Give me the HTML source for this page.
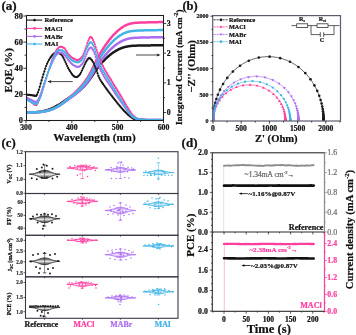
<!DOCTYPE html>
<html><head><meta charset="utf-8"><style>html,body{margin:0;padding:0;background:#fff;width:356px;height:335px;overflow:hidden}svg{display:block;filter:blur(0.3px)}text{font-family:"Liberation Serif",serif}</style></head>
<body><svg width="356" height="335" viewBox="0 0 356 335" font-family='"Liberation Serif", serif'>
<rect width="356" height="335" fill="#fff"/>
<defs><linearGradient id="g0" x1="0" y1="0" x2="0" y2="1"><stop offset="0" stop-color="#3a3a3a"/><stop offset="0.5" stop-color="#e8e8e8"/><stop offset="1" stop-color="#3a3a3a"/></linearGradient><linearGradient id="g1" x1="0" y1="0" x2="0" y2="1"><stop offset="0" stop-color="#ff5fb0"/><stop offset="0.5" stop-color="#ffe6f3"/><stop offset="1" stop-color="#ff5fb0"/></linearGradient><linearGradient id="g2" x1="0" y1="0" x2="0" y2="1"><stop offset="0" stop-color="#b98af5"/><stop offset="0.5" stop-color="#f3eafe"/><stop offset="1" stop-color="#b98af5"/></linearGradient><linearGradient id="g3" x1="0" y1="0" x2="0" y2="1"><stop offset="0" stop-color="#5fc0ec"/><stop offset="0.5" stop-color="#e8f6fd"/><stop offset="1" stop-color="#5fc0ec"/></linearGradient><clipPath id="clipA"><rect x="26" y="16" width="137.5" height="104.5"/></clipPath><clipPath id="clipB"><rect x="213" y="16" width="127.5" height="105"/></clipPath></defs>
<g clip-path="url(#clipA)">
<path d="M26.00,112.50 L26.46,112.50 L26.92,112.49 L27.38,112.49 L27.83,112.48 L28.29,112.47 L28.75,112.46 L29.21,112.45 L29.67,112.44 L30.12,112.43 L30.58,112.41 L31.04,112.40 L31.50,112.38 L31.96,112.37 L32.42,112.35 L32.88,112.32 L33.33,112.30 L33.79,112.28 L34.25,112.25 L34.71,112.22 L35.17,112.20 L35.62,112.16 L36.08,112.13 L36.54,112.10 L37.00,112.06 L37.46,112.03 L37.92,111.98 L38.38,111.94 L38.83,111.89 L39.29,111.84 L39.75,111.78 L40.21,111.72 L40.67,111.66 L41.12,111.58 L41.58,111.51 L42.04,111.43 L42.50,111.34 L42.96,111.25 L43.42,111.15 L43.88,111.04 L44.33,110.93 L44.79,110.82 L45.25,110.70 L45.71,110.57 L46.17,110.44 L46.62,110.30 L47.08,110.15 L47.54,110.01 L48.00,109.85 L48.46,109.69 L48.92,109.53 L49.38,109.36 L49.83,109.19 L50.29,109.01 L50.75,108.83 L51.21,108.64 L51.67,108.44 L52.12,108.25 L52.58,108.04 L53.04,107.83 L53.50,107.62 L53.96,107.40 L54.42,107.17 L54.88,106.94 L55.33,106.70 L55.79,106.46 L56.25,106.21 L56.71,105.95 L57.17,105.68 L57.62,105.41 L58.08,105.14 L58.54,104.85 L59.00,104.57 L59.46,104.27 L59.92,103.98 L60.38,103.68 L60.83,103.37 L61.29,103.06 L61.75,102.75 L62.21,102.44 L62.67,102.12 L63.12,101.81 L63.58,101.49 L64.04,101.17 L64.50,100.86 L64.96,100.54 L65.42,100.23 L65.88,99.91 L66.33,99.60 L66.79,99.29 L67.25,98.98 L67.71,98.67 L68.17,98.37 L68.62,98.07 L69.08,97.77 L69.54,97.48 L70.00,97.18 L70.46,96.89 L70.92,96.60 L71.38,96.31 L71.83,96.03 L72.29,95.74 L72.75,95.45 L73.21,95.16 L73.67,94.87 L74.12,94.57 L74.58,94.26 L75.04,93.94 L75.50,93.62 L75.96,93.30 L76.42,92.96 L76.88,92.63 L77.33,92.28 L77.79,91.93 L78.25,91.57 L78.71,91.21 L79.17,90.83 L79.62,90.45 L80.08,90.06 L80.54,89.66 L81.00,89.26 L81.46,88.84 L81.92,88.41 L82.38,87.97 L82.83,87.52 L83.29,87.06 L83.75,86.59 L84.21,86.11 L84.67,85.62 L85.12,85.12 L85.58,84.61 L86.04,84.09 L86.50,83.55 L86.96,83.00 L87.42,82.44 L87.88,81.86 L88.33,81.27 L88.79,80.66 L89.25,80.03 L89.71,79.39 L90.17,78.75 L90.62,78.09 L91.08,77.43 L91.54,76.76 L92.00,76.08 L92.46,75.39 L92.92,74.70 L93.38,74.00 L93.83,73.30 L94.29,72.61 L94.75,71.92 L95.21,71.24 L95.67,70.57 L96.12,69.91 L96.58,69.26 L97.04,68.63 L97.50,68.01 L97.96,67.40 L98.42,66.81 L98.88,66.23 L99.33,65.67 L99.79,65.11 L100.25,64.57 L100.71,64.03 L101.17,63.51 L101.62,62.99 L102.08,62.49 L102.54,61.99 L103.00,61.50 L103.46,61.02 L103.92,60.55 L104.38,60.08 L104.83,59.62 L105.29,59.17 L105.75,58.72 L106.21,58.28 L106.67,57.85 L107.12,57.43 L107.58,57.01 L108.04,56.59 L108.50,56.19 L108.96,55.79 L109.42,55.40 L109.88,55.02 L110.33,54.65 L110.79,54.29 L111.25,53.94 L111.71,53.60 L112.17,53.27 L112.62,52.94 L113.08,52.63 L113.54,52.32 L114.00,52.02 L114.46,51.72 L114.92,51.43 L115.38,51.16 L115.83,50.88 L116.29,50.62 L116.75,50.36 L117.21,50.11 L117.67,49.87 L118.12,49.63 L118.58,49.41 L119.04,49.19 L119.50,48.97 L119.96,48.77 L120.42,48.57 L120.87,48.38 L121.33,48.20 L121.79,48.03 L122.25,47.86 L122.71,47.71 L123.17,47.56 L123.62,47.41 L124.08,47.28 L124.54,47.15 L125.00,47.03 L125.46,46.91 L125.92,46.80 L126.38,46.70 L126.83,46.60 L127.29,46.51 L127.75,46.42 L128.21,46.34 L128.67,46.26 L129.12,46.19 L129.58,46.12 L130.04,46.06 L130.50,46.01 L130.96,45.96 L131.42,45.91 L131.88,45.87 L132.33,45.83 L132.79,45.80 L133.25,45.77 L133.71,45.75 L134.17,45.72 L134.62,45.70 L135.08,45.68 L135.54,45.67 L136.00,45.65 L136.46,45.64 L136.92,45.62 L137.38,45.61 L137.83,45.60 L138.29,45.59 L138.75,45.58 L139.21,45.58 L139.67,45.57 L140.12,45.56 L140.58,45.55 L141.04,45.54 L141.50,45.53 L141.96,45.52 L142.42,45.52 L142.88,45.51 L143.33,45.50 L143.79,45.49 L144.25,45.48 L144.71,45.48 L145.17,45.47 L145.62,45.46 L146.08,45.45 L146.54,45.45 L147.00,45.44 L147.46,45.43 L147.92,45.42 L148.38,45.41 L148.83,45.41 L149.29,45.40 L149.75,45.39 L150.21,45.38 L150.67,45.38 L151.12,45.37 L151.58,45.36 L152.04,45.35 L152.50,45.34 L152.96,45.34 L153.42,45.33 L153.88,45.32 L154.33,45.31 L154.79,45.30 L155.25,45.30 L155.71,45.29 L156.17,45.28 L156.62,45.27 L157.08,45.26 L157.54,45.26 L158.00,45.25 L158.46,45.24 L158.92,45.23 L159.38,45.22 L159.83,45.21 L160.29,45.21 L160.75,45.20 L161.21,45.19 L161.67,45.18 L162.12,45.17 L162.58,45.17 L163.04,45.16 L163.50,45.15" fill="none" stroke="#1a1a1a" stroke-width="2.5" stroke-linejoin="round" stroke-linecap="round" />
<path d="M26.00,112.50 L26.46,112.50 L26.92,112.49 L27.38,112.49 L27.83,112.48 L28.29,112.48 L28.75,112.47 L29.21,112.46 L29.67,112.45 L30.12,112.44 L30.58,112.43 L31.04,112.42 L31.50,112.41 L31.96,112.40 L32.42,112.39 L32.88,112.37 L33.33,112.36 L33.79,112.34 L34.25,112.32 L34.71,112.31 L35.17,112.29 L35.62,112.27 L36.08,112.25 L36.54,112.23 L37.00,112.21 L37.46,112.18 L37.92,112.16 L38.38,112.13 L38.83,112.10 L39.29,112.07 L39.75,112.03 L40.21,111.99 L40.67,111.95 L41.12,111.90 L41.58,111.85 L42.04,111.79 L42.50,111.73 L42.96,111.67 L43.42,111.60 L43.88,111.52 L44.33,111.44 L44.79,111.35 L45.25,111.26 L45.71,111.17 L46.17,111.07 L46.62,110.96 L47.08,110.85 L47.54,110.73 L48.00,110.61 L48.46,110.48 L48.92,110.34 L49.38,110.20 L49.83,110.06 L50.29,109.90 L50.75,109.74 L51.21,109.58 L51.67,109.40 L52.12,109.22 L52.58,109.04 L53.04,108.84 L53.50,108.64 L53.96,108.43 L54.42,108.21 L54.88,107.99 L55.33,107.75 L55.79,107.51 L56.25,107.25 L56.71,106.99 L57.17,106.72 L57.62,106.43 L58.08,106.14 L58.54,105.85 L59.00,105.54 L59.46,105.23 L59.92,104.91 L60.38,104.58 L60.83,104.25 L61.29,103.91 L61.75,103.57 L62.21,103.22 L62.67,102.86 L63.12,102.51 L63.58,102.14 L64.04,101.78 L64.50,101.41 L64.96,101.03 L65.42,100.66 L65.88,100.28 L66.33,99.90 L66.79,99.53 L67.25,99.15 L67.71,98.77 L68.17,98.39 L68.62,98.02 L69.08,97.64 L69.54,97.26 L70.00,96.89 L70.46,96.51 L70.92,96.13 L71.38,95.75 L71.83,95.37 L72.29,94.99 L72.75,94.60 L73.21,94.21 L73.67,93.80 L74.12,93.39 L74.58,92.97 L75.04,92.53 L75.50,92.09 L75.96,91.64 L76.42,91.18 L76.88,90.71 L77.33,90.24 L77.79,89.77 L78.25,89.28 L78.71,88.79 L79.17,88.30 L79.62,87.79 L80.08,87.28 L80.54,86.76 L81.00,86.23 L81.46,85.70 L81.92,85.16 L82.38,84.62 L82.83,84.06 L83.29,83.50 L83.75,82.92 L84.21,82.34 L84.67,81.74 L85.12,81.12 L85.58,80.50 L86.04,79.86 L86.50,79.20 L86.96,78.52 L87.42,77.82 L87.88,77.09 L88.33,76.33 L88.79,75.55 L89.25,74.75 L89.71,73.92 L90.17,73.07 L90.62,72.20 L91.08,71.31 L91.54,70.41 L92.00,69.49 L92.46,68.57 L92.92,67.63 L93.38,66.68 L93.83,65.73 L94.29,64.78 L94.75,63.83 L95.21,62.89 L95.67,61.97 L96.12,61.05 L96.58,60.15 L97.04,59.26 L97.50,58.39 L97.96,57.52 L98.42,56.67 L98.88,55.83 L99.33,55.01 L99.79,54.20 L100.25,53.40 L100.71,52.62 L101.17,51.86 L101.62,51.10 L102.08,50.36 L102.54,49.63 L103.00,48.92 L103.46,48.21 L103.92,47.52 L104.38,46.83 L104.83,46.16 L105.29,45.49 L105.75,44.83 L106.21,44.18 L106.67,43.54 L107.12,42.90 L107.58,42.27 L108.04,41.64 L108.50,41.03 L108.96,40.42 L109.42,39.82 L109.88,39.24 L110.33,38.66 L110.79,38.10 L111.25,37.55 L111.71,37.01 L112.17,36.48 L112.62,35.96 L113.08,35.46 L113.54,34.96 L114.00,34.48 L114.46,34.00 L114.92,33.53 L115.38,33.08 L115.83,32.63 L116.29,32.19 L116.75,31.76 L117.21,31.34 L117.67,30.92 L118.12,30.52 L118.58,30.12 L119.04,29.74 L119.50,29.36 L119.96,29.00 L120.42,28.64 L120.87,28.30 L121.33,27.97 L121.79,27.65 L122.25,27.34 L122.71,27.04 L123.17,26.75 L123.62,26.48 L124.08,26.22 L124.54,25.96 L125.00,25.72 L125.46,25.49 L125.92,25.27 L126.38,25.06 L126.83,24.87 L127.29,24.68 L127.75,24.50 L128.21,24.33 L128.67,24.18 L129.12,24.03 L129.58,23.89 L130.04,23.76 L130.50,23.64 L130.96,23.53 L131.42,23.43 L131.88,23.34 L132.33,23.25 L132.79,23.17 L133.25,23.11 L133.71,23.04 L134.17,22.98 L134.62,22.93 L135.08,22.88 L135.54,22.84 L136.00,22.80 L136.46,22.76 L136.92,22.73 L137.38,22.71 L137.83,22.68 L138.29,22.66 L138.75,22.63 L139.21,22.61 L139.67,22.59 L140.12,22.58 L140.58,22.56 L141.04,22.54 L141.50,22.53 L141.96,22.51 L142.42,22.50 L142.88,22.49 L143.33,22.47 L143.79,22.46 L144.25,22.45 L144.71,22.44 L145.17,22.43 L145.62,22.41 L146.08,22.40 L146.54,22.39 L147.00,22.38 L147.46,22.37 L147.92,22.36 L148.38,22.35 L148.83,22.34 L149.29,22.33 L149.75,22.31 L150.21,22.30 L150.67,22.29 L151.12,22.28 L151.58,22.27 L152.04,22.26 L152.50,22.25 L152.96,22.24 L153.42,22.23 L153.88,22.22 L154.33,22.21 L154.79,22.20 L155.25,22.19 L155.71,22.18 L156.17,22.17 L156.62,22.16 L157.08,22.15 L157.54,22.14 L158.00,22.13 L158.46,22.12 L158.92,22.11 L159.38,22.10 L159.83,22.09 L160.29,22.08 L160.75,22.07 L161.21,22.06 L161.67,22.05 L162.12,22.04 L162.58,22.03 L163.04,22.02 L163.50,22.01" fill="none" stroke="#ff3fa0" stroke-width="2.5" stroke-linejoin="round" stroke-linecap="round" />
<path d="M26.00,112.50 L26.46,112.50 L26.92,112.49 L27.38,112.49 L27.83,112.48 L28.29,112.48 L28.75,112.47 L29.21,112.46 L29.67,112.45 L30.12,112.44 L30.58,112.43 L31.04,112.42 L31.50,112.41 L31.96,112.39 L32.42,112.38 L32.88,112.36 L33.33,112.35 L33.79,112.33 L34.25,112.31 L34.71,112.29 L35.17,112.27 L35.62,112.25 L36.08,112.22 L36.54,112.20 L37.00,112.18 L37.46,112.15 L37.92,112.12 L38.38,112.09 L38.83,112.06 L39.29,112.02 L39.75,111.98 L40.21,111.94 L40.67,111.90 L41.12,111.85 L41.58,111.80 L42.04,111.74 L42.50,111.68 L42.96,111.61 L43.42,111.54 L43.88,111.47 L44.33,111.39 L44.79,111.31 L45.25,111.22 L45.71,111.12 L46.17,111.03 L46.62,110.92 L47.08,110.82 L47.54,110.70 L48.00,110.58 L48.46,110.46 L48.92,110.33 L49.38,110.20 L49.83,110.06 L50.29,109.92 L50.75,109.77 L51.21,109.61 L51.67,109.45 L52.12,109.28 L52.58,109.11 L53.04,108.93 L53.50,108.75 L53.96,108.56 L54.42,108.36 L54.88,108.15 L55.33,107.94 L55.79,107.72 L56.25,107.49 L56.71,107.25 L57.17,107.00 L57.62,106.75 L58.08,106.49 L58.54,106.22 L59.00,105.95 L59.46,105.67 L59.92,105.38 L60.38,105.09 L60.83,104.80 L61.29,104.50 L61.75,104.20 L62.21,103.89 L62.67,103.58 L63.12,103.26 L63.58,102.94 L64.04,102.62 L64.50,102.30 L64.96,101.97 L65.42,101.64 L65.88,101.31 L66.33,100.98 L66.79,100.65 L67.25,100.32 L67.71,99.99 L68.17,99.65 L68.62,99.32 L69.08,98.99 L69.54,98.66 L70.00,98.33 L70.46,98.00 L70.92,97.68 L71.38,97.35 L71.83,97.02 L72.29,96.69 L72.75,96.35 L73.21,96.01 L73.67,95.66 L74.12,95.31 L74.58,94.94 L75.04,94.57 L75.50,94.19 L75.96,93.80 L76.42,93.41 L76.88,93.02 L77.33,92.61 L77.79,92.21 L78.25,91.79 L78.71,91.38 L79.17,90.95 L79.62,90.52 L80.08,90.08 L80.54,89.64 L81.00,89.19 L81.46,88.74 L81.92,88.28 L82.38,87.81 L82.83,87.34 L83.29,86.85 L83.75,86.36 L84.21,85.86 L84.67,85.34 L85.12,84.82 L85.58,84.28 L86.04,83.73 L86.50,83.17 L86.96,82.58 L87.42,81.98 L87.88,81.36 L88.33,80.72 L88.79,80.06 L89.25,79.38 L89.71,78.68 L90.17,77.97 L90.62,77.23 L91.08,76.48 L91.54,75.72 L92.00,74.95 L92.46,74.17 L92.92,73.37 L93.38,72.57 L93.83,71.77 L94.29,70.97 L94.75,70.17 L95.21,69.38 L95.67,68.61 L96.12,67.85 L96.58,67.10 L97.04,66.36 L97.50,65.64 L97.96,64.93 L98.42,64.22 L98.88,63.54 L99.33,62.86 L99.79,62.20 L100.25,61.55 L100.71,60.91 L101.17,60.28 L101.62,59.67 L102.08,59.07 L102.54,58.47 L103.00,57.89 L103.46,57.32 L103.92,56.76 L104.38,56.20 L104.83,55.66 L105.29,55.12 L105.75,54.58 L106.21,54.06 L106.67,53.54 L107.12,53.02 L107.58,52.52 L108.04,52.02 L108.50,51.52 L108.96,51.03 L109.42,50.56 L109.88,50.09 L110.33,49.63 L110.79,49.18 L111.25,48.74 L111.71,48.31 L112.17,47.89 L112.62,47.49 L113.08,47.09 L113.54,46.70 L114.00,46.32 L114.46,45.95 L114.92,45.58 L115.38,45.23 L115.83,44.88 L116.29,44.54 L116.75,44.21 L117.21,43.89 L117.67,43.57 L118.12,43.27 L118.58,42.97 L119.04,42.68 L119.50,42.40 L119.96,42.12 L120.42,41.86 L120.87,41.60 L121.33,41.36 L121.79,41.12 L122.25,40.89 L122.71,40.67 L123.17,40.46 L123.62,40.26 L124.08,40.07 L124.54,39.89 L125.00,39.72 L125.46,39.55 L125.92,39.39 L126.38,39.25 L126.83,39.11 L127.29,38.98 L127.75,38.86 L128.21,38.74 L128.67,38.64 L129.12,38.54 L129.58,38.45 L130.04,38.36 L130.50,38.29 L130.96,38.21 L131.42,38.15 L131.88,38.09 L132.33,38.03 L132.79,37.99 L133.25,37.94 L133.71,37.90 L134.17,37.86 L134.62,37.83 L135.08,37.80 L135.54,37.77 L136.00,37.74 L136.46,37.72 L136.92,37.70 L137.38,37.68 L137.83,37.66 L138.29,37.64 L138.75,37.63 L139.21,37.61 L139.67,37.60 L140.12,37.58 L140.58,37.57 L141.04,37.56 L141.50,37.55 L141.96,37.54 L142.42,37.52 L142.88,37.51 L143.33,37.50 L143.79,37.49 L144.25,37.48 L144.71,37.48 L145.17,37.47 L145.62,37.46 L146.08,37.45 L146.54,37.44 L147.00,37.43 L147.46,37.42 L147.92,37.41 L148.38,37.40 L148.83,37.40 L149.29,37.39 L149.75,37.38 L150.21,37.37 L150.67,37.36 L151.12,37.35 L151.58,37.34 L152.04,37.34 L152.50,37.33 L152.96,37.32 L153.42,37.31 L153.88,37.30 L154.33,37.30 L154.79,37.29 L155.25,37.28 L155.71,37.27 L156.17,37.26 L156.62,37.26 L157.08,37.25 L157.54,37.24 L158.00,37.23 L158.46,37.22 L158.92,37.22 L159.38,37.21 L159.83,37.20 L160.29,37.19 L160.75,37.19 L161.21,37.18 L161.67,37.17 L162.12,37.16 L162.58,37.15 L163.04,37.15 L163.50,37.14" fill="none" stroke="#ab6cf0" stroke-width="2.5" stroke-linejoin="round" stroke-linecap="round" />
<path d="M26.00,112.50 L26.46,112.50 L26.92,112.49 L27.38,112.49 L27.83,112.48 L28.29,112.48 L28.75,112.47 L29.21,112.46 L29.67,112.46 L30.12,112.45 L30.58,112.44 L31.04,112.43 L31.50,112.41 L31.96,112.40 L32.42,112.39 L32.88,112.37 L33.33,112.36 L33.79,112.34 L34.25,112.32 L34.71,112.31 L35.17,112.29 L35.62,112.27 L36.08,112.25 L36.54,112.23 L37.00,112.20 L37.46,112.18 L37.92,112.15 L38.38,112.13 L38.83,112.09 L39.29,112.06 L39.75,112.03 L40.21,111.99 L40.67,111.94 L41.12,111.90 L41.58,111.85 L42.04,111.79 L42.50,111.73 L42.96,111.67 L43.42,111.60 L43.88,111.53 L44.33,111.45 L44.79,111.36 L45.25,111.27 L45.71,111.18 L46.17,111.08 L46.62,110.98 L47.08,110.87 L47.54,110.75 L48.00,110.63 L48.46,110.51 L48.92,110.38 L49.38,110.24 L49.83,110.10 L50.29,109.95 L50.75,109.80 L51.21,109.63 L51.67,109.47 L52.12,109.29 L52.58,109.11 L53.04,108.92 L53.50,108.73 L53.96,108.53 L54.42,108.32 L54.88,108.10 L55.33,107.88 L55.79,107.64 L56.25,107.40 L56.71,107.14 L57.17,106.88 L57.62,106.61 L58.08,106.34 L58.54,106.06 L59.00,105.77 L59.46,105.47 L59.92,105.17 L60.38,104.86 L60.83,104.55 L61.29,104.23 L61.75,103.91 L62.21,103.58 L62.67,103.25 L63.12,102.92 L63.58,102.58 L64.04,102.23 L64.50,101.89 L64.96,101.54 L65.42,101.19 L65.88,100.83 L66.33,100.48 L66.79,100.12 L67.25,99.77 L67.71,99.41 L68.17,99.06 L68.62,98.70 L69.08,98.35 L69.54,97.99 L70.00,97.63 L70.46,97.28 L70.92,96.92 L71.38,96.57 L71.83,96.21 L72.29,95.85 L72.75,95.48 L73.21,95.11 L73.67,94.73 L74.12,94.34 L74.58,93.94 L75.04,93.53 L75.50,93.12 L75.96,92.69 L76.42,92.26 L76.88,91.82 L77.33,91.37 L77.79,90.92 L78.25,90.46 L78.71,90.00 L79.17,89.53 L79.62,89.06 L80.08,88.57 L80.54,88.08 L81.00,87.59 L81.46,87.08 L81.92,86.58 L82.38,86.06 L82.83,85.54 L83.29,85.01 L83.75,84.46 L84.21,83.91 L84.67,83.34 L85.12,82.76 L85.58,82.16 L86.04,81.56 L86.50,80.94 L86.96,80.30 L87.42,79.64 L87.88,78.96 L88.33,78.25 L88.79,77.53 L89.25,76.79 L89.71,76.02 L90.17,75.24 L90.62,74.43 L91.08,73.61 L91.54,72.78 L92.00,71.94 L92.46,71.08 L92.92,70.21 L93.38,69.33 L93.83,68.45 L94.29,67.57 L94.75,66.70 L95.21,65.83 L95.67,64.98 L96.12,64.14 L96.58,63.32 L97.04,62.51 L97.50,61.72 L97.96,60.93 L98.42,60.16 L98.88,59.41 L99.33,58.66 L99.79,57.93 L100.25,57.22 L100.71,56.52 L101.17,55.83 L101.62,55.15 L102.08,54.48 L102.54,53.83 L103.00,53.19 L103.46,52.55 L103.92,51.93 L104.38,51.31 L104.83,50.70 L105.29,50.10 L105.75,49.50 L106.21,48.92 L106.67,48.33 L107.12,47.76 L107.58,47.19 L108.04,46.63 L108.50,46.08 L108.96,45.53 L109.42,45.00 L109.88,44.47 L110.33,43.96 L110.79,43.46 L111.25,42.97 L111.71,42.49 L112.17,42.02 L112.62,41.57 L113.08,41.12 L113.54,40.69 L114.00,40.26 L114.46,39.85 L114.92,39.44 L115.38,39.04 L115.83,38.65 L116.29,38.27 L116.75,37.90 L117.21,37.54 L117.67,37.19 L118.12,36.84 L118.58,36.51 L119.04,36.19 L119.50,35.87 L119.96,35.56 L120.42,35.27 L120.87,34.98 L121.33,34.71 L121.79,34.44 L122.25,34.19 L122.71,33.94 L123.17,33.71 L123.62,33.49 L124.08,33.27 L124.54,33.07 L125.00,32.87 L125.46,32.69 L125.92,32.51 L126.38,32.35 L126.83,32.20 L127.29,32.05 L127.75,31.92 L128.21,31.79 L128.67,31.67 L129.12,31.56 L129.58,31.46 L130.04,31.37 L130.50,31.28 L130.96,31.20 L131.42,31.12 L131.88,31.06 L132.33,30.99 L132.79,30.94 L133.25,30.89 L133.71,30.84 L134.17,30.80 L134.62,30.76 L135.08,30.72 L135.54,30.69 L136.00,30.66 L136.46,30.63 L136.92,30.60 L137.38,30.58 L137.83,30.56 L138.29,30.54 L138.75,30.52 L139.21,30.51 L139.67,30.49 L140.12,30.48 L140.58,30.46 L141.04,30.45 L141.50,30.44 L141.96,30.42 L142.42,30.41 L142.88,30.40 L143.33,30.39 L143.79,30.38 L144.25,30.37 L144.71,30.36 L145.17,30.35 L145.62,30.34 L146.08,30.33 L146.54,30.32 L147.00,30.31 L147.46,30.31 L147.92,30.30 L148.38,30.29 L148.83,30.28 L149.29,30.27 L149.75,30.26 L150.21,30.25 L150.67,30.24 L151.12,30.24 L151.58,30.23 L152.04,30.22 L152.50,30.21 L152.96,30.20 L153.42,30.19 L153.88,30.19 L154.33,30.18 L154.79,30.17 L155.25,30.16 L155.71,30.15 L156.17,30.15 L156.62,30.14 L157.08,30.13 L157.54,30.12 L158.00,30.11 L158.46,30.11 L158.92,30.10 L159.38,30.09 L159.83,30.08 L160.29,30.07 L160.75,30.07 L161.21,30.06 L161.67,30.05 L162.12,30.04 L162.58,30.03 L163.04,30.03 L163.50,30.02" fill="none" stroke="#42b4e6" stroke-width="2.5" stroke-linejoin="round" stroke-linecap="round" />
<path d="M26.00,94.64 L26.46,94.66 L26.92,94.69 L27.38,94.73 L27.83,94.77 L28.29,94.81 L28.75,94.85 L29.21,94.90 L29.67,94.94 L30.12,95.00 L30.58,95.05 L31.04,95.10 L31.50,95.16 L31.96,95.23 L32.42,95.31 L32.88,95.41 L33.33,95.52 L33.79,95.62 L34.25,95.72 L34.71,95.81 L35.17,95.88 L35.62,95.93 L36.08,95.94 L36.54,95.59 L37.00,94.72 L37.46,93.58 L37.92,92.42 L38.38,91.22 L38.83,89.85 L39.29,88.34 L39.75,86.75 L40.21,85.12 L40.67,83.51 L41.12,81.97 L41.58,80.46 L42.04,78.94 L42.50,77.41 L42.96,75.89 L43.42,74.40 L43.88,72.93 L44.33,71.52 L44.79,70.11 L45.25,68.70 L45.71,67.32 L46.17,65.99 L46.62,64.77 L47.08,63.68 L47.54,62.69 L48.00,61.75 L48.46,60.86 L48.92,60.02 L49.38,59.23 L49.83,58.48 L50.29,57.79 L50.75,57.15 L51.21,56.52 L51.67,55.91 L52.12,55.32 L52.58,54.78 L53.04,54.30 L53.50,53.91 L53.96,53.62 L54.42,53.39 L54.88,53.18 L55.33,52.98 L55.79,52.82 L56.25,52.69 L56.71,52.60 L57.17,52.58 L57.62,52.61 L58.08,52.70 L58.54,52.85 L59.00,53.04 L59.46,53.28 L59.92,53.56 L60.38,53.86 L60.83,54.19 L61.29,54.53 L61.75,55.00 L62.21,55.65 L62.67,56.44 L63.12,57.31 L63.58,58.22 L64.04,59.11 L64.50,60.02 L64.96,61.01 L65.42,62.02 L65.88,63.02 L66.33,64.03 L66.79,65.05 L67.25,66.08 L67.71,67.08 L68.17,68.03 L68.62,68.90 L69.08,69.71 L69.54,70.47 L70.00,71.20 L70.46,71.90 L70.92,72.57 L71.38,73.21 L71.83,73.88 L72.29,74.55 L72.75,75.19 L73.21,75.72 L73.67,76.09 L74.12,76.35 L74.58,76.60 L75.04,76.81 L75.50,76.98 L75.96,77.09 L76.42,77.13 L76.88,77.06 L77.33,76.86 L77.79,76.56 L78.25,76.18 L78.71,75.74 L79.17,75.27 L79.62,74.78 L80.08,74.20 L80.54,73.46 L81.00,72.58 L81.46,71.62 L81.92,70.60 L82.38,69.57 L82.83,68.55 L83.29,67.60 L83.75,66.64 L84.21,65.63 L84.67,64.60 L85.12,63.60 L85.58,62.65 L86.04,61.79 L86.50,61.07 L86.96,60.39 L87.42,59.71 L87.88,59.08 L88.33,58.55 L88.79,58.19 L89.25,58.06 L89.71,58.16 L90.17,58.43 L90.62,58.83 L91.08,59.32 L91.54,59.86 L92.00,60.41 L92.46,61.05 L92.92,61.85 L93.38,62.77 L93.83,63.79 L94.29,64.88 L94.75,66.01 L95.21,67.14 L95.67,68.25 L96.12,69.40 L96.58,70.66 L97.04,71.98 L97.50,73.32 L97.96,74.64 L98.42,75.90 L98.88,77.05 L99.33,78.05 L99.79,78.93 L100.25,79.76 L100.71,80.54 L101.17,81.28 L101.62,81.99 L102.08,82.67 L102.54,83.33 L103.00,83.97 L103.46,84.61 L103.92,85.24 L104.38,85.88 L104.83,86.54 L105.29,87.20 L105.75,87.85 L106.21,88.49 L106.67,89.13 L107.12,89.77 L107.58,90.40 L108.04,91.02 L108.50,91.64 L108.96,92.25 L109.42,92.86 L109.88,93.47 L110.33,94.07 L110.79,94.67 L111.25,95.27 L111.71,95.87 L112.17,96.46 L112.62,97.05 L113.08,97.64 L113.54,98.23 L114.00,98.81 L114.46,99.40 L114.92,99.97 L115.38,100.55 L115.83,101.12 L116.29,101.69 L116.75,102.26 L117.21,102.82 L117.67,103.38 L118.12,103.94 L118.58,104.49 L119.04,105.04 L119.50,105.59 L119.96,106.13 L120.42,106.67 L120.87,107.22 L121.33,107.76 L121.79,108.30 L122.25,108.84 L122.71,109.37 L123.17,109.89 L123.62,110.39 L124.08,110.88 L124.54,111.36 L125.00,111.82 L125.46,112.27 L125.92,112.71 L126.38,113.14 L126.83,113.57 L127.29,113.98 L127.75,114.39 L128.21,114.78 L128.67,115.16 L129.12,115.54 L129.58,115.91 L130.04,116.29 L130.50,116.68 L130.96,117.06 L131.42,117.43 L131.88,117.78 L132.33,118.09 L132.79,118.38 L133.25,118.62 L133.71,118.80 L134.17,118.96 L134.62,119.11 L135.08,119.25 L135.54,119.38 L136.00,119.50 L136.46,119.61 L136.92,119.70 L137.38,119.77 L137.83,119.82 L138.29,119.85 L138.75,119.86 L139.21,119.88 L139.67,119.89 L140.12,119.91 L140.58,119.92 L141.04,119.93 L141.50,119.94 L141.96,119.95 L142.42,119.96 L142.88,119.96 L143.33,119.97 L143.79,119.97 L144.25,119.98 L144.71,119.98 L145.17,119.98 L145.62,119.98 L146.08,119.98 L146.54,119.98 L147.00,119.98 L147.46,119.98 L147.92,119.98 L148.38,119.98 L148.83,119.98 L149.29,119.98 L149.75,119.98 L150.21,119.98 L150.67,119.98 L151.12,119.98 L151.58,119.98 L152.04,119.98 L152.50,119.98 L152.96,119.98 L153.42,119.98 L153.88,119.98 L154.33,119.98 L154.79,119.98 L155.25,119.98 L155.71,119.98 L156.17,119.98 L156.62,119.98 L157.08,119.98 L157.54,119.98 L158.00,119.98 L158.46,119.98 L158.92,119.98 L159.38,119.98 L159.83,119.98 L160.29,119.98 L160.75,119.98 L161.21,119.98 L161.67,119.98 L162.12,119.98 L162.58,119.98 L163.04,119.98 L163.50,119.98" fill="none" stroke="#1a1a1a" stroke-width="1.0" stroke-linejoin="round" stroke-linecap="round" />
<g fill="#1a1a1a"><circle cx="26.00" cy="94.64" r="1.1"/><circle cx="26.92" cy="94.69" r="1.1"/><circle cx="27.83" cy="94.77" r="1.1"/><circle cx="28.75" cy="94.85" r="1.1"/><circle cx="29.67" cy="94.94" r="1.1"/><circle cx="30.58" cy="95.05" r="1.1"/><circle cx="31.50" cy="95.16" r="1.1"/><circle cx="32.42" cy="95.31" r="1.1"/><circle cx="33.33" cy="95.52" r="1.1"/><circle cx="34.25" cy="95.72" r="1.1"/><circle cx="35.17" cy="95.88" r="1.1"/><circle cx="36.08" cy="95.94" r="1.1"/><circle cx="37.00" cy="94.72" r="1.1"/><circle cx="37.92" cy="92.42" r="1.1"/><circle cx="38.83" cy="89.85" r="1.1"/><circle cx="39.75" cy="86.75" r="1.1"/><circle cx="40.67" cy="83.51" r="1.1"/><circle cx="41.58" cy="80.46" r="1.1"/><circle cx="42.50" cy="77.41" r="1.1"/><circle cx="43.42" cy="74.40" r="1.1"/><circle cx="44.33" cy="71.52" r="1.1"/><circle cx="45.25" cy="68.70" r="1.1"/><circle cx="46.17" cy="65.99" r="1.1"/><circle cx="47.08" cy="63.68" r="1.1"/><circle cx="48.00" cy="61.75" r="1.1"/><circle cx="48.92" cy="60.02" r="1.1"/><circle cx="49.83" cy="58.48" r="1.1"/><circle cx="50.75" cy="57.15" r="1.1"/><circle cx="51.67" cy="55.91" r="1.1"/><circle cx="52.58" cy="54.78" r="1.1"/><circle cx="53.50" cy="53.91" r="1.1"/><circle cx="54.42" cy="53.39" r="1.1"/><circle cx="55.33" cy="52.98" r="1.1"/><circle cx="56.25" cy="52.69" r="1.1"/><circle cx="57.17" cy="52.58" r="1.1"/><circle cx="58.08" cy="52.70" r="1.1"/><circle cx="59.00" cy="53.04" r="1.1"/><circle cx="59.92" cy="53.56" r="1.1"/><circle cx="60.83" cy="54.19" r="1.1"/><circle cx="61.75" cy="55.00" r="1.1"/><circle cx="62.67" cy="56.44" r="1.1"/><circle cx="63.58" cy="58.22" r="1.1"/><circle cx="64.50" cy="60.02" r="1.1"/><circle cx="65.42" cy="62.02" r="1.1"/><circle cx="66.33" cy="64.03" r="1.1"/><circle cx="67.25" cy="66.08" r="1.1"/><circle cx="68.17" cy="68.03" r="1.1"/><circle cx="69.08" cy="69.71" r="1.1"/><circle cx="70.00" cy="71.20" r="1.1"/><circle cx="70.92" cy="72.57" r="1.1"/><circle cx="71.83" cy="73.88" r="1.1"/><circle cx="72.75" cy="75.19" r="1.1"/><circle cx="73.67" cy="76.09" r="1.1"/><circle cx="74.58" cy="76.60" r="1.1"/><circle cx="75.50" cy="76.98" r="1.1"/><circle cx="76.42" cy="77.13" r="1.1"/><circle cx="77.33" cy="76.86" r="1.1"/><circle cx="78.25" cy="76.18" r="1.1"/><circle cx="79.17" cy="75.27" r="1.1"/><circle cx="80.08" cy="74.20" r="1.1"/><circle cx="81.00" cy="72.58" r="1.1"/><circle cx="81.92" cy="70.60" r="1.1"/><circle cx="82.83" cy="68.55" r="1.1"/><circle cx="83.75" cy="66.64" r="1.1"/><circle cx="84.67" cy="64.60" r="1.1"/><circle cx="85.58" cy="62.65" r="1.1"/><circle cx="86.50" cy="61.07" r="1.1"/><circle cx="87.42" cy="59.71" r="1.1"/><circle cx="88.33" cy="58.55" r="1.1"/><circle cx="89.25" cy="58.06" r="1.1"/><circle cx="90.17" cy="58.43" r="1.1"/><circle cx="91.08" cy="59.32" r="1.1"/><circle cx="92.00" cy="60.41" r="1.1"/><circle cx="92.92" cy="61.85" r="1.1"/><circle cx="93.83" cy="63.79" r="1.1"/><circle cx="94.75" cy="66.01" r="1.1"/><circle cx="95.67" cy="68.25" r="1.1"/><circle cx="96.58" cy="70.66" r="1.1"/><circle cx="97.50" cy="73.32" r="1.1"/><circle cx="98.42" cy="75.90" r="1.1"/><circle cx="99.33" cy="78.05" r="1.1"/><circle cx="100.25" cy="79.76" r="1.1"/><circle cx="101.17" cy="81.28" r="1.1"/><circle cx="102.08" cy="82.67" r="1.1"/><circle cx="103.00" cy="83.97" r="1.1"/><circle cx="103.92" cy="85.24" r="1.1"/><circle cx="104.83" cy="86.54" r="1.1"/><circle cx="105.75" cy="87.85" r="1.1"/><circle cx="106.67" cy="89.13" r="1.1"/><circle cx="107.58" cy="90.40" r="1.1"/><circle cx="108.50" cy="91.64" r="1.1"/><circle cx="109.42" cy="92.86" r="1.1"/><circle cx="110.33" cy="94.07" r="1.1"/><circle cx="111.25" cy="95.27" r="1.1"/><circle cx="112.17" cy="96.46" r="1.1"/><circle cx="113.08" cy="97.64" r="1.1"/><circle cx="114.00" cy="98.81" r="1.1"/><circle cx="114.92" cy="99.97" r="1.1"/><circle cx="115.83" cy="101.12" r="1.1"/><circle cx="116.75" cy="102.26" r="1.1"/><circle cx="117.67" cy="103.38" r="1.1"/><circle cx="118.58" cy="104.49" r="1.1"/><circle cx="119.50" cy="105.59" r="1.1"/><circle cx="120.42" cy="106.67" r="1.1"/><circle cx="121.33" cy="107.76" r="1.1"/><circle cx="122.25" cy="108.84" r="1.1"/><circle cx="123.17" cy="109.89" r="1.1"/><circle cx="124.08" cy="110.88" r="1.1"/><circle cx="125.00" cy="111.82" r="1.1"/><circle cx="125.92" cy="112.71" r="1.1"/><circle cx="126.83" cy="113.57" r="1.1"/><circle cx="127.75" cy="114.39" r="1.1"/><circle cx="128.67" cy="115.16" r="1.1"/><circle cx="129.58" cy="115.91" r="1.1"/><circle cx="130.50" cy="116.68" r="1.1"/><circle cx="131.42" cy="117.43" r="1.1"/><circle cx="132.33" cy="118.09" r="1.1"/><circle cx="133.25" cy="118.62" r="1.1"/><circle cx="134.17" cy="118.96" r="1.1"/><circle cx="135.08" cy="119.25" r="1.1"/><circle cx="136.00" cy="119.50" r="1.1"/><circle cx="136.92" cy="119.70" r="1.1"/><circle cx="137.83" cy="119.82" r="1.1"/><circle cx="138.75" cy="119.86" r="1.1"/><circle cx="139.67" cy="119.89" r="1.1"/><circle cx="140.58" cy="119.92" r="1.1"/><circle cx="141.50" cy="119.94" r="1.1"/><circle cx="142.42" cy="119.96" r="1.1"/><circle cx="143.33" cy="119.97" r="1.1"/><circle cx="144.25" cy="119.98" r="1.1"/><circle cx="145.17" cy="119.98" r="1.1"/><circle cx="146.08" cy="119.98" r="1.1"/><circle cx="147.00" cy="119.98" r="1.1"/><circle cx="147.92" cy="119.98" r="1.1"/><circle cx="148.83" cy="119.98" r="1.1"/><circle cx="149.75" cy="119.98" r="1.1"/><circle cx="150.67" cy="119.98" r="1.1"/><circle cx="151.58" cy="119.98" r="1.1"/><circle cx="152.50" cy="119.98" r="1.1"/><circle cx="153.42" cy="119.98" r="1.1"/><circle cx="154.33" cy="119.98" r="1.1"/><circle cx="155.25" cy="119.98" r="1.1"/><circle cx="156.17" cy="119.98" r="1.1"/><circle cx="157.08" cy="119.98" r="1.1"/><circle cx="158.00" cy="119.98" r="1.1"/><circle cx="158.92" cy="119.98" r="1.1"/><circle cx="159.83" cy="119.98" r="1.1"/><circle cx="160.75" cy="119.98" r="1.1"/><circle cx="161.67" cy="119.98" r="1.1"/><circle cx="162.58" cy="119.98" r="1.1"/><circle cx="163.50" cy="119.98" r="1.1"/></g>
<path d="M26.00,98.29 L26.46,98.63 L26.92,98.97 L27.38,99.31 L27.83,99.64 L28.29,99.97 L28.75,100.29 L29.21,100.61 L29.67,100.93 L30.12,101.25 L30.58,101.56 L31.04,101.89 L31.50,102.25 L31.96,102.63 L32.42,103.02 L32.88,103.41 L33.33,103.79 L33.79,104.14 L34.25,104.45 L34.71,104.71 L35.17,104.91 L35.62,105.04 L36.08,105.09 L36.54,104.91 L37.00,104.42 L37.46,103.68 L37.92,102.75 L38.38,101.68 L38.83,100.54 L39.29,99.40 L39.75,98.29 L40.21,97.16 L40.67,95.91 L41.12,94.54 L41.58,93.09 L42.04,91.58 L42.50,90.04 L42.96,88.47 L43.42,86.92 L43.88,85.40 L44.33,83.93 L44.79,82.48 L45.25,81.03 L45.71,79.57 L46.17,78.11 L46.62,76.66 L47.08,75.21 L47.54,73.77 L48.00,72.34 L48.46,70.94 L48.92,69.56 L49.38,68.18 L49.83,66.78 L50.29,65.39 L50.75,64.00 L51.21,62.64 L51.67,61.30 L52.12,60.01 L52.58,58.77 L53.04,57.59 L53.50,56.49 L53.96,55.43 L54.42,54.38 L54.88,53.35 L55.33,52.37 L55.79,51.45 L56.25,50.62 L56.71,49.90 L57.17,49.31 L57.62,48.78 L58.08,48.26 L58.54,47.77 L59.00,47.34 L59.46,47.00 L59.92,46.78 L60.38,46.70 L60.83,46.73 L61.29,46.81 L61.75,46.93 L62.21,47.09 L62.67,47.29 L63.12,47.51 L63.58,47.75 L64.04,48.00 L64.50,48.35 L64.96,48.85 L65.42,49.48 L65.88,50.20 L66.33,50.98 L66.79,51.78 L67.25,52.56 L67.71,53.31 L68.17,53.98 L68.62,54.53 L69.08,55.02 L69.54,55.50 L70.00,55.96 L70.46,56.40 L70.92,56.83 L71.38,57.22 L71.83,57.59 L72.29,57.92 L72.75,58.21 L73.21,58.45 L73.67,58.68 L74.12,58.90 L74.58,59.12 L75.04,59.33 L75.50,59.52 L75.96,59.68 L76.42,59.82 L76.88,59.93 L77.33,60.00 L77.79,60.02 L78.25,59.97 L78.71,59.83 L79.17,59.61 L79.62,59.31 L80.08,58.96 L80.54,58.55 L81.00,58.11 L81.46,57.64 L81.92,57.15 L82.38,56.53 L82.83,55.70 L83.29,54.70 L83.75,53.58 L84.21,52.37 L84.67,51.12 L85.12,49.87 L85.58,48.66 L86.04,47.39 L86.50,45.99 L86.96,44.53 L87.42,43.08 L87.88,41.71 L88.33,40.50 L88.79,39.51 L89.25,38.63 L89.71,37.78 L90.17,37.15 L90.62,36.90 L91.08,37.07 L91.54,37.53 L92.00,38.22 L92.46,39.04 L92.92,39.93 L93.38,40.82 L93.83,41.79 L94.29,42.95 L94.75,44.25 L95.21,45.65 L95.67,47.10 L96.12,48.55 L96.58,49.95 L97.04,51.27 L97.50,52.53 L97.96,53.80 L98.42,55.06 L98.88,56.32 L99.33,57.57 L99.79,58.79 L100.25,59.98 L100.71,61.13 L101.17,62.24 L101.62,63.29 L102.08,64.29 L102.54,65.26 L103.00,66.20 L103.46,67.12 L103.92,68.01 L104.38,68.87 L104.83,69.72 L105.29,70.55 L105.75,71.37 L106.21,72.17 L106.67,72.95 L107.12,73.70 L107.58,74.43 L108.04,75.14 L108.50,75.84 L108.96,76.54 L109.42,77.25 L109.88,77.96 L110.33,78.70 L110.79,79.45 L111.25,80.22 L111.71,80.99 L112.17,81.77 L112.62,82.56 L113.08,83.34 L113.54,84.13 L114.00,84.90 L114.46,85.68 L114.92,86.44 L115.38,87.19 L115.83,87.93 L116.29,88.65 L116.75,89.36 L117.21,90.07 L117.67,90.78 L118.12,91.48 L118.58,92.19 L119.04,92.91 L119.50,93.63 L119.96,94.38 L120.42,95.13 L120.87,95.90 L121.33,96.68 L121.79,97.46 L122.25,98.25 L122.71,99.04 L123.17,99.84 L123.62,100.63 L124.08,101.43 L124.54,102.21 L125.00,103.00 L125.46,103.81 L125.92,104.62 L126.38,105.44 L126.83,106.25 L127.29,107.05 L127.75,107.84 L128.21,108.60 L128.67,109.34 L129.12,110.05 L129.58,110.75 L130.04,111.45 L130.50,112.15 L130.96,112.84 L131.42,113.51 L131.88,114.14 L132.33,114.74 L132.79,115.29 L133.25,115.77 L133.71,116.19 L134.17,116.57 L134.62,116.93 L135.08,117.28 L135.54,117.61 L136.00,117.92 L136.46,118.20 L136.92,118.44 L137.38,118.65 L137.83,118.82 L138.29,118.93 L138.75,119.02 L139.21,119.11 L139.67,119.19 L140.12,119.26 L140.58,119.33 L141.04,119.40 L141.50,119.46 L141.96,119.51 L142.42,119.56 L142.88,119.60 L143.33,119.64 L143.79,119.67 L144.25,119.69 L144.71,119.71 L145.17,119.72 L145.62,119.72 L146.08,119.73 L146.54,119.74 L147.00,119.74 L147.46,119.75 L147.92,119.75 L148.38,119.76 L148.83,119.77 L149.29,119.77 L149.75,119.78 L150.21,119.78 L150.67,119.79 L151.12,119.79 L151.58,119.80 L152.04,119.80 L152.50,119.80 L152.96,119.81 L153.42,119.81 L153.88,119.81 L154.33,119.82 L154.79,119.82 L155.25,119.82 L155.71,119.83 L156.17,119.83 L156.62,119.83 L157.08,119.83 L157.54,119.83 L158.00,119.84 L158.46,119.84 L158.92,119.84 L159.38,119.84 L159.83,119.84 L160.29,119.84 L160.75,119.84 L161.21,119.85 L161.67,119.85 L162.12,119.85 L162.58,119.85 L163.04,119.85 L163.50,119.85" fill="none" stroke="#ff3fa0" stroke-width="1.0" stroke-linejoin="round" stroke-linecap="round" />
<g fill="#ff3fa0"><circle cx="26.00" cy="98.29" r="1.1"/><circle cx="26.92" cy="98.97" r="1.1"/><circle cx="27.83" cy="99.64" r="1.1"/><circle cx="28.75" cy="100.29" r="1.1"/><circle cx="29.67" cy="100.93" r="1.1"/><circle cx="30.58" cy="101.56" r="1.1"/><circle cx="31.50" cy="102.25" r="1.1"/><circle cx="32.42" cy="103.02" r="1.1"/><circle cx="33.33" cy="103.79" r="1.1"/><circle cx="34.25" cy="104.45" r="1.1"/><circle cx="35.17" cy="104.91" r="1.1"/><circle cx="36.08" cy="105.09" r="1.1"/><circle cx="37.00" cy="104.42" r="1.1"/><circle cx="37.92" cy="102.75" r="1.1"/><circle cx="38.83" cy="100.54" r="1.1"/><circle cx="39.75" cy="98.29" r="1.1"/><circle cx="40.67" cy="95.91" r="1.1"/><circle cx="41.58" cy="93.09" r="1.1"/><circle cx="42.50" cy="90.04" r="1.1"/><circle cx="43.42" cy="86.92" r="1.1"/><circle cx="44.33" cy="83.93" r="1.1"/><circle cx="45.25" cy="81.03" r="1.1"/><circle cx="46.17" cy="78.11" r="1.1"/><circle cx="47.08" cy="75.21" r="1.1"/><circle cx="48.00" cy="72.34" r="1.1"/><circle cx="48.92" cy="69.56" r="1.1"/><circle cx="49.83" cy="66.78" r="1.1"/><circle cx="50.75" cy="64.00" r="1.1"/><circle cx="51.67" cy="61.30" r="1.1"/><circle cx="52.58" cy="58.77" r="1.1"/><circle cx="53.50" cy="56.49" r="1.1"/><circle cx="54.42" cy="54.38" r="1.1"/><circle cx="55.33" cy="52.37" r="1.1"/><circle cx="56.25" cy="50.62" r="1.1"/><circle cx="57.17" cy="49.31" r="1.1"/><circle cx="58.08" cy="48.26" r="1.1"/><circle cx="59.00" cy="47.34" r="1.1"/><circle cx="59.92" cy="46.78" r="1.1"/><circle cx="60.83" cy="46.73" r="1.1"/><circle cx="61.75" cy="46.93" r="1.1"/><circle cx="62.67" cy="47.29" r="1.1"/><circle cx="63.58" cy="47.75" r="1.1"/><circle cx="64.50" cy="48.35" r="1.1"/><circle cx="65.42" cy="49.48" r="1.1"/><circle cx="66.33" cy="50.98" r="1.1"/><circle cx="67.25" cy="52.56" r="1.1"/><circle cx="68.17" cy="53.98" r="1.1"/><circle cx="69.08" cy="55.02" r="1.1"/><circle cx="70.00" cy="55.96" r="1.1"/><circle cx="70.92" cy="56.83" r="1.1"/><circle cx="71.83" cy="57.59" r="1.1"/><circle cx="72.75" cy="58.21" r="1.1"/><circle cx="73.67" cy="58.68" r="1.1"/><circle cx="74.58" cy="59.12" r="1.1"/><circle cx="75.50" cy="59.52" r="1.1"/><circle cx="76.42" cy="59.82" r="1.1"/><circle cx="77.33" cy="60.00" r="1.1"/><circle cx="78.25" cy="59.97" r="1.1"/><circle cx="79.17" cy="59.61" r="1.1"/><circle cx="80.08" cy="58.96" r="1.1"/><circle cx="81.00" cy="58.11" r="1.1"/><circle cx="81.92" cy="57.15" r="1.1"/><circle cx="82.83" cy="55.70" r="1.1"/><circle cx="83.75" cy="53.58" r="1.1"/><circle cx="84.67" cy="51.12" r="1.1"/><circle cx="85.58" cy="48.66" r="1.1"/><circle cx="86.50" cy="45.99" r="1.1"/><circle cx="87.42" cy="43.08" r="1.1"/><circle cx="88.33" cy="40.50" r="1.1"/><circle cx="89.25" cy="38.63" r="1.1"/><circle cx="90.17" cy="37.15" r="1.1"/><circle cx="91.08" cy="37.07" r="1.1"/><circle cx="92.00" cy="38.22" r="1.1"/><circle cx="92.92" cy="39.93" r="1.1"/><circle cx="93.83" cy="41.79" r="1.1"/><circle cx="94.75" cy="44.25" r="1.1"/><circle cx="95.67" cy="47.10" r="1.1"/><circle cx="96.58" cy="49.95" r="1.1"/><circle cx="97.50" cy="52.53" r="1.1"/><circle cx="98.42" cy="55.06" r="1.1"/><circle cx="99.33" cy="57.57" r="1.1"/><circle cx="100.25" cy="59.98" r="1.1"/><circle cx="101.17" cy="62.24" r="1.1"/><circle cx="102.08" cy="64.29" r="1.1"/><circle cx="103.00" cy="66.20" r="1.1"/><circle cx="103.92" cy="68.01" r="1.1"/><circle cx="104.83" cy="69.72" r="1.1"/><circle cx="105.75" cy="71.37" r="1.1"/><circle cx="106.67" cy="72.95" r="1.1"/><circle cx="107.58" cy="74.43" r="1.1"/><circle cx="108.50" cy="75.84" r="1.1"/><circle cx="109.42" cy="77.25" r="1.1"/><circle cx="110.33" cy="78.70" r="1.1"/><circle cx="111.25" cy="80.22" r="1.1"/><circle cx="112.17" cy="81.77" r="1.1"/><circle cx="113.08" cy="83.34" r="1.1"/><circle cx="114.00" cy="84.90" r="1.1"/><circle cx="114.92" cy="86.44" r="1.1"/><circle cx="115.83" cy="87.93" r="1.1"/><circle cx="116.75" cy="89.36" r="1.1"/><circle cx="117.67" cy="90.78" r="1.1"/><circle cx="118.58" cy="92.19" r="1.1"/><circle cx="119.50" cy="93.63" r="1.1"/><circle cx="120.42" cy="95.13" r="1.1"/><circle cx="121.33" cy="96.68" r="1.1"/><circle cx="122.25" cy="98.25" r="1.1"/><circle cx="123.17" cy="99.84" r="1.1"/><circle cx="124.08" cy="101.43" r="1.1"/><circle cx="125.00" cy="103.00" r="1.1"/><circle cx="125.92" cy="104.62" r="1.1"/><circle cx="126.83" cy="106.25" r="1.1"/><circle cx="127.75" cy="107.84" r="1.1"/><circle cx="128.67" cy="109.34" r="1.1"/><circle cx="129.58" cy="110.75" r="1.1"/><circle cx="130.50" cy="112.15" r="1.1"/><circle cx="131.42" cy="113.51" r="1.1"/><circle cx="132.33" cy="114.74" r="1.1"/><circle cx="133.25" cy="115.77" r="1.1"/><circle cx="134.17" cy="116.57" r="1.1"/><circle cx="135.08" cy="117.28" r="1.1"/><circle cx="136.00" cy="117.92" r="1.1"/><circle cx="136.92" cy="118.44" r="1.1"/><circle cx="137.83" cy="118.82" r="1.1"/><circle cx="138.75" cy="119.02" r="1.1"/><circle cx="139.67" cy="119.19" r="1.1"/><circle cx="140.58" cy="119.33" r="1.1"/><circle cx="141.50" cy="119.46" r="1.1"/><circle cx="142.42" cy="119.56" r="1.1"/><circle cx="143.33" cy="119.64" r="1.1"/><circle cx="144.25" cy="119.69" r="1.1"/><circle cx="145.17" cy="119.72" r="1.1"/><circle cx="146.08" cy="119.73" r="1.1"/><circle cx="147.00" cy="119.74" r="1.1"/><circle cx="147.92" cy="119.75" r="1.1"/><circle cx="148.83" cy="119.77" r="1.1"/><circle cx="149.75" cy="119.78" r="1.1"/><circle cx="150.67" cy="119.79" r="1.1"/><circle cx="151.58" cy="119.80" r="1.1"/><circle cx="152.50" cy="119.80" r="1.1"/><circle cx="153.42" cy="119.81" r="1.1"/><circle cx="154.33" cy="119.82" r="1.1"/><circle cx="155.25" cy="119.82" r="1.1"/><circle cx="156.17" cy="119.83" r="1.1"/><circle cx="157.08" cy="119.83" r="1.1"/><circle cx="158.00" cy="119.84" r="1.1"/><circle cx="158.92" cy="119.84" r="1.1"/><circle cx="159.83" cy="119.84" r="1.1"/><circle cx="160.75" cy="119.84" r="1.1"/><circle cx="161.67" cy="119.85" r="1.1"/><circle cx="162.58" cy="119.85" r="1.1"/><circle cx="163.50" cy="119.85" r="1.1"/></g>
<path d="M26.00,97.51 L26.46,97.72 L26.92,97.94 L27.38,98.15 L27.83,98.36 L28.29,98.57 L28.75,98.78 L29.21,98.99 L29.67,99.19 L30.12,99.40 L30.58,99.60 L31.04,99.82 L31.50,100.06 L31.96,100.31 L32.42,100.57 L32.88,100.83 L33.33,101.08 L33.79,101.31 L34.25,101.52 L34.71,101.70 L35.17,101.83 L35.62,101.92 L36.08,101.95 L36.54,101.81 L37.00,101.41 L37.46,100.81 L37.92,100.05 L38.38,99.17 L38.83,98.23 L39.29,97.27 L39.75,96.33 L40.21,95.35 L40.67,94.24 L41.12,93.01 L41.58,91.69 L42.04,90.31 L42.50,88.88 L42.96,87.44 L43.42,86.01 L43.88,84.61 L44.33,83.27 L44.79,81.95 L45.25,80.61 L45.71,79.26 L46.17,77.91 L46.62,76.56 L47.08,75.23 L47.54,73.91 L48.00,72.64 L48.46,71.40 L48.92,70.21 L49.38,69.05 L49.83,67.91 L50.29,66.79 L50.75,65.68 L51.21,64.60 L51.67,63.56 L52.12,62.55 L52.58,61.57 L53.04,60.64 L53.50,59.76 L53.96,58.88 L54.42,57.99 L54.88,57.10 L55.33,56.26 L55.79,55.48 L56.25,54.81 L56.71,54.26 L57.17,53.88 L57.62,53.59 L58.08,53.32 L58.54,53.08 L59.00,52.87 L59.46,52.71 L59.92,52.61 L60.38,52.58 L60.83,52.62 L61.29,52.75 L61.75,52.96 L62.21,53.21 L62.67,53.52 L63.12,53.85 L63.58,54.19 L64.04,54.53 L64.50,54.93 L64.96,55.42 L65.42,55.98 L65.88,56.60 L66.33,57.26 L66.79,57.93 L67.25,58.60 L67.71,59.25 L68.17,59.86 L68.62,60.41 L69.08,60.93 L69.54,61.46 L70.00,61.98 L70.46,62.50 L70.92,63.00 L71.38,63.47 L71.83,63.92 L72.29,64.32 L72.75,64.68 L73.21,64.98 L73.67,65.26 L74.12,65.54 L74.58,65.81 L75.04,66.07 L75.50,66.31 L75.96,66.52 L76.42,66.69 L76.88,66.83 L77.33,66.91 L77.79,66.94 L78.25,66.90 L78.71,66.77 L79.17,66.57 L79.62,66.30 L80.08,65.98 L80.54,65.61 L81.00,65.21 L81.46,64.78 L81.92,64.33 L82.38,63.76 L82.83,62.97 L83.29,62.03 L83.75,60.96 L84.21,59.83 L84.67,58.68 L85.12,57.55 L85.58,56.49 L86.04,55.44 L86.50,54.31 L86.96,53.16 L87.42,52.03 L87.88,50.98 L88.33,50.06 L88.79,49.31 L89.25,48.64 L89.71,48.01 L90.17,47.54 L90.62,47.35 L91.08,47.49 L91.54,47.86 L92.00,48.42 L92.46,49.10 L92.92,49.85 L93.38,50.62 L93.83,51.51 L94.29,52.64 L94.75,53.96 L95.21,55.39 L95.67,56.88 L96.12,58.36 L96.58,59.78 L97.04,61.07 L97.50,62.27 L97.96,63.47 L98.42,64.65 L98.88,65.83 L99.33,66.97 L99.79,68.09 L100.25,69.18 L100.71,70.22 L101.17,71.22 L101.62,72.17 L102.08,73.07 L102.54,73.93 L103.00,74.76 L103.46,75.57 L103.92,76.35 L104.38,77.11 L104.83,77.85 L105.29,78.57 L105.75,79.29 L106.21,80.01 L106.67,80.70 L107.12,81.37 L107.58,82.03 L108.04,82.66 L108.50,83.30 L108.96,83.93 L109.42,84.57 L109.88,85.22 L110.33,85.88 L110.79,86.57 L111.25,87.28 L111.71,87.99 L112.17,88.71 L112.62,89.44 L113.08,90.17 L113.54,90.89 L114.00,91.62 L114.46,92.33 L114.92,93.03 L115.38,93.72 L115.83,94.40 L116.29,95.06 L116.75,95.72 L117.21,96.37 L117.67,97.02 L118.12,97.67 L118.58,98.31 L119.04,98.96 L119.50,99.60 L119.96,100.25 L120.42,100.91 L120.87,101.56 L121.33,102.21 L121.79,102.87 L122.25,103.52 L122.71,104.17 L123.17,104.83 L123.62,105.48 L124.08,106.13 L124.54,106.78 L125.00,107.45 L125.46,108.13 L125.92,108.83 L126.38,109.53 L126.83,110.22 L127.29,110.90 L127.75,111.55 L128.21,112.18 L128.67,112.77 L129.12,113.32 L129.58,113.84 L130.04,114.35 L130.50,114.86 L130.96,115.35 L131.42,115.82 L131.88,116.26 L132.33,116.66 L132.79,117.03 L133.25,117.35 L133.71,117.63 L134.17,117.87 L134.62,118.10 L135.08,118.31 L135.54,118.52 L136.00,118.70 L136.46,118.87 L136.92,119.02 L137.38,119.15 L137.83,119.25 L138.29,119.32 L138.75,119.38 L139.21,119.44 L139.67,119.49 L140.12,119.54 L140.58,119.59 L141.04,119.63 L141.50,119.67 L141.96,119.70 L142.42,119.74 L142.88,119.76 L143.33,119.79 L143.79,119.81 L144.25,119.83 L144.71,119.84 L145.17,119.85 L145.62,119.85 L146.08,119.86 L146.54,119.87 L147.00,119.87 L147.46,119.88 L147.92,119.88 L148.38,119.89 L148.83,119.90 L149.29,119.90 L149.75,119.91 L150.21,119.91 L150.67,119.92 L151.12,119.92 L151.58,119.92 L152.04,119.93 L152.50,119.93 L152.96,119.94 L153.42,119.94 L153.88,119.94 L154.33,119.95 L154.79,119.95 L155.25,119.95 L155.71,119.96 L156.17,119.96 L156.62,119.96 L157.08,119.96 L157.54,119.96 L158.00,119.97 L158.46,119.97 L158.92,119.97 L159.38,119.97 L159.83,119.97 L160.29,119.97 L160.75,119.97 L161.21,119.98 L161.67,119.98 L162.12,119.98 L162.58,119.98 L163.04,119.98 L163.50,119.98" fill="none" stroke="#ab6cf0" stroke-width="1.0" stroke-linejoin="round" stroke-linecap="round" />
<g fill="#ab6cf0"><circle cx="26.00" cy="97.51" r="1.1"/><circle cx="26.92" cy="97.94" r="1.1"/><circle cx="27.83" cy="98.36" r="1.1"/><circle cx="28.75" cy="98.78" r="1.1"/><circle cx="29.67" cy="99.19" r="1.1"/><circle cx="30.58" cy="99.60" r="1.1"/><circle cx="31.50" cy="100.06" r="1.1"/><circle cx="32.42" cy="100.57" r="1.1"/><circle cx="33.33" cy="101.08" r="1.1"/><circle cx="34.25" cy="101.52" r="1.1"/><circle cx="35.17" cy="101.83" r="1.1"/><circle cx="36.08" cy="101.95" r="1.1"/><circle cx="37.00" cy="101.41" r="1.1"/><circle cx="37.92" cy="100.05" r="1.1"/><circle cx="38.83" cy="98.23" r="1.1"/><circle cx="39.75" cy="96.33" r="1.1"/><circle cx="40.67" cy="94.24" r="1.1"/><circle cx="41.58" cy="91.69" r="1.1"/><circle cx="42.50" cy="88.88" r="1.1"/><circle cx="43.42" cy="86.01" r="1.1"/><circle cx="44.33" cy="83.27" r="1.1"/><circle cx="45.25" cy="80.61" r="1.1"/><circle cx="46.17" cy="77.91" r="1.1"/><circle cx="47.08" cy="75.23" r="1.1"/><circle cx="48.00" cy="72.64" r="1.1"/><circle cx="48.92" cy="70.21" r="1.1"/><circle cx="49.83" cy="67.91" r="1.1"/><circle cx="50.75" cy="65.68" r="1.1"/><circle cx="51.67" cy="63.56" r="1.1"/><circle cx="52.58" cy="61.57" r="1.1"/><circle cx="53.50" cy="59.76" r="1.1"/><circle cx="54.42" cy="57.99" r="1.1"/><circle cx="55.33" cy="56.26" r="1.1"/><circle cx="56.25" cy="54.81" r="1.1"/><circle cx="57.17" cy="53.88" r="1.1"/><circle cx="58.08" cy="53.32" r="1.1"/><circle cx="59.00" cy="52.87" r="1.1"/><circle cx="59.92" cy="52.61" r="1.1"/><circle cx="60.83" cy="52.62" r="1.1"/><circle cx="61.75" cy="52.96" r="1.1"/><circle cx="62.67" cy="53.52" r="1.1"/><circle cx="63.58" cy="54.19" r="1.1"/><circle cx="64.50" cy="54.93" r="1.1"/><circle cx="65.42" cy="55.98" r="1.1"/><circle cx="66.33" cy="57.26" r="1.1"/><circle cx="67.25" cy="58.60" r="1.1"/><circle cx="68.17" cy="59.86" r="1.1"/><circle cx="69.08" cy="60.93" r="1.1"/><circle cx="70.00" cy="61.98" r="1.1"/><circle cx="70.92" cy="63.00" r="1.1"/><circle cx="71.83" cy="63.92" r="1.1"/><circle cx="72.75" cy="64.68" r="1.1"/><circle cx="73.67" cy="65.26" r="1.1"/><circle cx="74.58" cy="65.81" r="1.1"/><circle cx="75.50" cy="66.31" r="1.1"/><circle cx="76.42" cy="66.69" r="1.1"/><circle cx="77.33" cy="66.91" r="1.1"/><circle cx="78.25" cy="66.90" r="1.1"/><circle cx="79.17" cy="66.57" r="1.1"/><circle cx="80.08" cy="65.98" r="1.1"/><circle cx="81.00" cy="65.21" r="1.1"/><circle cx="81.92" cy="64.33" r="1.1"/><circle cx="82.83" cy="62.97" r="1.1"/><circle cx="83.75" cy="60.96" r="1.1"/><circle cx="84.67" cy="58.68" r="1.1"/><circle cx="85.58" cy="56.49" r="1.1"/><circle cx="86.50" cy="54.31" r="1.1"/><circle cx="87.42" cy="52.03" r="1.1"/><circle cx="88.33" cy="50.06" r="1.1"/><circle cx="89.25" cy="48.64" r="1.1"/><circle cx="90.17" cy="47.54" r="1.1"/><circle cx="91.08" cy="47.49" r="1.1"/><circle cx="92.00" cy="48.42" r="1.1"/><circle cx="92.92" cy="49.85" r="1.1"/><circle cx="93.83" cy="51.51" r="1.1"/><circle cx="94.75" cy="53.96" r="1.1"/><circle cx="95.67" cy="56.88" r="1.1"/><circle cx="96.58" cy="59.78" r="1.1"/><circle cx="97.50" cy="62.27" r="1.1"/><circle cx="98.42" cy="64.65" r="1.1"/><circle cx="99.33" cy="66.97" r="1.1"/><circle cx="100.25" cy="69.18" r="1.1"/><circle cx="101.17" cy="71.22" r="1.1"/><circle cx="102.08" cy="73.07" r="1.1"/><circle cx="103.00" cy="74.76" r="1.1"/><circle cx="103.92" cy="76.35" r="1.1"/><circle cx="104.83" cy="77.85" r="1.1"/><circle cx="105.75" cy="79.29" r="1.1"/><circle cx="106.67" cy="80.70" r="1.1"/><circle cx="107.58" cy="82.03" r="1.1"/><circle cx="108.50" cy="83.30" r="1.1"/><circle cx="109.42" cy="84.57" r="1.1"/><circle cx="110.33" cy="85.88" r="1.1"/><circle cx="111.25" cy="87.28" r="1.1"/><circle cx="112.17" cy="88.71" r="1.1"/><circle cx="113.08" cy="90.17" r="1.1"/><circle cx="114.00" cy="91.62" r="1.1"/><circle cx="114.92" cy="93.03" r="1.1"/><circle cx="115.83" cy="94.40" r="1.1"/><circle cx="116.75" cy="95.72" r="1.1"/><circle cx="117.67" cy="97.02" r="1.1"/><circle cx="118.58" cy="98.31" r="1.1"/><circle cx="119.50" cy="99.60" r="1.1"/><circle cx="120.42" cy="100.91" r="1.1"/><circle cx="121.33" cy="102.21" r="1.1"/><circle cx="122.25" cy="103.52" r="1.1"/><circle cx="123.17" cy="104.83" r="1.1"/><circle cx="124.08" cy="106.13" r="1.1"/><circle cx="125.00" cy="107.45" r="1.1"/><circle cx="125.92" cy="108.83" r="1.1"/><circle cx="126.83" cy="110.22" r="1.1"/><circle cx="127.75" cy="111.55" r="1.1"/><circle cx="128.67" cy="112.77" r="1.1"/><circle cx="129.58" cy="113.84" r="1.1"/><circle cx="130.50" cy="114.86" r="1.1"/><circle cx="131.42" cy="115.82" r="1.1"/><circle cx="132.33" cy="116.66" r="1.1"/><circle cx="133.25" cy="117.35" r="1.1"/><circle cx="134.17" cy="117.87" r="1.1"/><circle cx="135.08" cy="118.31" r="1.1"/><circle cx="136.00" cy="118.70" r="1.1"/><circle cx="136.92" cy="119.02" r="1.1"/><circle cx="137.83" cy="119.25" r="1.1"/><circle cx="138.75" cy="119.38" r="1.1"/><circle cx="139.67" cy="119.49" r="1.1"/><circle cx="140.58" cy="119.59" r="1.1"/><circle cx="141.50" cy="119.67" r="1.1"/><circle cx="142.42" cy="119.74" r="1.1"/><circle cx="143.33" cy="119.79" r="1.1"/><circle cx="144.25" cy="119.83" r="1.1"/><circle cx="145.17" cy="119.85" r="1.1"/><circle cx="146.08" cy="119.86" r="1.1"/><circle cx="147.00" cy="119.87" r="1.1"/><circle cx="147.92" cy="119.88" r="1.1"/><circle cx="148.83" cy="119.90" r="1.1"/><circle cx="149.75" cy="119.91" r="1.1"/><circle cx="150.67" cy="119.92" r="1.1"/><circle cx="151.58" cy="119.92" r="1.1"/><circle cx="152.50" cy="119.93" r="1.1"/><circle cx="153.42" cy="119.94" r="1.1"/><circle cx="154.33" cy="119.95" r="1.1"/><circle cx="155.25" cy="119.95" r="1.1"/><circle cx="156.17" cy="119.96" r="1.1"/><circle cx="157.08" cy="119.96" r="1.1"/><circle cx="158.00" cy="119.97" r="1.1"/><circle cx="158.92" cy="119.97" r="1.1"/><circle cx="159.83" cy="119.97" r="1.1"/><circle cx="160.75" cy="119.97" r="1.1"/><circle cx="161.67" cy="119.98" r="1.1"/><circle cx="162.58" cy="119.98" r="1.1"/><circle cx="163.50" cy="119.98" r="1.1"/></g>
<path d="M26.00,99.21 L26.46,99.45 L26.92,99.69 L27.38,99.93 L27.83,100.17 L28.29,100.40 L28.75,100.64 L29.21,100.87 L29.67,101.10 L30.12,101.33 L30.58,101.56 L31.04,101.80 L31.50,102.07 L31.96,102.35 L32.42,102.64 L32.88,102.93 L33.33,103.21 L33.79,103.46 L34.25,103.70 L34.71,103.89 L35.17,104.04 L35.62,104.14 L36.08,104.17 L36.54,104.02 L37.00,103.61 L37.46,102.99 L37.92,102.19 L38.38,101.28 L38.83,100.29 L39.29,99.28 L39.75,98.29 L40.21,97.24 L40.67,96.02 L41.12,94.66 L41.58,93.20 L42.04,91.66 L42.50,90.08 L42.96,88.49 L43.42,86.91 L43.88,85.38 L44.33,83.93 L44.79,82.52 L45.25,81.12 L45.71,79.72 L46.17,78.33 L46.62,76.94 L47.08,75.57 L47.54,74.20 L48.00,72.85 L48.46,71.52 L48.92,70.21 L49.38,68.89 L49.83,67.56 L50.29,66.23 L50.75,64.90 L51.21,63.60 L51.67,62.32 L52.12,61.10 L52.58,59.92 L53.04,58.82 L53.50,57.80 L53.96,56.80 L54.42,55.79 L54.88,54.80 L55.33,53.86 L55.79,53.00 L56.25,52.26 L56.71,51.67 L57.17,51.27 L57.62,50.98 L58.08,50.70 L58.54,50.46 L59.00,50.26 L59.46,50.10 L59.92,50.00 L60.38,49.96 L60.83,50.00 L61.29,50.10 L61.75,50.26 L62.21,50.46 L62.67,50.70 L63.12,50.96 L63.58,51.24 L64.04,51.53 L64.50,51.88 L64.96,52.33 L65.42,52.87 L65.88,53.47 L66.33,54.12 L66.79,54.78 L67.25,55.43 L67.71,56.06 L68.17,56.64 L68.62,57.15 L69.08,57.61 L69.54,58.08 L70.00,58.55 L70.46,59.00 L70.92,59.44 L71.38,59.85 L71.83,60.22 L72.29,60.56 L72.75,60.84 L73.21,61.07 L73.67,61.26 L74.12,61.45 L74.58,61.64 L75.04,61.81 L75.50,61.96 L75.96,62.10 L76.42,62.21 L76.88,62.30 L77.33,62.35 L77.79,62.37 L78.25,62.33 L78.71,62.20 L79.17,62.00 L79.62,61.74 L80.08,61.42 L80.54,61.05 L81.00,60.65 L81.46,60.21 L81.92,59.76 L82.38,59.16 L82.83,58.31 L83.29,57.27 L83.75,56.10 L84.21,54.85 L84.67,53.60 L85.12,52.38 L85.58,51.27 L86.04,50.18 L86.50,49.04 L86.96,47.89 L87.42,46.78 L87.88,45.74 L88.33,44.83 L88.79,44.08 L89.25,43.42 L89.71,42.78 L90.17,42.31 L90.62,42.12 L91.08,42.26 L91.54,42.63 L92.00,43.18 L92.46,43.86 L92.92,44.62 L93.38,45.39 L93.83,46.31 L94.29,47.51 L94.75,48.90 L95.21,50.43 L95.67,52.02 L96.12,53.61 L96.58,55.12 L97.04,56.49 L97.50,57.77 L97.96,59.05 L98.42,60.32 L98.88,61.57 L99.33,62.79 L99.79,63.98 L100.25,65.13 L100.71,66.23 L101.17,67.27 L101.62,68.25 L102.08,69.16 L102.54,70.03 L103.00,70.85 L103.46,71.64 L103.92,72.40 L104.38,73.15 L104.83,73.88 L105.29,74.61 L105.75,75.34 L106.21,76.09 L106.67,76.83 L107.12,77.56 L107.58,78.29 L108.04,79.00 L108.50,79.72 L108.96,80.43 L109.42,81.15 L109.88,81.88 L110.33,82.62 L110.79,83.37 L111.25,84.14 L111.71,84.91 L112.17,85.69 L112.62,86.48 L113.08,87.26 L113.54,88.04 L114.00,88.82 L114.46,89.60 L114.92,90.36 L115.38,91.11 L115.83,91.85 L116.29,92.58 L116.75,93.30 L117.21,94.02 L117.67,94.73 L118.12,95.44 L118.58,96.15 L119.04,96.86 L119.50,97.58 L119.96,98.29 L120.42,99.01 L120.87,99.73 L121.33,100.45 L121.79,101.17 L122.25,101.89 L122.71,102.60 L123.17,103.32 L123.62,104.04 L124.08,104.76 L124.54,105.48 L125.00,106.21 L125.46,106.97 L125.92,107.73 L126.38,108.51 L126.83,109.27 L127.29,110.02 L127.75,110.74 L128.21,111.43 L128.67,112.07 L129.12,112.66 L129.58,113.22 L130.04,113.77 L130.50,114.30 L130.96,114.81 L131.42,115.30 L131.88,115.77 L132.33,116.20 L132.79,116.59 L133.25,116.93 L133.71,117.23 L134.17,117.50 L134.62,117.77 L135.08,118.01 L135.54,118.25 L136.00,118.46 L136.46,118.66 L136.92,118.83 L137.38,118.98 L137.83,119.10 L138.29,119.19 L138.75,119.27 L139.21,119.34 L139.67,119.40 L140.12,119.46 L140.58,119.52 L141.04,119.57 L141.50,119.62 L141.96,119.67 L142.42,119.71 L142.88,119.74 L143.33,119.78 L143.79,119.80 L144.25,119.82 L144.71,119.84 L145.17,119.85 L145.62,119.85 L146.08,119.86 L146.54,119.87 L147.00,119.87 L147.46,119.88 L147.92,119.89 L148.38,119.89 L148.83,119.90 L149.29,119.90 L149.75,119.91 L150.21,119.91 L150.67,119.92 L151.12,119.92 L151.58,119.93 L152.04,119.93 L152.50,119.93 L152.96,119.94 L153.42,119.94 L153.88,119.94 L154.33,119.95 L154.79,119.95 L155.25,119.95 L155.71,119.96 L156.17,119.96 L156.62,119.96 L157.08,119.96 L157.54,119.97 L158.00,119.97 L158.46,119.97 L158.92,119.97 L159.38,119.97 L159.83,119.97 L160.29,119.97 L160.75,119.97 L161.21,119.98 L161.67,119.98 L162.12,119.98 L162.58,119.98 L163.04,119.98 L163.50,119.98" fill="none" stroke="#42b4e6" stroke-width="1.0" stroke-linejoin="round" stroke-linecap="round" />
<g fill="#42b4e6"><circle cx="26.00" cy="99.21" r="1.1"/><circle cx="26.92" cy="99.69" r="1.1"/><circle cx="27.83" cy="100.17" r="1.1"/><circle cx="28.75" cy="100.64" r="1.1"/><circle cx="29.67" cy="101.10" r="1.1"/><circle cx="30.58" cy="101.56" r="1.1"/><circle cx="31.50" cy="102.07" r="1.1"/><circle cx="32.42" cy="102.64" r="1.1"/><circle cx="33.33" cy="103.21" r="1.1"/><circle cx="34.25" cy="103.70" r="1.1"/><circle cx="35.17" cy="104.04" r="1.1"/><circle cx="36.08" cy="104.17" r="1.1"/><circle cx="37.00" cy="103.61" r="1.1"/><circle cx="37.92" cy="102.19" r="1.1"/><circle cx="38.83" cy="100.29" r="1.1"/><circle cx="39.75" cy="98.29" r="1.1"/><circle cx="40.67" cy="96.02" r="1.1"/><circle cx="41.58" cy="93.20" r="1.1"/><circle cx="42.50" cy="90.08" r="1.1"/><circle cx="43.42" cy="86.91" r="1.1"/><circle cx="44.33" cy="83.93" r="1.1"/><circle cx="45.25" cy="81.12" r="1.1"/><circle cx="46.17" cy="78.33" r="1.1"/><circle cx="47.08" cy="75.57" r="1.1"/><circle cx="48.00" cy="72.85" r="1.1"/><circle cx="48.92" cy="70.21" r="1.1"/><circle cx="49.83" cy="67.56" r="1.1"/><circle cx="50.75" cy="64.90" r="1.1"/><circle cx="51.67" cy="62.32" r="1.1"/><circle cx="52.58" cy="59.92" r="1.1"/><circle cx="53.50" cy="57.80" r="1.1"/><circle cx="54.42" cy="55.79" r="1.1"/><circle cx="55.33" cy="53.86" r="1.1"/><circle cx="56.25" cy="52.26" r="1.1"/><circle cx="57.17" cy="51.27" r="1.1"/><circle cx="58.08" cy="50.70" r="1.1"/><circle cx="59.00" cy="50.26" r="1.1"/><circle cx="59.92" cy="50.00" r="1.1"/><circle cx="60.83" cy="50.00" r="1.1"/><circle cx="61.75" cy="50.26" r="1.1"/><circle cx="62.67" cy="50.70" r="1.1"/><circle cx="63.58" cy="51.24" r="1.1"/><circle cx="64.50" cy="51.88" r="1.1"/><circle cx="65.42" cy="52.87" r="1.1"/><circle cx="66.33" cy="54.12" r="1.1"/><circle cx="67.25" cy="55.43" r="1.1"/><circle cx="68.17" cy="56.64" r="1.1"/><circle cx="69.08" cy="57.61" r="1.1"/><circle cx="70.00" cy="58.55" r="1.1"/><circle cx="70.92" cy="59.44" r="1.1"/><circle cx="71.83" cy="60.22" r="1.1"/><circle cx="72.75" cy="60.84" r="1.1"/><circle cx="73.67" cy="61.26" r="1.1"/><circle cx="74.58" cy="61.64" r="1.1"/><circle cx="75.50" cy="61.96" r="1.1"/><circle cx="76.42" cy="62.21" r="1.1"/><circle cx="77.33" cy="62.35" r="1.1"/><circle cx="78.25" cy="62.33" r="1.1"/><circle cx="79.17" cy="62.00" r="1.1"/><circle cx="80.08" cy="61.42" r="1.1"/><circle cx="81.00" cy="60.65" r="1.1"/><circle cx="81.92" cy="59.76" r="1.1"/><circle cx="82.83" cy="58.31" r="1.1"/><circle cx="83.75" cy="56.10" r="1.1"/><circle cx="84.67" cy="53.60" r="1.1"/><circle cx="85.58" cy="51.27" r="1.1"/><circle cx="86.50" cy="49.04" r="1.1"/><circle cx="87.42" cy="46.78" r="1.1"/><circle cx="88.33" cy="44.83" r="1.1"/><circle cx="89.25" cy="43.42" r="1.1"/><circle cx="90.17" cy="42.31" r="1.1"/><circle cx="91.08" cy="42.26" r="1.1"/><circle cx="92.00" cy="43.18" r="1.1"/><circle cx="92.92" cy="44.62" r="1.1"/><circle cx="93.83" cy="46.31" r="1.1"/><circle cx="94.75" cy="48.90" r="1.1"/><circle cx="95.67" cy="52.02" r="1.1"/><circle cx="96.58" cy="55.12" r="1.1"/><circle cx="97.50" cy="57.77" r="1.1"/><circle cx="98.42" cy="60.32" r="1.1"/><circle cx="99.33" cy="62.79" r="1.1"/><circle cx="100.25" cy="65.13" r="1.1"/><circle cx="101.17" cy="67.27" r="1.1"/><circle cx="102.08" cy="69.16" r="1.1"/><circle cx="103.00" cy="70.85" r="1.1"/><circle cx="103.92" cy="72.40" r="1.1"/><circle cx="104.83" cy="73.88" r="1.1"/><circle cx="105.75" cy="75.34" r="1.1"/><circle cx="106.67" cy="76.83" r="1.1"/><circle cx="107.58" cy="78.29" r="1.1"/><circle cx="108.50" cy="79.72" r="1.1"/><circle cx="109.42" cy="81.15" r="1.1"/><circle cx="110.33" cy="82.62" r="1.1"/><circle cx="111.25" cy="84.14" r="1.1"/><circle cx="112.17" cy="85.69" r="1.1"/><circle cx="113.08" cy="87.26" r="1.1"/><circle cx="114.00" cy="88.82" r="1.1"/><circle cx="114.92" cy="90.36" r="1.1"/><circle cx="115.83" cy="91.85" r="1.1"/><circle cx="116.75" cy="93.30" r="1.1"/><circle cx="117.67" cy="94.73" r="1.1"/><circle cx="118.58" cy="96.15" r="1.1"/><circle cx="119.50" cy="97.58" r="1.1"/><circle cx="120.42" cy="99.01" r="1.1"/><circle cx="121.33" cy="100.45" r="1.1"/><circle cx="122.25" cy="101.89" r="1.1"/><circle cx="123.17" cy="103.32" r="1.1"/><circle cx="124.08" cy="104.76" r="1.1"/><circle cx="125.00" cy="106.21" r="1.1"/><circle cx="125.92" cy="107.73" r="1.1"/><circle cx="126.83" cy="109.27" r="1.1"/><circle cx="127.75" cy="110.74" r="1.1"/><circle cx="128.67" cy="112.07" r="1.1"/><circle cx="129.58" cy="113.22" r="1.1"/><circle cx="130.50" cy="114.30" r="1.1"/><circle cx="131.42" cy="115.30" r="1.1"/><circle cx="132.33" cy="116.20" r="1.1"/><circle cx="133.25" cy="116.93" r="1.1"/><circle cx="134.17" cy="117.50" r="1.1"/><circle cx="135.08" cy="118.01" r="1.1"/><circle cx="136.00" cy="118.46" r="1.1"/><circle cx="136.92" cy="118.83" r="1.1"/><circle cx="137.83" cy="119.10" r="1.1"/><circle cx="138.75" cy="119.27" r="1.1"/><circle cx="139.67" cy="119.40" r="1.1"/><circle cx="140.58" cy="119.52" r="1.1"/><circle cx="141.50" cy="119.62" r="1.1"/><circle cx="142.42" cy="119.71" r="1.1"/><circle cx="143.33" cy="119.78" r="1.1"/><circle cx="144.25" cy="119.82" r="1.1"/><circle cx="145.17" cy="119.85" r="1.1"/><circle cx="146.08" cy="119.86" r="1.1"/><circle cx="147.00" cy="119.87" r="1.1"/><circle cx="147.92" cy="119.89" r="1.1"/><circle cx="148.83" cy="119.90" r="1.1"/><circle cx="149.75" cy="119.91" r="1.1"/><circle cx="150.67" cy="119.92" r="1.1"/><circle cx="151.58" cy="119.93" r="1.1"/><circle cx="152.50" cy="119.93" r="1.1"/><circle cx="153.42" cy="119.94" r="1.1"/><circle cx="154.33" cy="119.95" r="1.1"/><circle cx="155.25" cy="119.95" r="1.1"/><circle cx="156.17" cy="119.96" r="1.1"/><circle cx="157.08" cy="119.96" r="1.1"/><circle cx="158.00" cy="119.97" r="1.1"/><circle cx="158.92" cy="119.97" r="1.1"/><circle cx="159.83" cy="119.97" r="1.1"/><circle cx="160.75" cy="119.97" r="1.1"/><circle cx="161.67" cy="119.98" r="1.1"/><circle cx="162.58" cy="119.98" r="1.1"/><circle cx="163.50" cy="119.98" r="1.1"/></g>
</g>
<rect x="26.5" y="15.5" width="137" height="105" fill="none" stroke="#1e1e1e" stroke-width="1.05"/>
<line x1="23.40" y1="120.50" x2="26.00" y2="120.50" stroke="#2a2a2a" stroke-width="0.9" />
<line x1="24.50" y1="107.44" x2="26.00" y2="107.44" stroke="#2a2a2a" stroke-width="0.9" />
<line x1="23.40" y1="94.38" x2="26.00" y2="94.38" stroke="#2a2a2a" stroke-width="0.9" />
<line x1="24.50" y1="81.31" x2="26.00" y2="81.31" stroke="#2a2a2a" stroke-width="0.9" />
<line x1="23.40" y1="68.25" x2="26.00" y2="68.25" stroke="#2a2a2a" stroke-width="0.9" />
<line x1="24.50" y1="55.19" x2="26.00" y2="55.19" stroke="#2a2a2a" stroke-width="0.9" />
<line x1="23.40" y1="42.12" x2="26.00" y2="42.12" stroke="#2a2a2a" stroke-width="0.9" />
<line x1="24.50" y1="29.06" x2="26.00" y2="29.06" stroke="#2a2a2a" stroke-width="0.9" />
<line x1="23.40" y1="16.00" x2="26.00" y2="16.00" stroke="#2a2a2a" stroke-width="0.9" />
<text x="0" y="0" font-size="8.0" text-anchor="end" font-weight="bold" fill="#111" stroke="#111" stroke-width="0.22" transform="translate(22.90 123.30) scale(1.04 1)" >0</text>
<text x="0" y="0" font-size="8.0" text-anchor="end" font-weight="bold" fill="#111" stroke="#111" stroke-width="0.22" transform="translate(22.90 97.17) scale(1.04 1)" >20</text>
<text x="0" y="0" font-size="8.0" text-anchor="end" font-weight="bold" fill="#111" stroke="#111" stroke-width="0.22" transform="translate(22.90 71.05) scale(1.04 1)" >40</text>
<text x="0" y="0" font-size="8.0" text-anchor="end" font-weight="bold" fill="#111" stroke="#111" stroke-width="0.22" transform="translate(22.90 44.92) scale(1.04 1)" >60</text>
<text x="0" y="0" font-size="8.0" text-anchor="end" font-weight="bold" fill="#111" stroke="#111" stroke-width="0.22" transform="translate(22.90 18.80) scale(1.04 1)" >80</text>
<line x1="26.00" y1="120.50" x2="26.00" y2="123.10" stroke="#2a2a2a" stroke-width="0.9" />
<line x1="48.92" y1="120.50" x2="48.92" y2="122.00" stroke="#2a2a2a" stroke-width="0.9" />
<line x1="71.83" y1="120.50" x2="71.83" y2="123.10" stroke="#2a2a2a" stroke-width="0.9" />
<line x1="94.75" y1="120.50" x2="94.75" y2="122.00" stroke="#2a2a2a" stroke-width="0.9" />
<line x1="117.67" y1="120.50" x2="117.67" y2="123.10" stroke="#2a2a2a" stroke-width="0.9" />
<line x1="140.58" y1="120.50" x2="140.58" y2="122.00" stroke="#2a2a2a" stroke-width="0.9" />
<line x1="163.50" y1="120.50" x2="163.50" y2="123.10" stroke="#2a2a2a" stroke-width="0.9" />
<text x="26.00" y="130.40" font-size="7.8" text-anchor="middle" font-weight="bold" fill="#111" stroke="#111" stroke-width="0.22" >300</text>
<text x="71.83" y="130.40" font-size="7.8" text-anchor="middle" font-weight="bold" fill="#111" stroke="#111" stroke-width="0.22" >400</text>
<text x="117.67" y="130.40" font-size="7.8" text-anchor="middle" font-weight="bold" fill="#111" stroke="#111" stroke-width="0.22" >500</text>
<text x="163.50" y="130.40" font-size="7.8" text-anchor="middle" font-weight="bold" fill="#111" stroke="#111" stroke-width="0.22" >600</text>
<line x1="163.50" y1="112.50" x2="166.10" y2="112.50" stroke="#2a2a2a" stroke-width="0.9" />
<line x1="163.50" y1="97.66" x2="165.00" y2="97.66" stroke="#2a2a2a" stroke-width="0.9" />
<line x1="163.50" y1="82.83" x2="166.10" y2="82.83" stroke="#2a2a2a" stroke-width="0.9" />
<line x1="163.50" y1="68.00" x2="165.00" y2="68.00" stroke="#2a2a2a" stroke-width="0.9" />
<line x1="163.50" y1="53.16" x2="166.10" y2="53.16" stroke="#2a2a2a" stroke-width="0.9" />
<line x1="163.50" y1="38.32" x2="165.00" y2="38.32" stroke="#2a2a2a" stroke-width="0.9" />
<line x1="163.50" y1="23.49" x2="166.10" y2="23.49" stroke="#2a2a2a" stroke-width="0.9" />
<text x="166.80" y="115.10" font-size="7.8" text-anchor="start" font-weight="bold" fill="#111" stroke="#111" stroke-width="0.22" >0</text>
<text x="166.80" y="85.43" font-size="7.8" text-anchor="start" font-weight="bold" fill="#111" stroke="#111" stroke-width="0.22" >1</text>
<text x="166.80" y="55.76" font-size="7.8" text-anchor="start" font-weight="bold" fill="#111" stroke="#111" stroke-width="0.22" >2</text>
<text x="166.80" y="26.09" font-size="7.8" text-anchor="start" font-weight="bold" fill="#111" stroke="#111" stroke-width="0.22" >3</text>
<text x="94.50" y="140.80" font-size="11.2" text-anchor="middle" font-weight="bold" fill="#111" stroke="#111" stroke-width="0.22" >Wavelength (nm)</text>
<text x="11.60" y="70.30" font-size="11" text-anchor="middle" font-weight="bold" fill="#111" stroke="#111" stroke-width="0.22" transform="rotate(-90 11.60 70.30)" >EQE (%)</text>
<text x="181.60" y="67.20" font-size="9.1" text-anchor="middle" font-weight="bold" fill="#111" stroke="#111" stroke-width="0.22" transform="rotate(-90 181.60 67.20)" >Integrated Current (mA cm<tspan dy="-3.2" font-size="5.8">-2</tspan><tspan dy="3.2">)</tspan></text>
<text x="0" y="0" font-size="11.6" text-anchor="start" font-weight="bold" fill="#111" stroke="#111" stroke-width="0.22" transform="translate(1.40 10.40) scale(1.13 1)" >(a)</text>
<line x1="26.50" y1="20.10" x2="42.30" y2="20.10" stroke="#1a1a1a" stroke-width="1.1" />
<circle cx="34.6" cy="20.1" r="1.3" fill="#1a1a1a"/>
<text x="44.50" y="22.40" font-size="6.7" text-anchor="start" font-weight="bold" fill="#111" stroke="#111" stroke-width="0.22" >Reference</text>
<line x1="26.50" y1="28.40" x2="42.30" y2="28.40" stroke="#ff3fa0" stroke-width="1.1" />
<circle cx="34.6" cy="28.4" r="1.3" fill="#ff3fa0"/>
<text x="44.50" y="30.70" font-size="6.7" text-anchor="start" font-weight="bold" fill="#111" stroke="#111" stroke-width="0.22" >MACl</text>
<line x1="26.50" y1="36.40" x2="42.30" y2="36.40" stroke="#ab6cf0" stroke-width="1.1" />
<circle cx="34.6" cy="36.4" r="1.3" fill="#ab6cf0"/>
<text x="44.50" y="38.70" font-size="6.7" text-anchor="start" font-weight="bold" fill="#111" stroke="#111" stroke-width="0.22" >MABr</text>
<line x1="26.50" y1="44.00" x2="42.30" y2="44.00" stroke="#42b4e6" stroke-width="1.1" />
<circle cx="34.6" cy="44.0" r="1.3" fill="#42b4e6"/>
<text x="44.50" y="46.30" font-size="6.7" text-anchor="start" font-weight="bold" fill="#111" stroke="#111" stroke-width="0.22" >MAI</text>
<line x1="48.50" y1="81.60" x2="72.70" y2="81.60" stroke="#1a1a1a" stroke-width="0.8" />
<path d="M47.5,81.6 L51.5,80 L50.5,81.6 L51.5,83.2 Z" fill="#1a1a1a"/>
<line x1="136.00" y1="55.00" x2="159.00" y2="55.00" stroke="#1a1a1a" stroke-width="0.8" />
<path d="M160.5,55 L156.5,53.4 L157.5,55 L156.5,56.6 Z" fill="#1a1a1a"/>
<g clip-path="url(#clipB)">
<path d="M213.00,121.00 L213.01,119.98 L213.03,118.97 L213.06,117.95 L213.11,116.94 L213.17,115.93 L213.25,114.91 L213.34,113.90 L213.44,112.89 L213.56,111.89 L213.69,110.88 L213.83,109.88 L213.99,108.88 L214.16,107.89 L214.35,106.89 L214.54,105.90 L214.76,104.92 L214.98,103.94 L215.22,102.96 L215.47,101.99 L215.74,101.02 L216.01,100.06 L216.30,99.10 L216.61,98.15 L216.92,97.20 L217.25,96.26 L217.60,95.32 L217.95,94.40 L218.32,93.47 L218.70,92.56 L219.09,91.65 L219.49,90.75 L219.91,89.86 L220.34,88.97 L220.78,88.10 L221.23,87.23 L221.70,86.37 L222.17,85.51 L222.66,84.67 L223.16,83.84 L223.67,83.01 L224.19,82.20 L224.72,81.39 L225.27,80.60 L225.82,79.81 L226.38,79.04 L226.96,78.27 L227.54,77.52 L228.14,76.77 L228.74,76.04 L229.36,75.32 L229.98,74.61 L230.62,73.91 L231.26,73.23 L231.92,72.55 L232.58,71.89 L233.25,71.24 L233.93,70.60 L234.62,69.98 L235.31,69.36 L236.02,68.76 L236.73,68.18 L237.45,67.60 L238.18,67.04 L238.92,66.50 L239.66,65.96 L240.41,65.44 L241.17,64.94 L241.93,64.45 L242.71,63.97 L243.48,63.51 L244.27,63.06 L245.06,62.62 L245.85,62.20 L246.65,61.80 L247.46,61.41 L248.27,61.03 L249.09,60.67 L249.91,60.32 L250.73,59.99 L251.56,59.68 L252.40,59.38 L253.24,59.09 L254.08,58.82 L254.92,58.57 L255.77,58.33 L256.63,58.11 L257.48,57.90 L258.34,57.71 L259.20,57.53 L260.06,57.38 L260.93,57.23 L261.79,57.10 L262.66,56.99 L263.53,56.90 L264.40,56.82 L265.27,56.75 L266.15,56.70 L267.02,56.67 L267.89,56.65 L268.77,56.65 L269.64,56.67 L270.51,56.70 L271.38,56.75 L272.26,56.82 L273.13,56.90 L274.00,56.99 L274.86,57.10 L275.73,57.23 L276.60,57.38 L277.46,57.53 L278.32,57.71 L279.18,57.90 L280.03,58.11 L280.88,58.33 L281.73,58.57 L282.58,58.82 L283.42,59.09 L284.26,59.38 L285.09,59.68 L285.92,59.99 L286.75,60.32 L287.57,60.67 L288.39,61.03 L289.20,61.41 L290.00,61.80 L290.81,62.20 L291.60,62.62 L292.39,63.06 L293.17,63.51 L293.95,63.97 L294.72,64.45 L295.49,64.94 L296.24,65.44 L296.99,65.96 L297.74,66.50 L298.47,67.04 L299.20,67.60 L299.92,68.18 L300.64,68.76 L301.34,69.36 L302.04,69.98 L302.73,70.60 L303.41,71.24 L304.08,71.89 L304.74,72.55 L305.39,73.23 L306.04,73.91 L306.67,74.61 L307.30,75.32 L307.91,76.04 L308.52,76.77 L309.11,77.52 L309.70,78.27 L310.27,79.04 L310.84,79.81 L311.39,80.60 L311.93,81.39 L312.47,82.20 L312.99,83.01 L313.50,83.84 L314.00,84.67 L314.48,85.51 L314.96,86.37 L315.42,87.23 L315.88,88.10 L316.32,88.97 L316.75,89.86 L317.16,90.75 L317.57,91.65 L317.96,92.56 L318.34,93.47 L318.71,94.40 L319.06,95.32 L319.40,96.26 L319.73,97.20 L320.05,98.15 L320.35,99.10 L320.64,100.06 L320.92,101.02 L321.19,101.99 L321.44,102.96 L321.68,103.94 L321.90,104.92 L322.11,105.90 L322.31,106.89 L322.50,107.89 L322.67,108.88 L322.82,109.88 L322.97,110.88 L323.10,111.89 L323.22,112.89 L323.32,113.90 L323.41,114.91 L323.48,115.93 L323.55,116.94 L323.59,117.95 L323.63,118.97 L323.65,119.98 L323.66,121.00" fill="none" stroke="#1a1a1a" stroke-width="0.7" stroke-linejoin="round" stroke-linecap="round" />
<circle cx="213.00" cy="120.19" r="1.3" fill="#1a1a1a"/><circle cx="213.01" cy="120.01" r="1.3" fill="#1a1a1a"/><circle cx="213.01" cy="119.80" r="1.3" fill="#1a1a1a"/><circle cx="213.01" cy="119.54" r="1.3" fill="#1a1a1a"/><circle cx="213.02" cy="119.22" r="1.3" fill="#1a1a1a"/><circle cx="213.03" cy="118.84" r="1.3" fill="#1a1a1a"/><circle cx="213.05" cy="118.37" r="1.3" fill="#1a1a1a"/><circle cx="213.07" cy="117.81" r="1.3" fill="#1a1a1a"/><circle cx="213.10" cy="117.12" r="1.3" fill="#1a1a1a"/><circle cx="213.15" cy="116.28" r="1.3" fill="#1a1a1a"/><circle cx="213.22" cy="115.26" r="1.3" fill="#1a1a1a"/><circle cx="213.33" cy="114.03" r="1.3" fill="#1a1a1a"/><circle cx="213.48" cy="112.53" r="1.3" fill="#1a1a1a"/><circle cx="213.71" cy="110.73" r="1.3" fill="#1a1a1a"/><circle cx="214.05" cy="108.54" r="1.3" fill="#1a1a1a"/><circle cx="214.54" cy="105.92" r="1.3" fill="#1a1a1a"/><circle cx="215.26" cy="102.78" r="1.3" fill="#1a1a1a"/><circle cx="216.32" cy="99.05" r="1.3" fill="#1a1a1a"/><circle cx="217.84" cy="94.69" r="1.3" fill="#1a1a1a"/><circle cx="220.01" cy="89.66" r="1.3" fill="#1a1a1a"/><circle cx="223.06" cy="84.00" r="1.3" fill="#1a1a1a"/><circle cx="227.26" cy="77.88" r="1.3" fill="#1a1a1a"/><circle cx="232.86" cy="71.61" r="1.3" fill="#1a1a1a"/><circle cx="240.05" cy="65.69" r="1.3" fill="#1a1a1a"/><circle cx="248.82" cy="60.79" r="1.3" fill="#1a1a1a"/><circle cx="258.87" cy="57.60" r="1.3" fill="#1a1a1a"/><circle cx="269.60" cy="56.67" r="1.3" fill="#1a1a1a"/><circle cx="280.24" cy="58.16" r="1.3" fill="#1a1a1a"/><circle cx="290.03" cy="61.81" r="1.3" fill="#1a1a1a"/><circle cx="298.44" cy="67.02" r="1.3" fill="#1a1a1a"/><circle cx="305.25" cy="73.08" r="1.3" fill="#1a1a1a"/><circle cx="310.50" cy="79.35" r="1.3" fill="#1a1a1a"/><circle cx="314.41" cy="85.38" r="1.3" fill="#1a1a1a"/><circle cx="317.23" cy="90.90" r="1.3" fill="#1a1a1a"/><circle cx="319.23" cy="95.78" r="1.3" fill="#1a1a1a"/><circle cx="320.62" cy="99.99" r="1.3" fill="#1a1a1a"/><circle cx="321.59" cy="103.57" r="1.3" fill="#1a1a1a"/><circle cx="322.25" cy="106.58" r="1.3" fill="#1a1a1a"/><circle cx="322.70" cy="109.09" r="1.3" fill="#1a1a1a"/><circle cx="323.01" cy="111.18" r="1.3" fill="#1a1a1a"/><circle cx="323.22" cy="112.91" r="1.3" fill="#1a1a1a"/><circle cx="323.36" cy="114.34" r="1.3" fill="#1a1a1a"/><circle cx="323.46" cy="115.52" r="1.3" fill="#1a1a1a"/><circle cx="323.52" cy="116.49" r="1.3" fill="#1a1a1a"/><circle cx="323.56" cy="117.29" r="1.3" fill="#1a1a1a"/><circle cx="323.59" cy="117.95" r="1.3" fill="#1a1a1a"/><circle cx="323.61" cy="118.49" r="1.3" fill="#1a1a1a"/><circle cx="323.63" cy="118.94" r="1.3" fill="#1a1a1a"/><circle cx="323.64" cy="119.30" r="1.3" fill="#1a1a1a"/><circle cx="323.64" cy="119.61" r="1.3" fill="#1a1a1a"/><circle cx="323.65" cy="119.85" r="1.3" fill="#1a1a1a"/><circle cx="323.65" cy="120.06" r="1.3" fill="#1a1a1a"/>
<path d="M213.00,121.00 L213.00,120.43 L213.02,119.86 L213.04,119.29 L213.07,118.72 L213.11,118.15 L213.16,117.58 L213.22,117.01 L213.29,116.45 L213.37,115.88 L213.45,115.32 L213.55,114.75 L213.65,114.19 L213.76,113.63 L213.88,113.07 L214.01,112.52 L214.15,111.96 L214.30,111.41 L214.45,110.86 L214.62,110.32 L214.79,109.77 L214.97,109.23 L215.16,108.69 L215.36,108.16 L215.57,107.63 L215.79,107.10 L216.01,106.57 L216.24,106.05 L216.48,105.53 L216.73,105.02 L216.99,104.51 L217.25,104.00 L217.53,103.50 L217.81,103.00 L218.10,102.51 L218.39,102.02 L218.70,101.54 L219.01,101.06 L219.33,100.59 L219.65,100.12 L219.99,99.66 L220.33,99.20 L220.68,98.75 L221.03,98.30 L221.40,97.86 L221.77,97.42 L222.14,96.99 L222.53,96.57 L222.92,96.15 L223.31,95.74 L223.71,95.33 L224.12,94.93 L224.54,94.54 L224.96,94.16 L225.39,93.78 L225.82,93.41 L226.26,93.04 L226.71,92.68 L227.16,92.33 L227.61,91.99 L228.08,91.65 L228.54,91.32 L229.02,91.00 L229.49,90.68 L229.98,90.37 L230.46,90.08 L230.95,89.78 L231.45,89.50 L231.95,89.22 L232.46,88.95 L232.96,88.69 L233.48,88.44 L233.99,88.20 L234.52,87.96 L235.04,87.73 L235.57,87.51 L236.10,87.30 L236.63,87.10 L237.17,86.91 L237.71,86.72 L238.26,86.54 L238.80,86.38 L239.35,86.22 L239.90,86.06 L240.46,85.92 L241.01,85.79 L241.57,85.66 L242.13,85.55 L242.69,85.44 L243.26,85.34 L243.82,85.25 L244.39,85.17 L244.96,85.10 L245.53,85.03 L246.09,84.98 L246.66,84.94 L247.24,84.90 L247.81,84.87 L248.38,84.85 L248.95,84.85 L249.52,84.85 L250.10,84.85 L250.67,84.87 L251.24,84.90 L251.81,84.94 L252.38,84.98 L252.95,85.03 L253.52,85.10 L254.09,85.17 L254.65,85.25 L255.22,85.34 L255.78,85.44 L256.34,85.55 L256.90,85.66 L257.46,85.79 L258.02,85.92 L258.57,86.06 L259.12,86.22 L259.67,86.38 L260.22,86.54 L260.76,86.72 L261.30,86.91 L261.84,87.10 L262.37,87.30 L262.91,87.51 L263.43,87.73 L263.96,87.96 L264.48,88.20 L265.00,88.44 L265.51,88.69 L266.02,88.95 L266.52,89.22 L267.02,89.50 L267.52,89.78 L268.01,90.08 L268.50,90.37 L268.98,90.68 L269.46,91.00 L269.93,91.32 L270.40,91.65 L270.86,91.99 L271.32,92.33 L271.77,92.68 L272.21,93.04 L272.65,93.41 L273.08,93.78 L273.51,94.16 L273.93,94.54 L274.35,94.93 L274.76,95.33 L275.16,95.74 L275.56,96.15 L275.95,96.57 L276.33,96.99 L276.71,97.42 L277.08,97.86 L277.44,98.30 L277.80,98.75 L278.14,99.20 L278.49,99.66 L278.82,100.12 L279.15,100.59 L279.47,101.06 L279.78,101.54 L280.08,102.02 L280.38,102.51 L280.67,103.00 L280.95,103.50 L281.22,104.00 L281.49,104.51 L281.74,105.02 L281.99,105.53 L282.23,106.05 L282.46,106.57 L282.69,107.10 L282.90,107.63 L283.11,108.16 L283.31,108.69 L283.50,109.23 L283.68,109.77 L283.86,110.32 L284.02,110.86 L284.18,111.41 L284.32,111.96 L284.46,112.52 L284.59,113.07 L284.71,113.63 L284.83,114.19 L284.93,114.75 L285.02,115.32 L285.11,115.88 L285.19,116.45 L285.25,117.01 L285.31,117.58 L285.36,118.15 L285.40,118.72 L285.43,119.29 L285.46,119.86 L285.47,120.43 L285.47,121.00" fill="none" stroke="#ff3fa0" stroke-width="0.7" stroke-linejoin="round" stroke-linecap="round" />
<path d="M213.00,118.99 L214.48,121.47 L211.53,121.47 Z" fill="#ff3fa0"/><path d="M213.00,118.90 L214.48,121.38 L211.53,121.38 Z" fill="#ff3fa0"/><path d="M213.01,118.78 L214.48,121.26 L211.53,121.26 Z" fill="#ff3fa0"/><path d="M213.01,118.63 L214.48,121.11 L211.54,121.11 Z" fill="#ff3fa0"/><path d="M213.01,118.45 L214.49,120.93 L211.54,120.93 Z" fill="#ff3fa0"/><path d="M213.02,118.24 L214.49,120.72 L211.55,120.72 Z" fill="#ff3fa0"/><path d="M213.03,117.97 L214.50,120.45 L211.56,120.45 Z" fill="#ff3fa0"/><path d="M213.04,117.66 L214.52,120.14 L211.57,120.14 Z" fill="#ff3fa0"/><path d="M213.07,117.27 L214.54,119.75 L211.59,119.75 Z" fill="#ff3fa0"/><path d="M213.10,116.80 L214.57,119.28 L211.63,119.28 Z" fill="#ff3fa0"/><path d="M213.14,116.23 L214.62,118.71 L211.67,118.71 Z" fill="#ff3fa0"/><path d="M213.21,115.53 L214.69,118.01 L211.74,118.01 Z" fill="#ff3fa0"/><path d="M213.31,114.69 L214.79,117.17 L211.84,117.17 Z" fill="#ff3fa0"/><path d="M213.46,113.68 L214.94,116.16 L211.99,116.16 Z" fill="#ff3fa0"/><path d="M213.69,112.45 L215.16,114.93 L212.21,114.93 Z" fill="#ff3fa0"/><path d="M214.01,110.98 L215.48,113.46 L212.54,113.46 Z" fill="#ff3fa0"/><path d="M214.48,109.21 L215.96,111.69 L213.01,111.69 Z" fill="#ff3fa0"/><path d="M215.17,107.12 L216.65,109.60 L213.70,109.60 Z" fill="#ff3fa0"/><path d="M216.17,104.67 L217.64,107.15 L214.70,107.15 Z" fill="#ff3fa0"/><path d="M217.59,101.84 L219.06,104.32 L216.12,104.32 Z" fill="#ff3fa0"/><path d="M219.59,98.66 L221.06,101.14 L218.12,101.14 Z" fill="#ff3fa0"/><path d="M222.34,95.22 L223.81,97.70 L220.87,97.70 Z" fill="#ff3fa0"/><path d="M226.01,91.70 L227.48,94.18 L224.54,94.18 Z" fill="#ff3fa0"/><path d="M230.72,88.37 L232.19,90.85 L229.25,90.85 Z" fill="#ff3fa0"/><path d="M236.46,85.62 L237.93,88.10 L234.99,88.10 Z" fill="#ff3fa0"/><path d="M243.04,83.83 L244.51,86.31 L241.57,86.31 Z" fill="#ff3fa0"/><path d="M250.07,83.30 L251.54,85.78 L248.60,85.78 Z" fill="#ff3fa0"/><path d="M257.04,84.14 L258.51,86.62 L255.57,86.62 Z" fill="#ff3fa0"/><path d="M263.45,86.19 L264.92,88.67 L261.98,88.67 Z" fill="#ff3fa0"/><path d="M268.96,89.12 L270.43,91.60 L267.49,91.60 Z" fill="#ff3fa0"/><path d="M273.42,92.52 L274.89,95.00 L271.95,95.00 Z" fill="#ff3fa0"/><path d="M276.86,96.05 L278.33,98.53 L275.39,98.53 Z" fill="#ff3fa0"/><path d="M279.42,99.44 L280.89,101.92 L277.94,101.92 Z" fill="#ff3fa0"/><path d="M281.26,102.54 L282.74,105.02 L279.79,105.02 Z" fill="#ff3fa0"/><path d="M282.57,105.28 L284.05,107.76 L281.10,107.76 Z" fill="#ff3fa0"/><path d="M283.49,107.64 L284.96,110.12 L282.01,110.12 Z" fill="#ff3fa0"/><path d="M284.12,109.65 L285.59,112.13 L282.65,112.13 Z" fill="#ff3fa0"/><path d="M284.55,111.35 L286.02,113.83 L283.08,113.83 Z" fill="#ff3fa0"/><path d="M284.85,112.76 L286.32,115.24 L283.38,115.24 Z" fill="#ff3fa0"/><path d="M285.05,113.93 L286.52,116.41 L283.58,116.41 Z" fill="#ff3fa0"/><path d="M285.19,114.91 L286.66,117.39 L283.71,117.39 Z" fill="#ff3fa0"/><path d="M285.28,115.71 L286.75,118.19 L283.81,118.19 Z" fill="#ff3fa0"/><path d="M285.34,116.37 L286.81,118.85 L283.87,118.85 Z" fill="#ff3fa0"/><path d="M285.38,116.92 L286.86,119.40 L283.91,119.40 Z" fill="#ff3fa0"/><path d="M285.41,117.37 L286.89,119.85 L283.94,119.85 Z" fill="#ff3fa0"/><path d="M285.43,117.74 L286.91,120.22 L283.96,120.22 Z" fill="#ff3fa0"/><path d="M285.45,118.04 L286.92,120.52 L283.97,120.52 Z" fill="#ff3fa0"/><path d="M285.46,118.29 L286.93,120.77 L283.98,120.77 Z" fill="#ff3fa0"/><path d="M285.46,118.50 L286.93,120.98 L283.99,120.98 Z" fill="#ff3fa0"/><path d="M285.47,118.67 L286.94,121.15 L283.99,121.15 Z" fill="#ff3fa0"/><path d="M285.47,118.81 L286.94,121.29 L284.00,121.29 Z" fill="#ff3fa0"/><path d="M285.47,118.92 L286.94,121.40 L284.00,121.40 Z" fill="#ff3fa0"/>
<path d="M213.00,121.00 L213.01,120.30 L213.02,119.59 L213.05,118.89 L213.09,118.19 L213.13,117.49 L213.19,116.79 L213.26,116.09 L213.34,115.39 L213.43,114.69 L213.53,114.00 L213.64,113.30 L213.77,112.61 L213.90,111.92 L214.04,111.24 L214.19,110.55 L214.36,109.87 L214.53,109.19 L214.72,108.51 L214.91,107.84 L215.11,107.17 L215.33,106.50 L215.55,105.84 L215.79,105.18 L216.03,104.53 L216.29,103.87 L216.55,103.23 L216.83,102.58 L217.11,101.95 L217.41,101.31 L217.71,100.69 L218.02,100.06 L218.34,99.44 L218.68,98.83 L219.02,98.22 L219.37,97.62 L219.72,97.03 L220.09,96.44 L220.47,95.85 L220.86,95.28 L221.25,94.71 L221.65,94.14 L222.06,93.58 L222.48,93.03 L222.91,92.49 L223.35,91.95 L223.79,91.42 L224.25,90.90 L224.71,90.39 L225.17,89.88 L225.65,89.38 L226.13,88.89 L226.62,88.41 L227.12,87.93 L227.63,87.46 L228.14,87.01 L228.66,86.56 L229.18,86.11 L229.71,85.68 L230.25,85.26 L230.80,84.84 L231.35,84.44 L231.91,84.04 L232.47,83.65 L233.04,83.27 L233.61,82.90 L234.20,82.54 L234.78,82.19 L235.37,81.85 L235.97,81.52 L236.57,81.20 L237.17,80.89 L237.79,80.59 L238.40,80.30 L239.02,80.02 L239.64,79.75 L240.27,79.49 L240.90,79.24 L241.54,79.00 L242.18,78.77 L242.82,78.55 L243.46,78.35 L244.11,78.15 L244.76,77.96 L245.42,77.79 L246.07,77.62 L246.73,77.47 L247.39,77.32 L248.06,77.19 L248.72,77.07 L249.39,76.96 L250.06,76.86 L250.73,76.77 L251.40,76.69 L252.07,76.63 L252.74,76.57 L253.42,76.53 L254.09,76.49 L254.77,76.47 L255.44,76.46 L256.12,76.46 L256.79,76.47 L257.47,76.49 L258.14,76.53 L258.82,76.57 L259.49,76.63 L260.16,76.69 L260.83,76.77 L261.50,76.86 L262.17,76.96 L262.84,77.07 L263.50,77.19 L264.17,77.32 L264.83,77.47 L265.49,77.62 L266.14,77.79 L266.80,77.96 L267.45,78.15 L268.10,78.35 L268.74,78.55 L269.38,78.77 L270.02,79.00 L270.66,79.24 L271.29,79.49 L271.92,79.75 L272.54,80.02 L273.16,80.30 L273.77,80.59 L274.38,80.89 L274.99,81.20 L275.59,81.52 L276.19,81.85 L276.78,82.19 L277.36,82.54 L277.94,82.90 L278.52,83.27 L279.09,83.65 L279.65,84.04 L280.21,84.44 L280.76,84.84 L281.31,85.26 L281.84,85.68 L282.38,86.11 L282.90,86.56 L283.42,87.01 L283.93,87.46 L284.44,87.93 L284.94,88.41 L285.43,88.89 L285.91,89.38 L286.39,89.88 L286.85,90.39 L287.31,90.90 L287.77,91.42 L288.21,91.95 L288.65,92.49 L289.07,93.03 L289.49,93.58 L289.91,94.14 L290.31,94.71 L290.70,95.28 L291.09,95.85 L291.47,96.44 L291.83,97.03 L292.19,97.62 L292.54,98.22 L292.88,98.83 L293.22,99.44 L293.54,100.06 L293.85,100.69 L294.15,101.31 L294.45,101.95 L294.73,102.58 L295.01,103.23 L295.27,103.87 L295.52,104.53 L295.77,105.18 L296.00,105.84 L296.23,106.50 L296.44,107.17 L296.65,107.84 L296.84,108.51 L297.03,109.19 L297.20,109.87 L297.36,110.55 L297.52,111.24 L297.66,111.92 L297.79,112.61 L297.92,113.30 L298.03,114.00 L298.13,114.69 L298.22,115.39 L298.30,116.09 L298.37,116.79 L298.43,117.49 L298.47,118.19 L298.51,118.89 L298.54,119.59 L298.55,120.30 L298.56,121.00" fill="none" stroke="#ab6cf0" stroke-width="0.7" stroke-linejoin="round" stroke-linecap="round" />
<path d="M213.00,121.99 L214.48,119.51 L211.53,119.51 Z" fill="#ab6cf0"/><path d="M213.01,121.87 L214.48,119.39 L211.53,119.39 Z" fill="#ab6cf0"/><path d="M213.01,121.72 L214.48,119.24 L211.53,119.24 Z" fill="#ab6cf0"/><path d="M213.01,121.54 L214.48,119.06 L211.54,119.06 Z" fill="#ab6cf0"/><path d="M213.02,121.32 L214.49,118.84 L211.54,118.84 Z" fill="#ab6cf0"/><path d="M213.02,121.05 L214.50,118.57 L211.55,118.57 Z" fill="#ab6cf0"/><path d="M213.04,120.73 L214.51,118.25 L211.56,118.25 Z" fill="#ab6cf0"/><path d="M213.05,120.34 L214.53,117.86 L211.58,117.86 Z" fill="#ab6cf0"/><path d="M213.08,119.86 L214.55,117.38 L211.61,117.38 Z" fill="#ab6cf0"/><path d="M213.12,119.28 L214.59,116.80 L211.64,116.80 Z" fill="#ab6cf0"/><path d="M213.17,118.58 L214.64,116.10 L211.70,116.10 Z" fill="#ab6cf0"/><path d="M213.25,117.72 L214.72,115.24 L211.78,115.24 Z" fill="#ab6cf0"/><path d="M213.37,116.69 L214.84,114.21 L211.90,114.21 Z" fill="#ab6cf0"/><path d="M213.55,115.44 L215.02,112.96 L212.08,112.96 Z" fill="#ab6cf0"/><path d="M213.81,113.93 L215.28,111.45 L212.34,111.45 Z" fill="#ab6cf0"/><path d="M214.19,112.11 L215.66,109.63 L212.72,109.63 Z" fill="#ab6cf0"/><path d="M214.75,109.94 L216.22,107.46 L213.28,107.46 Z" fill="#ab6cf0"/><path d="M215.56,107.36 L217.04,104.88 L214.09,104.88 Z" fill="#ab6cf0"/><path d="M216.74,104.34 L218.21,101.86 L215.27,101.86 Z" fill="#ab6cf0"/><path d="M218.42,100.85 L219.89,98.37 L216.95,98.37 Z" fill="#ab6cf0"/><path d="M220.78,96.94 L222.25,94.46 L219.31,94.46 Z" fill="#ab6cf0"/><path d="M224.02,92.70 L225.50,90.22 L222.55,90.22 Z" fill="#ab6cf0"/><path d="M228.36,88.36 L229.83,85.88 L226.89,85.88 Z" fill="#ab6cf0"/><path d="M233.92,84.27 L235.39,81.79 L232.45,81.79 Z" fill="#ab6cf0"/><path d="M240.70,80.87 L242.17,78.39 L239.22,78.39 Z" fill="#ab6cf0"/><path d="M248.46,78.67 L249.94,76.19 L246.99,76.19 Z" fill="#ab6cf0"/><path d="M256.76,78.02 L258.24,75.54 L255.29,75.54 Z" fill="#ab6cf0"/><path d="M264.99,79.05 L266.46,76.57 L263.52,76.57 Z" fill="#ab6cf0"/><path d="M272.56,81.58 L274.03,79.10 L271.09,79.10 Z" fill="#ab6cf0"/><path d="M279.06,85.18 L280.53,82.70 L277.59,82.70 Z" fill="#ab6cf0"/><path d="M284.33,89.38 L285.80,86.90 L282.85,86.90 Z" fill="#ab6cf0"/><path d="M288.39,93.72 L289.86,91.24 L286.92,91.24 Z" fill="#ab6cf0"/><path d="M291.41,97.90 L292.88,95.42 L289.94,95.42 Z" fill="#ab6cf0"/><path d="M293.59,101.71 L295.06,99.23 L292.12,99.23 Z" fill="#ab6cf0"/><path d="M295.13,105.09 L296.61,102.61 L293.66,102.61 Z" fill="#ab6cf0"/><path d="M296.21,108.01 L297.69,105.53 L294.74,105.53 Z" fill="#ab6cf0"/><path d="M296.96,110.48 L298.43,108.00 L295.49,108.00 Z" fill="#ab6cf0"/><path d="M297.47,112.57 L298.94,110.09 L296.00,110.09 Z" fill="#ab6cf0"/><path d="M297.82,114.31 L299.29,111.83 L296.35,111.83 Z" fill="#ab6cf0"/><path d="M298.06,115.75 L299.53,113.27 L296.59,113.27 Z" fill="#ab6cf0"/><path d="M298.22,116.95 L299.69,114.47 L296.75,114.47 Z" fill="#ab6cf0"/><path d="M298.33,117.94 L299.80,115.46 L296.86,115.46 Z" fill="#ab6cf0"/><path d="M298.40,118.76 L299.88,116.28 L296.93,116.28 Z" fill="#ab6cf0"/><path d="M298.45,119.43 L299.93,116.95 L296.98,116.95 Z" fill="#ab6cf0"/><path d="M298.49,119.98 L299.96,117.50 L297.02,117.50 Z" fill="#ab6cf0"/><path d="M298.51,120.44 L299.98,117.96 L297.04,117.96 Z" fill="#ab6cf0"/><path d="M298.53,120.81 L300.00,118.33 L297.05,118.33 Z" fill="#ab6cf0"/><path d="M298.54,121.12 L300.01,118.64 L297.06,118.64 Z" fill="#ab6cf0"/><path d="M298.54,121.38 L300.02,118.90 L297.07,118.90 Z" fill="#ab6cf0"/><path d="M298.55,121.58 L300.02,119.10 L297.08,119.10 Z" fill="#ab6cf0"/><path d="M298.55,121.76 L300.02,119.28 L297.08,119.28 Z" fill="#ab6cf0"/><path d="M298.55,121.90 L300.03,119.42 L297.08,119.42 Z" fill="#ab6cf0"/>
<path d="M213.00,121.00 L213.00,120.37 L213.02,119.74 L213.04,119.11 L213.08,118.49 L213.12,117.86 L213.17,117.23 L213.24,116.61 L213.31,115.98 L213.39,115.36 L213.48,114.74 L213.58,114.12 L213.69,113.50 L213.81,112.88 L213.94,112.27 L214.08,111.66 L214.23,111.05 L214.38,110.44 L214.55,109.84 L214.72,109.23 L214.91,108.63 L215.10,108.04 L215.31,107.45 L215.52,106.86 L215.74,106.27 L215.97,105.69 L216.21,105.11 L216.46,104.53 L216.71,103.96 L216.98,103.40 L217.25,102.84 L217.53,102.28 L217.83,101.73 L218.13,101.18 L218.43,100.64 L218.75,100.10 L219.07,99.57 L219.41,99.04 L219.75,98.52 L220.09,98.00 L220.45,97.49 L220.81,96.99 L221.19,96.49 L221.57,95.99 L221.95,95.51 L222.35,95.03 L222.75,94.56 L223.16,94.09 L223.57,93.63 L223.99,93.18 L224.42,92.73 L224.86,92.29 L225.30,91.86 L225.75,91.43 L226.21,91.02 L226.67,90.61 L227.14,90.20 L227.61,89.81 L228.09,89.42 L228.58,89.04 L229.07,88.67 L229.57,88.31 L230.08,87.95 L230.58,87.61 L231.10,87.27 L231.62,86.94 L232.14,86.62 L232.67,86.30 L233.20,86.00 L233.74,85.70 L234.28,85.42 L234.83,85.14 L235.38,84.87 L235.94,84.61 L236.50,84.36 L237.06,84.12 L237.63,83.89 L238.20,83.66 L238.77,83.45 L239.35,83.24 L239.93,83.05 L240.51,82.86 L241.10,82.69 L241.68,82.52 L242.27,82.36 L242.87,82.21 L243.46,82.08 L244.06,81.95 L244.66,81.83 L245.26,81.72 L245.86,81.62 L246.47,81.53 L247.07,81.45 L247.68,81.39 L248.28,81.33 L248.89,81.28 L249.50,81.24 L250.11,81.21 L250.72,81.19 L251.33,81.18 L251.94,81.18 L252.55,81.19 L253.16,81.21 L253.77,81.24 L254.38,81.28 L254.98,81.33 L255.59,81.39 L256.20,81.45 L256.80,81.53 L257.41,81.62 L258.01,81.72 L258.61,81.83 L259.21,81.95 L259.81,82.08 L260.40,82.21 L260.99,82.36 L261.58,82.52 L262.17,82.69 L262.76,82.86 L263.34,83.05 L263.92,83.24 L264.50,83.45 L265.07,83.66 L265.64,83.89 L266.21,84.12 L266.77,84.36 L267.33,84.61 L267.88,84.87 L268.44,85.14 L268.98,85.42 L269.53,85.70 L270.06,86.00 L270.60,86.30 L271.13,86.62 L271.65,86.94 L272.17,87.27 L272.68,87.61 L273.19,87.95 L273.70,88.31 L274.19,88.67 L274.69,89.04 L275.17,89.42 L275.65,89.81 L276.13,90.20 L276.60,90.61 L277.06,91.02 L277.52,91.43 L277.96,91.86 L278.41,92.29 L278.84,92.73 L279.27,93.18 L279.70,93.63 L280.11,94.09 L280.52,94.56 L280.92,95.03 L281.32,95.51 L281.70,95.99 L282.08,96.49 L282.45,96.99 L282.82,97.49 L283.17,98.00 L283.52,98.52 L283.86,99.04 L284.19,99.57 L284.52,100.10 L284.84,100.64 L285.14,101.18 L285.44,101.73 L285.73,102.28 L286.02,102.84 L286.29,103.40 L286.55,103.96 L286.81,104.53 L287.06,105.11 L287.30,105.69 L287.53,106.27 L287.75,106.86 L287.96,107.45 L288.16,108.04 L288.36,108.63 L288.54,109.23 L288.72,109.84 L288.88,110.44 L289.04,111.05 L289.19,111.66 L289.33,112.27 L289.46,112.88 L289.58,113.50 L289.69,114.12 L289.79,114.74 L289.88,115.36 L289.96,115.98 L290.03,116.61 L290.09,117.23 L290.15,117.86 L290.19,118.49 L290.22,119.11 L290.25,119.74 L290.26,120.37 L290.27,121.00" fill="none" stroke="#42b4e6" stroke-width="0.7" stroke-linejoin="round" stroke-linecap="round" />
<circle cx="213.00" cy="120.50" r="1.15" fill="#42b4e6"/><circle cx="213.00" cy="120.39" r="1.15" fill="#42b4e6"/><circle cx="213.01" cy="120.26" r="1.15" fill="#42b4e6"/><circle cx="213.01" cy="120.10" r="1.15" fill="#42b4e6"/><circle cx="213.01" cy="119.90" r="1.15" fill="#42b4e6"/><circle cx="213.02" cy="119.66" r="1.15" fill="#42b4e6"/><circle cx="213.03" cy="119.37" r="1.15" fill="#42b4e6"/><circle cx="213.05" cy="119.02" r="1.15" fill="#42b4e6"/><circle cx="213.07" cy="118.60" r="1.15" fill="#42b4e6"/><circle cx="213.10" cy="118.08" r="1.15" fill="#42b4e6"/><circle cx="213.15" cy="117.45" r="1.15" fill="#42b4e6"/><circle cx="213.23" cy="116.69" r="1.15" fill="#42b4e6"/><circle cx="213.34" cy="115.76" r="1.15" fill="#42b4e6"/><circle cx="213.50" cy="114.64" r="1.15" fill="#42b4e6"/><circle cx="213.73" cy="113.29" r="1.15" fill="#42b4e6"/><circle cx="214.08" cy="111.67" r="1.15" fill="#42b4e6"/><circle cx="214.58" cy="109.72" r="1.15" fill="#42b4e6"/><circle cx="215.32" cy="107.42" r="1.15" fill="#42b4e6"/><circle cx="216.38" cy="104.72" r="1.15" fill="#42b4e6"/><circle cx="217.89" cy="101.60" r="1.15" fill="#42b4e6"/><circle cx="220.02" cy="98.10" r="1.15" fill="#42b4e6"/><circle cx="222.96" cy="94.32" r="1.15" fill="#42b4e6"/><circle cx="226.87" cy="90.43" r="1.15" fill="#42b4e6"/><circle cx="231.89" cy="86.77" r="1.15" fill="#42b4e6"/><circle cx="238.01" cy="83.73" r="1.15" fill="#42b4e6"/><circle cx="245.03" cy="81.76" r="1.15" fill="#42b4e6"/><circle cx="252.52" cy="81.19" r="1.15" fill="#42b4e6"/><circle cx="259.95" cy="82.11" r="1.15" fill="#42b4e6"/><circle cx="266.79" cy="84.37" r="1.15" fill="#42b4e6"/><circle cx="272.66" cy="87.59" r="1.15" fill="#42b4e6"/><circle cx="277.42" cy="91.34" r="1.15" fill="#42b4e6"/><circle cx="281.08" cy="95.22" r="1.15" fill="#42b4e6"/><circle cx="283.81" cy="98.96" r="1.15" fill="#42b4e6"/><circle cx="285.78" cy="102.37" r="1.15" fill="#42b4e6"/><circle cx="287.18" cy="105.39" r="1.15" fill="#42b4e6"/><circle cx="288.15" cy="108.00" r="1.15" fill="#42b4e6"/><circle cx="288.82" cy="110.21" r="1.15" fill="#42b4e6"/><circle cx="289.29" cy="112.07" r="1.15" fill="#42b4e6"/><circle cx="289.60" cy="113.63" r="1.15" fill="#42b4e6"/><circle cx="289.82" cy="114.92" r="1.15" fill="#42b4e6"/><circle cx="289.96" cy="115.99" r="1.15" fill="#42b4e6"/><circle cx="290.06" cy="116.88" r="1.15" fill="#42b4e6"/><circle cx="290.13" cy="117.61" r="1.15" fill="#42b4e6"/><circle cx="290.17" cy="118.21" r="1.15" fill="#42b4e6"/><circle cx="290.20" cy="118.70" r="1.15" fill="#42b4e6"/><circle cx="290.22" cy="119.11" r="1.15" fill="#42b4e6"/><circle cx="290.24" cy="119.45" r="1.15" fill="#42b4e6"/><circle cx="290.25" cy="119.72" r="1.15" fill="#42b4e6"/><circle cx="290.25" cy="119.95" r="1.15" fill="#42b4e6"/><circle cx="290.26" cy="120.14" r="1.15" fill="#42b4e6"/><circle cx="290.26" cy="120.29" r="1.15" fill="#42b4e6"/><circle cx="290.26" cy="120.42" r="1.15" fill="#42b4e6"/>
</g>
<rect x="212.7" y="15.6" width="127.8" height="105.4" fill="none" stroke="#5a5c70" stroke-width="1.2"/>
<line x1="210.40" y1="121.00" x2="213.00" y2="121.00" stroke="#2a2a2a" stroke-width="0.9" />
<line x1="211.50" y1="107.90" x2="213.00" y2="107.90" stroke="#2a2a2a" stroke-width="0.9" />
<line x1="210.40" y1="94.80" x2="213.00" y2="94.80" stroke="#2a2a2a" stroke-width="0.9" />
<line x1="211.50" y1="81.70" x2="213.00" y2="81.70" stroke="#2a2a2a" stroke-width="0.9" />
<line x1="210.40" y1="68.60" x2="213.00" y2="68.60" stroke="#2a2a2a" stroke-width="0.9" />
<line x1="211.50" y1="55.50" x2="213.00" y2="55.50" stroke="#2a2a2a" stroke-width="0.9" />
<line x1="210.40" y1="42.40" x2="213.00" y2="42.40" stroke="#2a2a2a" stroke-width="0.9" />
<line x1="211.50" y1="29.30" x2="213.00" y2="29.30" stroke="#2a2a2a" stroke-width="0.9" />
<line x1="210.40" y1="16.20" x2="213.00" y2="16.20" stroke="#2a2a2a" stroke-width="0.9" />
<text x="208.60" y="123.00" font-size="6.0" text-anchor="end" font-weight="bold" fill="#111" stroke="#111" stroke-width="0.22" >0</text>
<text x="208.60" y="96.80" font-size="6.0" text-anchor="end" font-weight="bold" fill="#111" stroke="#111" stroke-width="0.22" >500</text>
<text x="208.60" y="70.60" font-size="6.0" text-anchor="end" font-weight="bold" fill="#111" stroke="#111" stroke-width="0.22" >1000</text>
<text x="208.60" y="44.40" font-size="6.0" text-anchor="end" font-weight="bold" fill="#111" stroke="#111" stroke-width="0.22" >1500</text>
<text x="208.60" y="18.20" font-size="6.0" text-anchor="end" font-weight="bold" fill="#111" stroke="#111" stroke-width="0.22" >2000</text>
<line x1="213.00" y1="121.00" x2="213.00" y2="123.60" stroke="#2a2a2a" stroke-width="0.9" />
<line x1="227.10" y1="121.00" x2="227.10" y2="122.50" stroke="#2a2a2a" stroke-width="0.9" />
<line x1="241.20" y1="121.00" x2="241.20" y2="123.60" stroke="#2a2a2a" stroke-width="0.9" />
<line x1="255.30" y1="121.00" x2="255.30" y2="122.50" stroke="#2a2a2a" stroke-width="0.9" />
<line x1="269.40" y1="121.00" x2="269.40" y2="123.60" stroke="#2a2a2a" stroke-width="0.9" />
<line x1="283.50" y1="121.00" x2="283.50" y2="122.50" stroke="#2a2a2a" stroke-width="0.9" />
<line x1="297.60" y1="121.00" x2="297.60" y2="123.60" stroke="#2a2a2a" stroke-width="0.9" />
<line x1="311.70" y1="121.00" x2="311.70" y2="122.50" stroke="#2a2a2a" stroke-width="0.9" />
<line x1="325.80" y1="121.00" x2="325.80" y2="123.60" stroke="#2a2a2a" stroke-width="0.9" />
<line x1="339.90" y1="121.00" x2="339.90" y2="122.50" stroke="#2a2a2a" stroke-width="0.9" />
<text x="213.00" y="130.80" font-size="7.6" text-anchor="middle" font-weight="bold" fill="#111" stroke="#111" stroke-width="0.22" >0</text>
<text x="241.20" y="130.80" font-size="7.6" text-anchor="middle" font-weight="bold" fill="#111" stroke="#111" stroke-width="0.22" >500</text>
<text x="269.40" y="130.80" font-size="7.6" text-anchor="middle" font-weight="bold" fill="#111" stroke="#111" stroke-width="0.22" >1000</text>
<text x="297.60" y="130.80" font-size="7.6" text-anchor="middle" font-weight="bold" fill="#111" stroke="#111" stroke-width="0.22" >1500</text>
<text x="325.80" y="130.80" font-size="7.6" text-anchor="middle" font-weight="bold" fill="#111" stroke="#111" stroke-width="0.22" >2000</text>
<text x="276.30" y="141.60" font-size="10.6" text-anchor="middle" font-weight="bold" fill="#111" stroke="#111" stroke-width="0.22" >Z' (Ohm)</text>
<text x="194.60" y="66.40" font-size="10.8" text-anchor="middle" font-weight="bold" fill="#111" stroke="#111" stroke-width="0.22" transform="rotate(-90 194.60 66.40)" >&#8722;Z'' (Ohm)</text>
<text x="0" y="0" font-size="11.6" text-anchor="start" font-weight="bold" fill="#111" stroke="#111" stroke-width="0.22" transform="translate(182.40 10.20) scale(1.08 1)" >(b)</text>
<line x1="213.50" y1="19.80" x2="227.70" y2="19.80" stroke="#1a1a1a" stroke-width="0.8" stroke-dasharray="2.2,0.8"/>
<circle cx="221" cy="19.8" r="1.35" fill="#1a1a1a"/>
<text x="229.00" y="21.90" font-size="6.2" text-anchor="start" font-weight="bold" fill="#111" stroke="#111" stroke-width="0.22" >Reference</text>
<line x1="213.50" y1="26.90" x2="227.70" y2="26.90" stroke="#ff3fa0" stroke-width="0.8" stroke-dasharray="2.2,0.8"/>
<path d="M221.00,25.35 L222.47,27.83 L219.53,27.83 Z" fill="#ff3fa0"/>
<text x="229.00" y="29.00" font-size="6.2" text-anchor="start" font-weight="bold" fill="#111" stroke="#111" stroke-width="0.22" >MACl</text>
<line x1="213.50" y1="34.50" x2="227.70" y2="34.50" stroke="#ab6cf0" stroke-width="0.8" stroke-dasharray="2.2,0.8"/>
<path d="M221.00,36.05 L222.47,33.57 L219.53,33.57 Z" fill="#ab6cf0"/>
<text x="229.00" y="36.60" font-size="6.2" text-anchor="start" font-weight="bold" fill="#111" stroke="#111" stroke-width="0.22" >MABr</text>
<line x1="213.50" y1="41.70" x2="227.70" y2="41.70" stroke="#42b4e6" stroke-width="0.8" stroke-dasharray="2.2,0.8"/>
<circle cx="221" cy="41.7" r="1.35" fill="#42b4e6"/>
<text x="229.00" y="43.80" font-size="6.2" text-anchor="start" font-weight="bold" fill="#111" stroke="#111" stroke-width="0.22" >MAI</text>
<line x1="291.50" y1="25.60" x2="296.70" y2="25.60" stroke="#333" stroke-width="0.8" />
<rect x="296.7" y="23.8" width="11" height="3.6" fill="#fff" stroke="#333" stroke-width="0.8"/>
<line x1="307.70" y1="25.60" x2="317.00" y2="25.60" stroke="#333" stroke-width="0.8" />
<rect x="317" y="23.8" width="11" height="3.6" fill="#fff" stroke="#333" stroke-width="0.8"/>
<line x1="328.00" y1="25.60" x2="339.50" y2="25.60" stroke="#333" stroke-width="0.8" />
<line x1="311.00" y1="25.60" x2="311.00" y2="34.60" stroke="#333" stroke-width="0.8" />
<line x1="334.00" y1="25.60" x2="334.00" y2="34.60" stroke="#333" stroke-width="0.8" />
<line x1="311.00" y1="34.60" x2="320.30" y2="34.60" stroke="#333" stroke-width="0.8" />
<line x1="323.70" y1="34.60" x2="334.00" y2="34.60" stroke="#333" stroke-width="0.8" />
<line x1="320.30" y1="32.20" x2="320.30" y2="37.00" stroke="#333" stroke-width="0.8" />
<line x1="323.70" y1="32.20" x2="323.70" y2="37.00" stroke="#333" stroke-width="0.8" />
<text x="302.00" y="21.40" font-size="6.2" text-anchor="middle" font-weight="bold" fill="#111" stroke="#111" stroke-width="0.22" >R<tspan font-size="3.6" dy="0.8">s</tspan></text>
<text x="322.40" y="21.40" font-size="6.2" text-anchor="middle" font-weight="bold" fill="#111" stroke="#111" stroke-width="0.22" >R<tspan font-size="3.6" dy="0.8">ct</tspan></text>
<text x="322.00" y="42.40" font-size="6.2" text-anchor="middle" font-weight="bold" fill="#111" stroke="#111" stroke-width="0.22" >C</text>
<path d="M29.10,174.20 C38.40,173.80 39.18,170.20 44.60,170.20 C50.02,170.20 50.80,173.80 60.10,174.20 C50.80,174.63 50.02,178.50 44.60,178.50 C39.18,178.50 38.40,174.63 29.10,174.20 Z" fill="url(#g0)" stroke="#222" stroke-width="0.75"/>
<path d="M30.34,174.20 C38.18,173.87 38.18,172.00 44.60,172.00 C51.02,172.00 51.02,173.87 58.86,174.20" fill="none" stroke="#222" stroke-width="0.4" opacity="0.6"/>
<line x1="44.60" y1="165.00" x2="44.60" y2="178.20" stroke="#222" stroke-width="0.5" />
<line x1="42.80" y1="165.00" x2="46.40" y2="165.00" stroke="#222" stroke-width="0.7" />
<line x1="42.80" y1="178.20" x2="46.40" y2="178.20" stroke="#222" stroke-width="0.7" />
<g fill="#222"><circle cx="36.80" cy="169.10" r="1.0"/><circle cx="41.80" cy="167.40" r="1.0"/><circle cx="46.90" cy="165.80" r="1.0"/><circle cx="52.50" cy="168.80" r="1.0"/><circle cx="31.70" cy="178.20" r="1.0"/><circle cx="36.80" cy="179.30" r="1.0"/><circle cx="41.80" cy="177.80" r="1.0"/><circle cx="46.90" cy="177.50" r="1.0"/><circle cx="52.50" cy="178.50" r="1.0"/><circle cx="57.20" cy="176.80" r="1.0"/><circle cx="43.50" cy="164.50" r="1.0"/><circle cx="44.60" cy="171.00" r="1.0"/><circle cx="40.00" cy="172.00" r="1.0"/></g>
<g fill="#222"></g>
<path d="M66.90,168.10 C76.20,167.90 76.98,166.10 82.40,166.10 C87.83,166.10 88.60,167.90 97.90,168.10 C88.60,168.32 87.83,170.30 82.40,170.30 C76.98,170.30 76.20,168.32 66.90,168.10 Z" fill="url(#g1)" stroke="#ff3fa0" stroke-width="0.75"/>
<path d="M68.14,168.10 C75.98,167.94 75.98,167.00 82.40,167.00 C88.82,167.00 88.82,167.94 96.66,168.10" fill="none" stroke="#ff3fa0" stroke-width="0.4" opacity="0.6"/>
<line x1="82.40" y1="165.40" x2="82.40" y2="178.50" stroke="#ff3fa0" stroke-width="0.5" />
<line x1="80.60" y1="165.40" x2="84.20" y2="165.40" stroke="#ff3fa0" stroke-width="0.7" />
<line x1="80.60" y1="178.50" x2="84.20" y2="178.50" stroke="#ff3fa0" stroke-width="0.7" />
<g fill="#ff3fa0"><circle cx="70.00" cy="166.40" r="0.75"/><circle cx="74.80" cy="165.40" r="0.75"/><circle cx="79.00" cy="166.00" r="0.75"/><circle cx="81.00" cy="165.20" r="0.75"/><circle cx="84.00" cy="165.60" r="0.75"/><circle cx="86.00" cy="165.00" r="0.75"/><circle cx="89.90" cy="165.40" r="0.75"/><circle cx="94.00" cy="166.80" r="0.75"/><circle cx="77.40" cy="175.20" r="0.75"/><circle cx="80.10" cy="173.90" r="0.75"/><circle cx="87.50" cy="176.60" r="0.75"/><circle cx="95.30" cy="170.40" r="0.75"/><circle cx="73.00" cy="168.50" r="0.75"/><circle cx="91.00" cy="169.50" r="0.75"/><circle cx="84.50" cy="170.50" r="0.75"/></g>
<g fill="#ff3fa0"><circle cx="77.66" cy="165.92" r="0.7"/><circle cx="70.19" cy="167.66" r="0.7"/><circle cx="86.02" cy="167.52" r="0.7"/><circle cx="86.87" cy="165.82" r="0.7"/><circle cx="80.54" cy="167.95" r="0.7"/><circle cx="84.60" cy="170.27" r="0.7"/><circle cx="92.66" cy="167.65" r="0.7"/><circle cx="88.76" cy="166.51" r="0.7"/><circle cx="86.65" cy="167.98" r="0.7"/><circle cx="86.53" cy="169.23" r="0.7"/><circle cx="77.22" cy="168.36" r="0.7"/><circle cx="88.18" cy="168.10" r="0.7"/></g>
<path d="M104.90,169.90 C114.20,169.66 114.98,167.50 120.40,167.50 C125.83,167.50 126.60,169.66 135.90,169.90 C126.60,170.14 125.83,172.30 120.40,172.30 C114.98,172.30 114.20,170.14 104.90,169.90 Z" fill="url(#g2)" stroke="#ab6cf0" stroke-width="0.75"/>
<path d="M106.14,169.90 C113.98,169.70 113.98,168.58 120.40,168.58 C126.82,168.58 126.82,169.70 134.66,169.90" fill="none" stroke="#ab6cf0" stroke-width="0.4" opacity="0.6"/>
<line x1="120.40" y1="162.00" x2="120.40" y2="178.50" stroke="#ab6cf0" stroke-width="0.5" />
<line x1="118.60" y1="162.00" x2="122.20" y2="162.00" stroke="#ab6cf0" stroke-width="0.7" />
<line x1="118.60" y1="178.50" x2="122.20" y2="178.50" stroke="#ab6cf0" stroke-width="0.7" />
<g fill="#ab6cf0"><circle cx="111.40" cy="178.50" r="0.75"/><circle cx="116.10" cy="178.50" r="0.75"/><circle cx="124.80" cy="177.60" r="0.75"/><circle cx="128.90" cy="178.00" r="0.75"/><circle cx="118.00" cy="163.00" r="0.75"/><circle cx="121.50" cy="162.50" r="0.75"/><circle cx="123.00" cy="165.00" r="0.75"/><circle cx="117.00" cy="166.50" r="0.75"/><circle cx="111.00" cy="167.50" r="0.75"/><circle cx="128.00" cy="167.20" r="0.75"/><circle cx="133.00" cy="170.00" r="0.75"/><circle cx="108.00" cy="169.50" r="0.75"/></g>
<g fill="#ab6cf0"><circle cx="124.15" cy="169.47" r="0.7"/><circle cx="133.39" cy="169.03" r="0.7"/><circle cx="126.13" cy="169.37" r="0.7"/><circle cx="113.92" cy="171.33" r="0.7"/><circle cx="116.84" cy="169.20" r="0.7"/><circle cx="125.57" cy="168.62" r="0.7"/><circle cx="120.14" cy="170.99" r="0.7"/><circle cx="127.55" cy="171.92" r="0.7"/><circle cx="108.75" cy="169.34" r="0.7"/><circle cx="133.08" cy="170.42" r="0.7"/><circle cx="131.71" cy="167.90" r="0.7"/><circle cx="111.71" cy="171.45" r="0.7"/></g>
<path d="M142.90,172.60 C152.20,172.35 152.97,170.10 158.40,170.10 C163.83,170.10 164.60,172.35 173.90,172.60 C164.60,172.80 163.83,174.60 158.40,174.60 C152.97,174.60 152.20,172.80 142.90,172.60 Z" fill="url(#g3)" stroke="#42b4e6" stroke-width="0.75"/>
<path d="M144.14,172.60 C151.98,172.39 151.98,171.22 158.40,171.22 C164.82,171.22 164.82,172.39 172.66,172.60" fill="none" stroke="#42b4e6" stroke-width="0.4" opacity="0.6"/>
<line x1="158.40" y1="162.80" x2="158.40" y2="178.20" stroke="#42b4e6" stroke-width="0.5" />
<line x1="156.60" y1="162.80" x2="160.20" y2="162.80" stroke="#42b4e6" stroke-width="0.7" />
<line x1="156.60" y1="178.20" x2="160.20" y2="178.20" stroke="#42b4e6" stroke-width="0.7" />
<g fill="#42b4e6"><circle cx="158.30" cy="158.30" r="0.75"/><circle cx="144.00" cy="175.20" r="0.75"/><circle cx="147.50" cy="175.20" r="0.75"/><circle cx="151.00" cy="175.20" r="0.75"/><circle cx="154.50" cy="175.20" r="0.75"/><circle cx="161.50" cy="175.20" r="0.75"/><circle cx="165.00" cy="175.20" r="0.75"/><circle cx="168.50" cy="175.20" r="0.75"/><circle cx="172.00" cy="175.20" r="0.75"/><circle cx="158.40" cy="179.50" r="0.75"/><circle cx="162.00" cy="171.00" r="0.75"/><circle cx="150.00" cy="171.50" r="0.75"/></g>
<g fill="#42b4e6"><circle cx="165.02" cy="171.75" r="0.7"/><circle cx="150.72" cy="173.72" r="0.7"/><circle cx="162.29" cy="171.38" r="0.7"/><circle cx="151.20" cy="175.58" r="0.7"/><circle cx="164.83" cy="172.56" r="0.7"/><circle cx="149.06" cy="172.17" r="0.7"/><circle cx="154.14" cy="173.27" r="0.7"/><circle cx="154.76" cy="172.40" r="0.7"/><circle cx="145.77" cy="171.01" r="0.7"/><circle cx="163.52" cy="171.78" r="0.7"/><circle cx="149.09" cy="172.85" r="0.7"/><circle cx="150.56" cy="174.97" r="0.7"/></g>
<path d="M29.10,218.70 C38.40,218.42 39.18,215.90 44.60,215.90 C50.02,215.90 50.80,218.42 60.10,218.70 C50.80,219.10 50.02,222.70 44.60,222.70 C39.18,222.70 38.40,219.10 29.10,218.70 Z" fill="url(#g0)" stroke="#222" stroke-width="0.75"/>
<path d="M30.34,218.70 C38.18,218.47 38.18,217.16 44.60,217.16 C51.02,217.16 51.02,218.47 58.86,218.70" fill="none" stroke="#222" stroke-width="0.4" opacity="0.6"/>
<line x1="44.60" y1="214.00" x2="44.60" y2="226.00" stroke="#222" stroke-width="0.5" />
<line x1="42.80" y1="214.00" x2="46.40" y2="214.00" stroke="#222" stroke-width="0.7" />
<line x1="42.80" y1="226.00" x2="46.40" y2="226.00" stroke="#222" stroke-width="0.7" />
<g fill="#222"><circle cx="33.00" cy="216.50" r="1.0"/><circle cx="37.00" cy="214.50" r="1.0"/><circle cx="41.00" cy="214.80" r="1.0"/><circle cx="44.50" cy="213.80" r="1.0"/><circle cx="48.00" cy="214.70" r="1.0"/><circle cx="52.00" cy="214.20" r="1.0"/><circle cx="56.00" cy="216.00" r="1.0"/><circle cx="37.60" cy="222.50" r="1.0"/><circle cx="43.50" cy="225.70" r="1.0"/><circle cx="42.90" cy="228.80" r="1.0"/><circle cx="52.00" cy="222.50" r="1.0"/><circle cx="31.00" cy="219.00" r="1.0"/></g>
<g fill="#222"></g>
<path d="M66.90,201.40 C76.20,201.15 76.98,198.90 82.40,198.90 C87.83,198.90 88.60,201.15 97.90,201.40 C88.60,201.65 87.83,203.90 82.40,203.90 C76.98,203.90 76.20,201.65 66.90,201.40 Z" fill="url(#g1)" stroke="#ff3fa0" stroke-width="0.75"/>
<path d="M68.14,201.40 C75.98,201.19 75.98,200.03 82.40,200.03 C88.82,200.03 88.82,201.19 96.66,201.40" fill="none" stroke="#ff3fa0" stroke-width="0.4" opacity="0.6"/>
<line x1="82.40" y1="197.00" x2="82.40" y2="206.00" stroke="#ff3fa0" stroke-width="0.5" />
<line x1="80.60" y1="197.00" x2="84.20" y2="197.00" stroke="#ff3fa0" stroke-width="0.7" />
<line x1="80.60" y1="206.00" x2="84.20" y2="206.00" stroke="#ff3fa0" stroke-width="0.7" />
<g fill="#ff3fa0"><circle cx="69.00" cy="201.60" r="0.75"/><circle cx="72.00" cy="199.50" r="0.75"/><circle cx="75.00" cy="200.50" r="0.75"/><circle cx="78.00" cy="198.00" r="0.75"/><circle cx="81.00" cy="196.80" r="0.75"/><circle cx="84.00" cy="197.50" r="0.75"/><circle cx="87.00" cy="198.00" r="0.75"/><circle cx="90.00" cy="199.00" r="0.75"/><circle cx="93.00" cy="200.50" r="0.75"/><circle cx="96.00" cy="201.50" r="0.75"/><circle cx="77.00" cy="204.00" r="0.75"/><circle cx="82.00" cy="206.50" r="0.75"/><circle cx="86.00" cy="205.00" r="0.75"/><circle cx="89.00" cy="203.50" r="0.75"/><circle cx="74.00" cy="203.00" r="0.75"/></g>
<g fill="#ff3fa0"><circle cx="82.02" cy="202.97" r="0.7"/><circle cx="89.90" cy="201.16" r="0.7"/><circle cx="94.33" cy="200.00" r="0.7"/><circle cx="82.08" cy="201.18" r="0.7"/><circle cx="80.97" cy="199.62" r="0.7"/><circle cx="88.77" cy="199.64" r="0.7"/><circle cx="82.75" cy="198.34" r="0.7"/><circle cx="87.28" cy="200.44" r="0.7"/><circle cx="92.01" cy="199.35" r="0.7"/><circle cx="85.76" cy="200.20" r="0.7"/><circle cx="88.93" cy="202.61" r="0.7"/><circle cx="69.40" cy="201.49" r="0.7"/></g>
<path d="M104.90,210.50 C114.20,210.17 114.98,207.20 120.40,207.20 C125.83,207.20 126.60,210.17 135.90,210.50 C126.60,210.83 125.83,213.80 120.40,213.80 C114.98,213.80 114.20,210.83 104.90,210.50 Z" fill="url(#g2)" stroke="#ab6cf0" stroke-width="0.75"/>
<path d="M106.14,210.50 C113.98,210.23 113.98,208.69 120.40,208.69 C126.82,208.69 126.82,210.23 134.66,210.50" fill="none" stroke="#ab6cf0" stroke-width="0.4" opacity="0.6"/>
<line x1="120.40" y1="202.90" x2="120.40" y2="220.40" stroke="#ab6cf0" stroke-width="0.5" />
<line x1="118.60" y1="202.90" x2="122.20" y2="202.90" stroke="#ab6cf0" stroke-width="0.7" />
<line x1="118.60" y1="220.40" x2="122.20" y2="220.40" stroke="#ab6cf0" stroke-width="0.7" />
<g fill="#ab6cf0"><circle cx="110.00" cy="207.00" r="0.75"/><circle cx="114.00" cy="205.50" r="0.75"/><circle cx="120.40" cy="203.00" r="0.75"/><circle cx="126.00" cy="205.00" r="0.75"/><circle cx="130.00" cy="207.00" r="0.75"/><circle cx="108.00" cy="214.50" r="0.75"/><circle cx="113.00" cy="214.00" r="0.75"/><circle cx="118.00" cy="215.00" r="0.75"/><circle cx="124.00" cy="215.50" r="0.75"/><circle cx="129.00" cy="214.50" r="0.75"/><circle cx="133.00" cy="213.50" r="0.75"/><circle cx="120.40" cy="219.50" r="0.75"/></g>
<g fill="#ab6cf0"><circle cx="125.70" cy="211.90" r="0.7"/><circle cx="122.35" cy="211.07" r="0.7"/><circle cx="123.35" cy="212.19" r="0.7"/><circle cx="119.39" cy="210.04" r="0.7"/><circle cx="126.15" cy="210.90" r="0.7"/><circle cx="111.25" cy="210.20" r="0.7"/><circle cx="127.18" cy="208.36" r="0.7"/><circle cx="118.69" cy="210.29" r="0.7"/><circle cx="119.30" cy="209.59" r="0.7"/><circle cx="114.03" cy="212.04" r="0.7"/><circle cx="110.62" cy="210.06" r="0.7"/><circle cx="117.61" cy="210.39" r="0.7"/></g>
<path d="M142.90,204.40 C152.20,204.15 152.97,201.90 158.40,201.90 C163.83,201.90 164.60,204.15 173.90,204.40 C164.60,204.62 163.83,206.60 158.40,206.60 C152.97,206.60 152.20,204.62 142.90,204.40 Z" fill="url(#g3)" stroke="#42b4e6" stroke-width="0.75"/>
<path d="M144.14,204.40 C151.98,204.19 151.98,203.03 158.40,203.03 C164.82,203.03 164.82,204.19 172.66,204.40" fill="none" stroke="#42b4e6" stroke-width="0.4" opacity="0.6"/>
<line x1="158.40" y1="198.50" x2="158.40" y2="208.50" stroke="#42b4e6" stroke-width="0.5" />
<line x1="156.60" y1="198.50" x2="160.20" y2="198.50" stroke="#42b4e6" stroke-width="0.7" />
<line x1="156.60" y1="208.50" x2="160.20" y2="208.50" stroke="#42b4e6" stroke-width="0.7" />
<g fill="#42b4e6"><circle cx="145.00" cy="203.00" r="0.75"/><circle cx="148.00" cy="201.00" r="0.75"/><circle cx="152.00" cy="198.00" r="0.75"/><circle cx="156.00" cy="199.00" r="0.75"/><circle cx="160.00" cy="197.50" r="0.75"/><circle cx="164.00" cy="200.00" r="0.75"/><circle cx="168.00" cy="201.00" r="0.75"/><circle cx="172.00" cy="204.00" r="0.75"/><circle cx="150.00" cy="207.80" r="0.75"/><circle cx="155.00" cy="208.50" r="0.75"/><circle cx="159.00" cy="208.00" r="0.75"/><circle cx="163.00" cy="207.50" r="0.75"/></g>
<g fill="#42b4e6"><circle cx="160.68" cy="203.90" r="0.7"/><circle cx="147.07" cy="201.41" r="0.7"/><circle cx="158.14" cy="201.91" r="0.7"/><circle cx="169.07" cy="205.12" r="0.7"/><circle cx="149.38" cy="205.15" r="0.7"/><circle cx="162.00" cy="202.25" r="0.7"/><circle cx="154.85" cy="206.34" r="0.7"/><circle cx="167.92" cy="205.25" r="0.7"/><circle cx="155.74" cy="203.63" r="0.7"/><circle cx="154.76" cy="204.22" r="0.7"/><circle cx="168.64" cy="204.72" r="0.7"/><circle cx="166.31" cy="203.54" r="0.7"/></g>
<path d="M29.10,261.30 C38.40,260.96 39.18,257.90 44.60,257.90 C50.02,257.90 50.80,260.96 60.10,261.30 C50.80,261.64 50.02,264.70 44.60,264.70 C39.18,264.70 38.40,261.64 29.10,261.30 Z" fill="url(#g0)" stroke="#222" stroke-width="0.75"/>
<path d="M30.34,261.30 C38.18,261.02 38.18,259.43 44.60,259.43 C51.02,259.43 51.02,261.02 58.86,261.30" fill="none" stroke="#222" stroke-width="0.4" opacity="0.6"/>
<line x1="44.60" y1="253.50" x2="44.60" y2="272.90" stroke="#222" stroke-width="0.5" />
<line x1="42.80" y1="253.50" x2="46.40" y2="253.50" stroke="#222" stroke-width="0.7" />
<line x1="42.80" y1="272.90" x2="46.40" y2="272.90" stroke="#222" stroke-width="0.7" />
<g fill="#222"><circle cx="33.00" cy="255.00" r="1.0"/><circle cx="38.00" cy="254.00" r="1.0"/><circle cx="44.50" cy="253.00" r="1.0"/><circle cx="50.00" cy="255.00" r="1.0"/><circle cx="55.00" cy="254.00" r="1.0"/><circle cx="31.00" cy="261.50" r="1.0"/><circle cx="58.00" cy="261.00" r="1.0"/><circle cx="36.00" cy="267.00" r="1.0"/><circle cx="40.00" cy="268.50" r="1.0"/><circle cx="48.00" cy="269.00" r="1.0"/><circle cx="53.00" cy="268.00" r="1.0"/><circle cx="39.00" cy="273.00" r="1.0"/><circle cx="50.00" cy="273.50" r="1.0"/></g>
<g fill="#222"></g>
<path d="M66.90,240.30 C76.20,240.15 76.98,238.80 82.40,238.80 C87.83,238.80 88.60,240.15 97.90,240.30 C88.60,240.45 87.83,241.80 82.40,241.80 C76.98,241.80 76.20,240.45 66.90,240.30 Z" fill="url(#g1)" stroke="#ff3fa0" stroke-width="0.75"/>
<path d="M68.14,240.30 C75.98,240.18 75.98,239.48 82.40,239.48 C88.82,239.48 88.82,240.18 96.66,240.30" fill="none" stroke="#ff3fa0" stroke-width="0.4" opacity="0.6"/>
<line x1="82.40" y1="238.00" x2="82.40" y2="243.00" stroke="#ff3fa0" stroke-width="0.5" />
<line x1="80.60" y1="238.00" x2="84.20" y2="238.00" stroke="#ff3fa0" stroke-width="0.7" />
<line x1="80.60" y1="243.00" x2="84.20" y2="243.00" stroke="#ff3fa0" stroke-width="0.7" />
<g fill="#ff3fa0"><circle cx="68.00" cy="240.00" r="0.75"/><circle cx="72.00" cy="238.50" r="0.75"/><circle cx="76.00" cy="239.50" r="0.75"/><circle cx="80.00" cy="238.00" r="0.75"/><circle cx="84.00" cy="238.50" r="0.75"/><circle cx="88.00" cy="239.00" r="0.75"/><circle cx="92.00" cy="240.50" r="0.75"/><circle cx="96.00" cy="240.00" r="0.75"/><circle cx="83.00" cy="242.50" r="0.75"/><circle cx="86.00" cy="243.00" r="0.75"/></g>
<g fill="#ff3fa0"><circle cx="87.40" cy="240.36" r="0.7"/><circle cx="89.11" cy="239.71" r="0.7"/><circle cx="82.40" cy="239.18" r="0.7"/><circle cx="74.81" cy="240.23" r="0.7"/><circle cx="86.90" cy="241.12" r="0.7"/><circle cx="84.74" cy="240.63" r="0.7"/><circle cx="80.99" cy="240.66" r="0.7"/><circle cx="82.09" cy="241.57" r="0.7"/><circle cx="81.05" cy="240.85" r="0.7"/><circle cx="84.22" cy="240.42" r="0.7"/><circle cx="83.82" cy="240.20" r="0.7"/><circle cx="77.12" cy="241.62" r="0.7"/></g>
<path d="M104.90,254.70 C114.20,254.44 114.98,252.10 120.40,252.10 C125.83,252.10 126.60,254.44 135.90,254.70 C126.60,254.96 125.83,257.30 120.40,257.30 C114.98,257.30 114.20,254.96 104.90,254.70 Z" fill="url(#g2)" stroke="#ab6cf0" stroke-width="0.75"/>
<path d="M106.14,254.70 C113.98,254.49 113.98,253.27 120.40,253.27 C126.82,253.27 126.82,254.49 134.66,254.70" fill="none" stroke="#ab6cf0" stroke-width="0.4" opacity="0.6"/>
<line x1="120.40" y1="249.00" x2="120.40" y2="260.00" stroke="#ab6cf0" stroke-width="0.5" />
<line x1="118.60" y1="249.00" x2="122.20" y2="249.00" stroke="#ab6cf0" stroke-width="0.7" />
<line x1="118.60" y1="260.00" x2="122.20" y2="260.00" stroke="#ab6cf0" stroke-width="0.7" />
<g fill="#ab6cf0"><circle cx="108.00" cy="251.00" r="0.75"/><circle cx="112.00" cy="250.00" r="0.75"/><circle cx="116.00" cy="249.50" r="0.75"/><circle cx="120.40" cy="249.00" r="0.75"/><circle cx="125.00" cy="249.50" r="0.75"/><circle cx="129.00" cy="250.50" r="0.75"/><circle cx="133.00" cy="252.00" r="0.75"/><circle cx="110.00" cy="258.50" r="0.75"/><circle cx="115.00" cy="259.50" r="0.75"/><circle cx="121.00" cy="260.00" r="0.75"/><circle cx="126.00" cy="259.50" r="0.75"/><circle cx="131.00" cy="258.00" r="0.75"/></g>
<g fill="#ab6cf0"><circle cx="121.91" cy="256.10" r="0.7"/><circle cx="121.22" cy="254.42" r="0.7"/><circle cx="127.83" cy="253.75" r="0.7"/><circle cx="120.21" cy="254.35" r="0.7"/><circle cx="112.49" cy="252.82" r="0.7"/><circle cx="120.34" cy="253.72" r="0.7"/><circle cx="123.52" cy="255.31" r="0.7"/><circle cx="127.65" cy="254.57" r="0.7"/><circle cx="131.66" cy="252.58" r="0.7"/><circle cx="112.27" cy="251.93" r="0.7"/><circle cx="116.97" cy="256.69" r="0.7"/><circle cx="119.45" cy="256.79" r="0.7"/></g>
<path d="M142.90,246.00 C152.20,245.85 152.97,244.50 158.40,244.50 C163.83,244.50 164.60,245.85 173.90,246.00 C164.60,246.15 163.83,247.50 158.40,247.50 C152.97,247.50 152.20,246.15 142.90,246.00 Z" fill="url(#g3)" stroke="#42b4e6" stroke-width="0.75"/>
<path d="M144.14,246.00 C151.98,245.88 151.98,245.18 158.40,245.18 C164.82,245.18 164.82,245.88 172.66,246.00" fill="none" stroke="#42b4e6" stroke-width="0.4" opacity="0.6"/>
<line x1="158.40" y1="243.50" x2="158.40" y2="248.50" stroke="#42b4e6" stroke-width="0.5" />
<line x1="156.60" y1="243.50" x2="160.20" y2="243.50" stroke="#42b4e6" stroke-width="0.7" />
<line x1="156.60" y1="248.50" x2="160.20" y2="248.50" stroke="#42b4e6" stroke-width="0.7" />
<g fill="#42b4e6"><circle cx="145.00" cy="245.00" r="0.75"/><circle cx="149.00" cy="244.50" r="0.75"/><circle cx="153.00" cy="243.50" r="0.75"/><circle cx="157.00" cy="243.00" r="0.75"/><circle cx="161.00" cy="243.50" r="0.75"/><circle cx="165.00" cy="244.50" r="0.75"/><circle cx="169.00" cy="245.00" r="0.75"/><circle cx="173.00" cy="245.50" r="0.75"/><circle cx="157.00" cy="248.50" r="0.75"/><circle cx="160.00" cy="249.00" r="0.75"/></g>
<g fill="#42b4e6"><circle cx="156.56" cy="245.16" r="0.7"/><circle cx="153.37" cy="246.37" r="0.7"/><circle cx="159.15" cy="245.58" r="0.7"/><circle cx="154.44" cy="246.56" r="0.7"/><circle cx="159.35" cy="245.19" r="0.7"/><circle cx="171.40" cy="246.80" r="0.7"/><circle cx="161.04" cy="243.97" r="0.7"/><circle cx="163.02" cy="245.20" r="0.7"/><circle cx="153.63" cy="244.79" r="0.7"/><circle cx="152.96" cy="246.16" r="0.7"/><circle cx="163.14" cy="244.65" r="0.7"/><circle cx="152.64" cy="246.90" r="0.7"/></g>
<path d="M29.10,307.40 C38.40,307.28 39.18,306.20 44.60,306.20 C50.02,306.20 50.80,307.28 60.10,307.40 C50.80,307.72 50.02,310.60 44.60,310.60 C39.18,310.60 38.40,307.72 29.10,307.40 Z" fill="url(#g0)" stroke="#222" stroke-width="0.75"/>
<path d="M30.34,307.40 C38.18,307.30 38.18,306.74 44.60,306.74 C51.02,306.74 51.02,307.30 58.86,307.40" fill="none" stroke="#222" stroke-width="0.4" opacity="0.6"/>
<line x1="44.60" y1="306.00" x2="44.60" y2="316.80" stroke="#222" stroke-width="0.5" />
<line x1="42.80" y1="306.00" x2="46.40" y2="306.00" stroke="#222" stroke-width="0.7" />
<line x1="42.80" y1="316.80" x2="46.40" y2="316.80" stroke="#222" stroke-width="0.7" />
<g fill="#222"><circle cx="30.00" cy="306.20" r="1.0"/><circle cx="32.00" cy="306.20" r="1.0"/><circle cx="34.00" cy="306.20" r="1.0"/><circle cx="36.00" cy="306.00" r="1.0"/><circle cx="38.00" cy="306.20" r="1.0"/><circle cx="40.50" cy="306.20" r="1.0"/><circle cx="43.00" cy="306.00" r="1.0"/><circle cx="45.50" cy="306.30" r="1.0"/><circle cx="48.00" cy="306.20" r="1.0"/><circle cx="50.50" cy="306.00" r="1.0"/><circle cx="53.00" cy="306.20" r="1.0"/><circle cx="55.50" cy="306.30" r="1.0"/><circle cx="58.00" cy="306.00" r="1.0"/><circle cx="37.40" cy="310.70" r="1.0"/><circle cx="41.90" cy="311.90" r="1.0"/><circle cx="48.00" cy="313.00" r="1.0"/><circle cx="40.70" cy="315.80" r="1.0"/><circle cx="43.50" cy="316.20" r="1.0"/></g>
<g fill="#222"></g>
<path d="M66.90,284.40 C76.20,284.20 76.98,282.40 82.40,282.40 C87.83,282.40 88.60,284.20 97.90,284.40 C88.60,284.60 87.83,286.40 82.40,286.40 C76.98,286.40 76.20,284.60 66.90,284.40 Z" fill="url(#g1)" stroke="#ff3fa0" stroke-width="0.75"/>
<path d="M68.14,284.40 C75.98,284.23 75.98,283.30 82.40,283.30 C88.82,283.30 88.82,284.23 96.66,284.40" fill="none" stroke="#ff3fa0" stroke-width="0.4" opacity="0.6"/>
<line x1="82.40" y1="282.00" x2="82.40" y2="288.00" stroke="#ff3fa0" stroke-width="0.5" />
<line x1="80.60" y1="282.00" x2="84.20" y2="282.00" stroke="#ff3fa0" stroke-width="0.7" />
<line x1="80.60" y1="288.00" x2="84.20" y2="288.00" stroke="#ff3fa0" stroke-width="0.7" />
<g fill="#ff3fa0"><circle cx="68.00" cy="284.00" r="0.75"/><circle cx="72.00" cy="283.00" r="0.75"/><circle cx="76.00" cy="282.00" r="0.75"/><circle cx="81.00" cy="281.80" r="0.75"/><circle cx="86.00" cy="282.20" r="0.75"/><circle cx="91.00" cy="283.00" r="0.75"/><circle cx="96.00" cy="284.50" r="0.75"/><circle cx="69.00" cy="288.00" r="0.75"/><circle cx="82.00" cy="288.50" r="0.75"/><circle cx="96.00" cy="288.00" r="0.75"/></g>
<g fill="#ff3fa0"><circle cx="91.96" cy="285.17" r="0.7"/><circle cx="85.57" cy="284.96" r="0.7"/><circle cx="82.04" cy="284.87" r="0.7"/><circle cx="69.40" cy="282.61" r="0.7"/><circle cx="88.33" cy="282.10" r="0.7"/><circle cx="95.40" cy="284.75" r="0.7"/><circle cx="95.40" cy="285.55" r="0.7"/><circle cx="85.40" cy="283.99" r="0.7"/><circle cx="78.72" cy="283.01" r="0.7"/><circle cx="87.96" cy="284.86" r="0.7"/><circle cx="70.31" cy="285.94" r="0.7"/><circle cx="79.50" cy="284.47" r="0.7"/></g>
<path d="M104.90,297.90 C114.20,297.72 114.98,296.10 120.40,296.10 C125.83,296.10 126.60,297.72 135.90,297.90 C126.60,298.08 125.83,299.70 120.40,299.70 C114.98,299.70 114.20,298.08 104.90,297.90 Z" fill="url(#g2)" stroke="#ab6cf0" stroke-width="0.75"/>
<path d="M106.14,297.90 C113.98,297.75 113.98,296.91 120.40,296.91 C126.82,296.91 126.82,297.75 134.66,297.90" fill="none" stroke="#ab6cf0" stroke-width="0.4" opacity="0.6"/>
<line x1="120.40" y1="295.50" x2="120.40" y2="302.00" stroke="#ab6cf0" stroke-width="0.5" />
<line x1="118.60" y1="295.50" x2="122.20" y2="295.50" stroke="#ab6cf0" stroke-width="0.7" />
<line x1="118.60" y1="302.00" x2="122.20" y2="302.00" stroke="#ab6cf0" stroke-width="0.7" />
<g fill="#ab6cf0"><circle cx="108.00" cy="297.00" r="0.75"/><circle cx="112.00" cy="296.00" r="0.75"/><circle cx="116.00" cy="295.50" r="0.75"/><circle cx="120.00" cy="294.50" r="0.75"/><circle cx="124.00" cy="295.00" r="0.75"/><circle cx="128.00" cy="296.00" r="0.75"/><circle cx="132.00" cy="297.00" r="0.75"/><circle cx="118.00" cy="301.00" r="0.75"/><circle cx="121.00" cy="300.50" r="0.75"/><circle cx="120.00" cy="304.50" r="0.75"/></g>
<g fill="#ab6cf0"><circle cx="115.29" cy="298.82" r="0.7"/><circle cx="121.68" cy="298.35" r="0.7"/><circle cx="115.04" cy="297.04" r="0.7"/><circle cx="125.70" cy="295.94" r="0.7"/><circle cx="127.58" cy="296.83" r="0.7"/><circle cx="121.60" cy="297.29" r="0.7"/><circle cx="118.12" cy="298.88" r="0.7"/><circle cx="121.27" cy="297.64" r="0.7"/><circle cx="118.86" cy="296.12" r="0.7"/><circle cx="116.41" cy="299.15" r="0.7"/><circle cx="117.89" cy="299.08" r="0.7"/><circle cx="121.14" cy="298.03" r="0.7"/></g>
<path d="M142.90,291.80 C152.20,291.60 152.97,289.80 158.40,289.80 C163.83,289.80 164.60,291.60 173.90,291.80 C164.60,292.00 163.83,293.80 158.40,293.80 C152.97,293.80 152.20,292.00 142.90,291.80 Z" fill="url(#g3)" stroke="#42b4e6" stroke-width="0.75"/>
<path d="M144.14,291.80 C151.98,291.63 151.98,290.70 158.40,290.70 C164.82,290.70 164.82,291.63 172.66,291.80" fill="none" stroke="#42b4e6" stroke-width="0.4" opacity="0.6"/>
<line x1="158.40" y1="289.00" x2="158.40" y2="295.00" stroke="#42b4e6" stroke-width="0.5" />
<line x1="156.60" y1="289.00" x2="160.20" y2="289.00" stroke="#42b4e6" stroke-width="0.7" />
<line x1="156.60" y1="295.00" x2="160.20" y2="295.00" stroke="#42b4e6" stroke-width="0.7" />
<g fill="#42b4e6"><circle cx="145.00" cy="291.00" r="0.75"/><circle cx="149.00" cy="290.00" r="0.75"/><circle cx="153.00" cy="289.50" r="0.75"/><circle cx="157.00" cy="288.50" r="0.75"/><circle cx="161.00" cy="289.00" r="0.75"/><circle cx="165.00" cy="289.80" r="0.75"/><circle cx="169.00" cy="290.50" r="0.75"/><circle cx="173.00" cy="291.50" r="0.75"/><circle cx="150.00" cy="294.50" r="0.75"/><circle cx="155.00" cy="295.00" r="0.75"/><circle cx="165.00" cy="295.00" r="0.75"/><circle cx="158.70" cy="304.50" r="0.75"/></g>
<g fill="#42b4e6"><circle cx="164.56" cy="288.68" r="0.7"/><circle cx="146.62" cy="291.72" r="0.7"/><circle cx="154.05" cy="291.17" r="0.7"/><circle cx="163.95" cy="291.16" r="0.7"/><circle cx="158.47" cy="291.85" r="0.7"/><circle cx="153.01" cy="291.04" r="0.7"/><circle cx="158.41" cy="291.93" r="0.7"/><circle cx="157.03" cy="292.39" r="0.7"/><circle cx="154.25" cy="290.78" r="0.7"/><circle cx="153.01" cy="291.29" r="0.7"/><circle cx="160.31" cy="292.20" r="0.7"/><circle cx="155.61" cy="292.34" r="0.7"/></g>
<rect x="25.5" y="151.7" width="152.5" height="41.80000000000001" fill="none" stroke="#3a3a48" stroke-width="1.1"/>
<rect x="25.5" y="193.5" width="152.5" height="41.80000000000001" fill="none" stroke="#3a3a48" stroke-width="1.1"/>
<rect x="25.5" y="235.3" width="152.5" height="41.5" fill="none" stroke="#3a3a48" stroke-width="1.1"/>
<rect x="25.5" y="276.8" width="152.5" height="41.5" fill="none" stroke="#3a3a48" stroke-width="1.1"/>
<line x1="23.50" y1="151.70" x2="25.50" y2="151.70" stroke="#2a2a2a" stroke-width="0.7" />
<text x="22.80" y="153.50" font-size="5.2" text-anchor="end" font-weight="bold" fill="#333" stroke="#333" stroke-width="0.22" >1.2</text>
<line x1="23.50" y1="165.60" x2="25.50" y2="165.60" stroke="#2a2a2a" stroke-width="0.7" />
<text x="22.80" y="167.40" font-size="5.2" text-anchor="end" font-weight="bold" fill="#333" stroke="#333" stroke-width="0.22" >1.1</text>
<line x1="23.50" y1="179.40" x2="25.50" y2="179.40" stroke="#2a2a2a" stroke-width="0.7" />
<text x="22.80" y="181.20" font-size="5.2" text-anchor="end" font-weight="bold" fill="#333" stroke="#333" stroke-width="0.22" >1.0</text>
<line x1="23.50" y1="193.30" x2="25.50" y2="193.30" stroke="#2a2a2a" stroke-width="0.7" />
<text x="22.80" y="195.10" font-size="5.2" text-anchor="end" font-weight="bold" fill="#333" stroke="#333" stroke-width="0.22" >0.9</text>
<line x1="23.50" y1="202.50" x2="25.50" y2="202.50" stroke="#2a2a2a" stroke-width="0.7" />
<text x="22.80" y="204.30" font-size="5.2" text-anchor="end" font-weight="bold" fill="#333" stroke="#333" stroke-width="0.22" >60</text>
<line x1="23.50" y1="215.40" x2="25.50" y2="215.40" stroke="#2a2a2a" stroke-width="0.7" />
<text x="22.80" y="217.20" font-size="5.2" text-anchor="end" font-weight="bold" fill="#333" stroke="#333" stroke-width="0.22" >50</text>
<line x1="23.50" y1="228.20" x2="25.50" y2="228.20" stroke="#2a2a2a" stroke-width="0.7" />
<text x="22.80" y="230.00" font-size="5.2" text-anchor="end" font-weight="bold" fill="#333" stroke="#333" stroke-width="0.22" >40</text>
<line x1="23.50" y1="240.40" x2="25.50" y2="240.40" stroke="#2a2a2a" stroke-width="0.7" />
<text x="22.80" y="242.20" font-size="5.2" text-anchor="end" font-weight="bold" fill="#333" stroke="#333" stroke-width="0.22" >3.0</text>
<line x1="23.50" y1="251.10" x2="25.50" y2="251.10" stroke="#2a2a2a" stroke-width="0.7" />
<text x="22.80" y="252.90" font-size="5.2" text-anchor="end" font-weight="bold" fill="#333" stroke="#333" stroke-width="0.22" >2.5</text>
<line x1="23.50" y1="261.90" x2="25.50" y2="261.90" stroke="#2a2a2a" stroke-width="0.7" />
<text x="22.80" y="263.70" font-size="5.2" text-anchor="end" font-weight="bold" fill="#333" stroke="#333" stroke-width="0.22" >2.0</text>
<line x1="23.50" y1="272.70" x2="25.50" y2="272.70" stroke="#2a2a2a" stroke-width="0.7" />
<text x="22.80" y="274.50" font-size="5.2" text-anchor="end" font-weight="bold" fill="#333" stroke="#333" stroke-width="0.22" >1.5</text>
<line x1="23.50" y1="282.50" x2="25.50" y2="282.50" stroke="#2a2a2a" stroke-width="0.7" />
<text x="22.80" y="284.30" font-size="5.2" text-anchor="end" font-weight="bold" fill="#333" stroke="#333" stroke-width="0.22" >2.0</text>
<line x1="23.50" y1="297.40" x2="25.50" y2="297.40" stroke="#2a2a2a" stroke-width="0.7" />
<text x="22.80" y="299.20" font-size="5.2" text-anchor="end" font-weight="bold" fill="#333" stroke="#333" stroke-width="0.22" >1.5</text>
<line x1="23.50" y1="311.70" x2="25.50" y2="311.70" stroke="#2a2a2a" stroke-width="0.7" />
<text x="22.80" y="313.50" font-size="5.2" text-anchor="end" font-weight="bold" fill="#333" stroke="#333" stroke-width="0.22" >1.0</text>
<line x1="44.60" y1="193.50" x2="44.60" y2="195.00" stroke="#2a2a2a" stroke-width="0.7" />
<line x1="82.40" y1="193.50" x2="82.40" y2="195.00" stroke="#2a2a2a" stroke-width="0.7" />
<line x1="120.40" y1="193.50" x2="120.40" y2="195.00" stroke="#2a2a2a" stroke-width="0.7" />
<line x1="158.40" y1="193.50" x2="158.40" y2="195.00" stroke="#2a2a2a" stroke-width="0.7" />
<line x1="44.60" y1="235.30" x2="44.60" y2="236.80" stroke="#2a2a2a" stroke-width="0.7" />
<line x1="82.40" y1="235.30" x2="82.40" y2="236.80" stroke="#2a2a2a" stroke-width="0.7" />
<line x1="120.40" y1="235.30" x2="120.40" y2="236.80" stroke="#2a2a2a" stroke-width="0.7" />
<line x1="158.40" y1="235.30" x2="158.40" y2="236.80" stroke="#2a2a2a" stroke-width="0.7" />
<line x1="44.60" y1="276.80" x2="44.60" y2="278.30" stroke="#2a2a2a" stroke-width="0.7" />
<line x1="82.40" y1="276.80" x2="82.40" y2="278.30" stroke="#2a2a2a" stroke-width="0.7" />
<line x1="120.40" y1="276.80" x2="120.40" y2="278.30" stroke="#2a2a2a" stroke-width="0.7" />
<line x1="158.40" y1="276.80" x2="158.40" y2="278.30" stroke="#2a2a2a" stroke-width="0.7" />
<line x1="44.60" y1="318.30" x2="44.60" y2="319.80" stroke="#2a2a2a" stroke-width="0.7" />
<line x1="82.40" y1="318.30" x2="82.40" y2="319.80" stroke="#2a2a2a" stroke-width="0.7" />
<line x1="120.40" y1="318.30" x2="120.40" y2="319.80" stroke="#2a2a2a" stroke-width="0.7" />
<line x1="158.40" y1="318.30" x2="158.40" y2="319.80" stroke="#2a2a2a" stroke-width="0.7" />
<text x="11.20" y="174.00" font-size="5.8" text-anchor="middle" font-weight="bold" fill="#111" stroke="#111" stroke-width="0.22" transform="rotate(-90 11.20 174.00)" >V<tspan font-size="3.6" dy="1">OC</tspan><tspan dy="-1"> (V)</tspan></text>
<text x="11.20" y="216.00" font-size="5.8" text-anchor="middle" font-weight="bold" fill="#111" stroke="#111" stroke-width="0.22" transform="rotate(-90 11.20 216.00)" >FF (%)</text>
<text x="12.00" y="255.00" font-size="5.8" text-anchor="middle" font-weight="bold" fill="#111" stroke="#111" stroke-width="0.22" transform="rotate(-90 12.00 255.00)" >J<tspan font-size="3.6" dy="1">SC</tspan><tspan dy="-1"> (mA cm</tspan><tspan font-size="3.6" dy="-2">-2</tspan><tspan dy="2">)</tspan></text>
<text x="11.20" y="304.00" font-size="5.8" text-anchor="middle" font-weight="bold" fill="#111" stroke="#111" stroke-width="0.22" transform="rotate(-90 11.20 304.00)" >PCE (%)</text>
<text x="41.40" y="327.20" font-size="7.9" text-anchor="middle" font-weight="bold" fill="#111" stroke="#111" stroke-width="0.22" >Reference</text>
<text x="84.00" y="327.20" font-size="7.9" text-anchor="middle" font-weight="bold" fill="#ff3fa0" stroke="#ff3fa0" stroke-width="0.22" >MACl</text>
<text x="121.20" y="327.20" font-size="7.9" text-anchor="middle" font-weight="bold" fill="#ab6cf0" stroke="#ab6cf0" stroke-width="0.22" >MABr</text>
<text x="162.80" y="327.20" font-size="7.9" text-anchor="middle" font-weight="bold" fill="#42b4e6" stroke="#42b4e6" stroke-width="0.22" >MAI</text>
<text x="0" y="0" font-size="11.6" text-anchor="start" font-weight="bold" fill="#111" stroke="#111" stroke-width="0.22" transform="translate(1.60 147.20) scale(1.1 1)" >(c)</text>
<line x1="223.70" y1="165.70" x2="223.70" y2="232.00" stroke="#cfcfcf" stroke-width="0.6" />
<line x1="224.30" y1="244.00" x2="224.30" y2="311.00" stroke="#ff8cc6" stroke-width="0.6" />
<path d="M224.00,165.72 L225.52,165.62 L227.04,165.60 L228.56,165.31 L230.08,165.76 L231.60,165.61 L233.12,165.36 L234.64,165.41 L236.16,165.28 L237.68,165.12 L239.20,165.26 L240.72,165.08 L242.24,165.06 L243.76,165.01 L245.28,165.19 L246.80,165.16 L248.32,165.30 L249.84,165.23 L251.36,165.39 L252.88,165.34 L254.40,165.62 L255.92,165.61 L257.44,165.68 L258.96,165.73 L260.48,165.58 L262.00,165.79 L263.52,165.93 L265.04,165.45 L266.56,165.38 L268.08,165.35 L269.60,165.56 L271.12,165.40 L272.64,165.44 L274.16,165.32 L275.68,165.21 L277.20,165.17 L278.72,165.09 L280.25,165.20 L281.77,164.97 L283.29,165.09 L284.81,165.21 L286.33,165.46 L287.85,165.22 L289.37,165.26 L290.89,165.40 L292.41,165.65 L293.93,165.57 L295.45,165.81 L296.97,165.46 L298.49,165.83 L300.01,165.82 L301.53,165.50 L303.05,165.65 L304.57,165.73 L306.09,165.53 L307.61,165.56 L309.13,165.65 L310.65,165.33 L312.17,165.19 L313.69,165.08" fill="none" stroke="#8c8c8c" stroke-width="1.9" stroke-linejoin="round" stroke-linecap="round" />
<path d="M224.00,185.70 L225.52,185.54 L227.04,185.61 L228.56,185.56 L230.08,185.55 L231.60,185.54 L233.12,185.47 L234.64,185.52 L236.16,185.49 L237.68,185.63 L239.20,185.54 L240.72,185.53 L242.24,185.55 L243.76,185.55 L245.28,185.56 L246.80,185.60 L248.32,185.65 L249.84,185.64 L251.36,185.69 L252.88,185.67 L254.40,185.68 L255.92,185.73 L257.44,185.69 L258.96,185.65 L260.48,185.65 L262.00,185.65 L263.52,185.68 L265.04,185.59 L266.56,185.57 L268.08,185.59 L269.60,185.51 L271.12,185.52 L272.64,185.55 L274.16,185.54 L275.68,185.53 L277.20,185.55 L278.72,185.45 L280.25,185.59 L281.77,185.55 L283.29,185.54 L284.81,185.62 L286.33,185.66 L287.85,185.64 L289.37,185.63 L290.89,185.68 L292.41,185.68 L293.93,185.72 L295.45,185.70 L296.97,185.67 L298.49,185.68 L300.01,185.63 L301.53,185.58 L303.05,185.61 L304.57,185.59 L306.09,185.55 L307.61,185.51 L309.13,185.54 L310.65,185.44 L312.17,185.54 L313.69,185.54" fill="none" stroke="#111" stroke-width="2.7" stroke-linejoin="round" stroke-linecap="round" />
<path d="M224.00,243.94 L225.52,243.94 L227.04,243.99 L228.56,243.95 L230.08,243.87 L231.60,243.92 L233.12,243.91 L234.64,243.94 L236.16,243.90 L237.68,243.98 L239.20,244.00 L240.72,244.06 L242.24,244.04 L243.76,244.06 L245.28,244.01 L246.80,244.15 L248.32,244.02 L249.84,244.11 L251.36,244.06 L252.88,244.04 L254.40,244.03 L255.92,244.01 L257.44,244.03 L258.96,243.99 L260.48,244.02 L262.00,243.90 L263.52,243.94 L265.04,243.90 L266.56,243.95 L268.08,243.85 L269.60,243.91 L271.12,243.94 L272.64,243.89 L274.16,243.99 L275.68,243.98 L277.20,244.03 L278.72,244.05 L280.25,244.00 L281.77,244.03 L283.29,244.06 L284.81,244.10 L286.33,244.11 L287.85,244.06 L289.37,244.05 L290.89,244.04 L292.41,244.03 L293.93,244.02 L295.45,244.01 L296.97,244.06 L298.49,243.96 L300.01,243.95 L301.53,243.95 L303.05,243.90 L304.57,243.91 L306.09,243.92 L307.61,243.95 L309.13,243.89 L310.65,243.99 L312.17,243.95 L313.69,243.98" fill="none" stroke="#ff3fa0" stroke-width="2.3" stroke-linejoin="round" stroke-linecap="round" />
<path d="M224.00,258.29 L225.52,258.28 L227.04,258.32 L228.56,258.35 L230.08,258.39 L231.60,258.37 L233.12,258.37 L234.64,258.38 L236.16,258.45 L237.68,258.50 L239.20,258.47 L240.72,258.43 L242.24,258.45 L243.76,258.53 L245.28,258.48 L246.80,258.41 L248.32,258.45 L249.84,258.40 L251.36,258.40 L252.88,258.38 L254.40,258.36 L255.92,258.38 L257.44,258.34 L258.96,258.31 L260.48,258.34 L262.00,258.35 L263.52,258.27 L265.04,258.32 L266.56,258.31 L268.08,258.35 L269.60,258.33 L271.12,258.39 L272.64,258.41 L274.16,258.42 L275.68,258.42 L277.20,258.45 L278.72,258.44 L280.25,258.44 L281.77,258.49 L283.29,258.44 L284.81,258.50 L286.33,258.47 L287.85,258.37 L289.37,258.42 L290.89,258.36 L292.41,258.38 L293.93,258.36 L295.45,258.28 L296.97,258.32 L298.49,258.31 L300.01,258.35 L301.53,258.29 L303.05,258.35 L304.57,258.31 L306.09,258.35 L307.61,258.35 L309.13,258.44 L310.65,258.44 L312.17,258.51 L313.69,258.47" fill="none" stroke="#111" stroke-width="2.6" stroke-linejoin="round" stroke-linecap="round" />
<rect x="212.3" y="152.8" width="112.19999999999999" height="158.5" fill="none" stroke="#2a2a2a" stroke-width="1.1"/>
<line x1="212.30" y1="232.00" x2="324.50" y2="232.00" stroke="#2a2a2a" stroke-width="1.1" />
<line x1="324.50" y1="152.80" x2="324.50" y2="232.00" stroke="#8c8c8c" stroke-width="1.1" />
<line x1="324.50" y1="232.00" x2="324.50" y2="311.30" stroke="#ff3fa0" stroke-width="1.1" />
<line x1="209.90" y1="232.00" x2="212.30" y2="232.00" stroke="#2a2a2a" stroke-width="0.8" />
<line x1="211.00" y1="225.40" x2="212.30" y2="225.40" stroke="#2a2a2a" stroke-width="0.8" />
<line x1="211.00" y1="218.80" x2="212.30" y2="218.80" stroke="#2a2a2a" stroke-width="0.8" />
<line x1="209.90" y1="212.20" x2="212.30" y2="212.20" stroke="#2a2a2a" stroke-width="0.8" />
<line x1="211.00" y1="205.60" x2="212.30" y2="205.60" stroke="#2a2a2a" stroke-width="0.8" />
<line x1="211.00" y1="199.00" x2="212.30" y2="199.00" stroke="#2a2a2a" stroke-width="0.8" />
<line x1="209.90" y1="192.40" x2="212.30" y2="192.40" stroke="#2a2a2a" stroke-width="0.8" />
<line x1="211.00" y1="185.80" x2="212.30" y2="185.80" stroke="#2a2a2a" stroke-width="0.8" />
<line x1="211.00" y1="179.20" x2="212.30" y2="179.20" stroke="#2a2a2a" stroke-width="0.8" />
<line x1="209.90" y1="172.60" x2="212.30" y2="172.60" stroke="#2a2a2a" stroke-width="0.8" />
<line x1="211.00" y1="166.00" x2="212.30" y2="166.00" stroke="#2a2a2a" stroke-width="0.8" />
<line x1="211.00" y1="159.40" x2="212.30" y2="159.40" stroke="#2a2a2a" stroke-width="0.8" />
<line x1="209.90" y1="152.80" x2="212.30" y2="152.80" stroke="#2a2a2a" stroke-width="0.8" />
<text x="207.80" y="155.40" font-size="7.8" text-anchor="end" font-weight="bold" fill="#111" stroke="#111" stroke-width="0.22" >2.0</text>
<text x="207.80" y="175.20" font-size="7.8" text-anchor="end" font-weight="bold" fill="#111" stroke="#111" stroke-width="0.22" >1.5</text>
<text x="207.80" y="195.00" font-size="7.8" text-anchor="end" font-weight="bold" fill="#111" stroke="#111" stroke-width="0.22" >1.0</text>
<text x="207.80" y="214.80" font-size="7.8" text-anchor="end" font-weight="bold" fill="#111" stroke="#111" stroke-width="0.22" >0.5</text>
<text x="207.80" y="234.60" font-size="7.8" text-anchor="end" font-weight="bold" fill="#111" stroke="#111" stroke-width="0.22" >0.0</text>
<line x1="209.90" y1="311.00" x2="212.30" y2="311.00" stroke="#2a2a2a" stroke-width="0.8" />
<line x1="211.00" y1="304.17" x2="212.30" y2="304.17" stroke="#2a2a2a" stroke-width="0.8" />
<line x1="211.00" y1="297.33" x2="212.30" y2="297.33" stroke="#2a2a2a" stroke-width="0.8" />
<line x1="209.90" y1="290.50" x2="212.30" y2="290.50" stroke="#2a2a2a" stroke-width="0.8" />
<line x1="211.00" y1="283.67" x2="212.30" y2="283.67" stroke="#2a2a2a" stroke-width="0.8" />
<line x1="211.00" y1="276.83" x2="212.30" y2="276.83" stroke="#2a2a2a" stroke-width="0.8" />
<line x1="209.90" y1="270.00" x2="212.30" y2="270.00" stroke="#2a2a2a" stroke-width="0.8" />
<line x1="211.00" y1="263.17" x2="212.30" y2="263.17" stroke="#2a2a2a" stroke-width="0.8" />
<line x1="211.00" y1="256.33" x2="212.30" y2="256.33" stroke="#2a2a2a" stroke-width="0.8" />
<line x1="209.90" y1="249.50" x2="212.30" y2="249.50" stroke="#2a2a2a" stroke-width="0.8" />
<line x1="211.00" y1="242.67" x2="212.30" y2="242.67" stroke="#2a2a2a" stroke-width="0.8" />
<line x1="211.00" y1="235.83" x2="212.30" y2="235.83" stroke="#2a2a2a" stroke-width="0.8" />
<text x="207.80" y="252.10" font-size="7.8" text-anchor="end" font-weight="bold" fill="#111" stroke="#111" stroke-width="0.22" >2.4</text>
<text x="207.80" y="272.60" font-size="7.8" text-anchor="end" font-weight="bold" fill="#111" stroke="#111" stroke-width="0.22" >1.6</text>
<text x="207.80" y="293.10" font-size="7.8" text-anchor="end" font-weight="bold" fill="#111" stroke="#111" stroke-width="0.22" >0.8</text>
<text x="207.80" y="313.60" font-size="7.8" text-anchor="end" font-weight="bold" fill="#111" stroke="#111" stroke-width="0.22" >0.0</text>
<line x1="324.50" y1="232.00" x2="326.90" y2="232.00" stroke="#8c8c8c" stroke-width="0.8" />
<line x1="324.50" y1="222.10" x2="325.80" y2="222.10" stroke="#8c8c8c" stroke-width="0.8" />
<line x1="324.50" y1="212.20" x2="326.90" y2="212.20" stroke="#8c8c8c" stroke-width="0.8" />
<line x1="324.50" y1="202.30" x2="325.80" y2="202.30" stroke="#8c8c8c" stroke-width="0.8" />
<line x1="324.50" y1="192.40" x2="326.90" y2="192.40" stroke="#8c8c8c" stroke-width="0.8" />
<line x1="324.50" y1="182.50" x2="325.80" y2="182.50" stroke="#8c8c8c" stroke-width="0.8" />
<line x1="324.50" y1="172.60" x2="326.90" y2="172.60" stroke="#8c8c8c" stroke-width="0.8" />
<line x1="324.50" y1="162.70" x2="325.80" y2="162.70" stroke="#8c8c8c" stroke-width="0.8" />
<line x1="324.50" y1="152.80" x2="326.90" y2="152.80" stroke="#8c8c8c" stroke-width="0.8" />
<text x="327.30" y="155.40" font-size="8.0" text-anchor="start" font-weight="normal" fill="#6e6e6e" stroke="#6e6e6e" stroke-width="0.22" >1.6</text>
<text x="327.30" y="175.20" font-size="8.0" text-anchor="start" font-weight="normal" fill="#6e6e6e" stroke="#6e6e6e" stroke-width="0.22" >1.2</text>
<text x="327.30" y="195.00" font-size="8.0" text-anchor="start" font-weight="normal" fill="#6e6e6e" stroke="#6e6e6e" stroke-width="0.22" >0.8</text>
<text x="327.30" y="214.80" font-size="8.0" text-anchor="start" font-weight="normal" fill="#6e6e6e" stroke="#6e6e6e" stroke-width="0.22" >0.4</text>
<text x="327.30" y="234.60" font-size="8.0" text-anchor="start" font-weight="normal" fill="#6e6e6e" stroke="#6e6e6e" stroke-width="0.22" >0.0</text>
<line x1="324.50" y1="311.30" x2="326.90" y2="311.30" stroke="#ff3fa0" stroke-width="0.8" />
<line x1="324.50" y1="302.85" x2="325.80" y2="302.85" stroke="#ff3fa0" stroke-width="0.8" />
<line x1="324.50" y1="294.40" x2="326.90" y2="294.40" stroke="#ff3fa0" stroke-width="0.8" />
<line x1="324.50" y1="285.95" x2="325.80" y2="285.95" stroke="#ff3fa0" stroke-width="0.8" />
<line x1="324.50" y1="277.50" x2="326.90" y2="277.50" stroke="#ff3fa0" stroke-width="0.8" />
<line x1="324.50" y1="269.05" x2="325.80" y2="269.05" stroke="#ff3fa0" stroke-width="0.8" />
<line x1="324.50" y1="260.60" x2="326.90" y2="260.60" stroke="#ff3fa0" stroke-width="0.8" />
<line x1="324.50" y1="252.15" x2="325.80" y2="252.15" stroke="#ff3fa0" stroke-width="0.8" />
<line x1="324.50" y1="243.70" x2="326.90" y2="243.70" stroke="#ff3fa0" stroke-width="0.8" />
<line x1="324.50" y1="235.25" x2="325.80" y2="235.25" stroke="#ff3fa0" stroke-width="0.8" />
<text x="327.30" y="246.30" font-size="7.8" text-anchor="start" font-weight="bold" fill="#ff3fa0" stroke="#ff3fa0" stroke-width="0.22" >2.4</text>
<text x="327.30" y="263.20" font-size="7.8" text-anchor="start" font-weight="bold" fill="#ff3fa0" stroke="#ff3fa0" stroke-width="0.22" >1.8</text>
<text x="327.30" y="280.10" font-size="7.8" text-anchor="start" font-weight="bold" fill="#ff3fa0" stroke="#ff3fa0" stroke-width="0.22" >1.2</text>
<text x="327.30" y="297.00" font-size="7.8" text-anchor="start" font-weight="bold" fill="#ff3fa0" stroke="#ff3fa0" stroke-width="0.22" >0.6</text>
<text x="327.30" y="313.90" font-size="7.8" text-anchor="start" font-weight="bold" fill="#ff3fa0" stroke="#ff3fa0" stroke-width="0.22" >0.0</text>
<line x1="212.90" y1="232.00" x2="212.90" y2="233.30" stroke="#2a2a2a" stroke-width="0.8" />
<line x1="212.90" y1="311.30" x2="212.90" y2="312.60" stroke="#2a2a2a" stroke-width="0.8" />
<line x1="224.00" y1="232.00" x2="224.00" y2="234.40" stroke="#2a2a2a" stroke-width="0.8" />
<line x1="224.00" y1="311.30" x2="224.00" y2="313.70" stroke="#2a2a2a" stroke-width="0.8" />
<line x1="235.10" y1="232.00" x2="235.10" y2="233.30" stroke="#2a2a2a" stroke-width="0.8" />
<line x1="235.10" y1="311.30" x2="235.10" y2="312.60" stroke="#2a2a2a" stroke-width="0.8" />
<line x1="246.20" y1="232.00" x2="246.20" y2="234.40" stroke="#2a2a2a" stroke-width="0.8" />
<line x1="246.20" y1="311.30" x2="246.20" y2="313.70" stroke="#2a2a2a" stroke-width="0.8" />
<line x1="257.30" y1="232.00" x2="257.30" y2="233.30" stroke="#2a2a2a" stroke-width="0.8" />
<line x1="257.30" y1="311.30" x2="257.30" y2="312.60" stroke="#2a2a2a" stroke-width="0.8" />
<line x1="268.40" y1="232.00" x2="268.40" y2="234.40" stroke="#2a2a2a" stroke-width="0.8" />
<line x1="268.40" y1="311.30" x2="268.40" y2="313.70" stroke="#2a2a2a" stroke-width="0.8" />
<line x1="279.50" y1="232.00" x2="279.50" y2="233.30" stroke="#2a2a2a" stroke-width="0.8" />
<line x1="279.50" y1="311.30" x2="279.50" y2="312.60" stroke="#2a2a2a" stroke-width="0.8" />
<line x1="290.60" y1="232.00" x2="290.60" y2="234.40" stroke="#2a2a2a" stroke-width="0.8" />
<line x1="290.60" y1="311.30" x2="290.60" y2="313.70" stroke="#2a2a2a" stroke-width="0.8" />
<line x1="301.70" y1="232.00" x2="301.70" y2="233.30" stroke="#2a2a2a" stroke-width="0.8" />
<line x1="301.70" y1="311.30" x2="301.70" y2="312.60" stroke="#2a2a2a" stroke-width="0.8" />
<line x1="312.80" y1="232.00" x2="312.80" y2="234.40" stroke="#2a2a2a" stroke-width="0.8" />
<line x1="312.80" y1="311.30" x2="312.80" y2="313.70" stroke="#2a2a2a" stroke-width="0.8" />
<line x1="323.90" y1="232.00" x2="323.90" y2="233.30" stroke="#2a2a2a" stroke-width="0.8" />
<line x1="323.90" y1="311.30" x2="323.90" y2="312.60" stroke="#2a2a2a" stroke-width="0.8" />
<text x="224.00" y="322.00" font-size="7.6" text-anchor="middle" font-weight="bold" fill="#111" stroke="#111" stroke-width="0.22" >0</text>
<text x="246.20" y="322.00" font-size="7.6" text-anchor="middle" font-weight="bold" fill="#111" stroke="#111" stroke-width="0.22" >50</text>
<text x="268.40" y="322.00" font-size="7.6" text-anchor="middle" font-weight="bold" fill="#111" stroke="#111" stroke-width="0.22" >100</text>
<text x="290.60" y="322.00" font-size="7.6" text-anchor="middle" font-weight="bold" fill="#111" stroke="#111" stroke-width="0.22" >150</text>
<text x="312.80" y="322.00" font-size="7.6" text-anchor="middle" font-weight="bold" fill="#111" stroke="#111" stroke-width="0.22" >200</text>
<text x="268.80" y="332.60" font-size="12.6" text-anchor="middle" font-weight="bold" fill="#111" stroke="#111" stroke-width="0.22" >Time (s)</text>
<text x="194.40" y="235.20" font-size="11.0" text-anchor="middle" font-weight="bold" fill="#111" stroke="#111" stroke-width="0.22" transform="rotate(-90 194.40 235.20)" >PCE (%)</text>
<text x="353.00" y="229.60" font-size="10.6" text-anchor="middle" font-weight="bold" fill="#111" stroke="#111" stroke-width="0.22" transform="rotate(-90 353.00 229.60)" >Current density (mA cm<tspan font-size="6.7" dy="-4">-2</tspan><tspan dy="4">)</tspan></text>
<text x="0" y="0" font-size="11.8" text-anchor="start" font-weight="bold" fill="#111" stroke="#111" stroke-width="0.22" transform="translate(181.60 147.40) scale(1.1 1)" >(d)</text>
<text x="244.60" y="177.00" font-size="7.5" text-anchor="start" font-weight="normal" fill="#666" stroke="#666" stroke-width="0.22" >~1.34mA cm<tspan font-size="4.6" dy="-2.6">-2</tspan><tspan dy="2.6" font-size="7">&#8594;</tspan></text>
<line x1="239.80" y1="193.60" x2="247.80" y2="193.60" stroke="#111" stroke-width="0.8" />
<path d="M238.8,193.6 L241.8,192.4 L241.8,194.8 Z" fill="#111"/>
<text x="248.60" y="196.00" font-size="7.0" text-anchor="start" font-weight="bold" fill="#111" stroke="#111" stroke-width="0.22" >~1.16%@0.87V</text>
<text x="249.40" y="251.70" font-size="7.1" text-anchor="start" font-weight="bold" fill="#ff3fa0" stroke="#ff3fa0" stroke-width="0.22" >~2.38mA cm<tspan font-size="4.4" dy="-2.5">-2</tspan><tspan dy="2.5" font-size="7">&#8594;</tspan></text>
<line x1="242.50" y1="265.50" x2="250.50" y2="265.50" stroke="#111" stroke-width="0.8" />
<path d="M241.5,265.5 L244.5,264.3 L244.5,266.7 Z" fill="#111"/>
<text x="251.00" y="267.90" font-size="7.0" text-anchor="start" font-weight="bold" fill="#111" stroke="#111" stroke-width="0.22" >~2.03%@0.87V</text>
<text x="0" y="0" font-size="7.6" text-anchor="end" font-weight="bold" fill="#111" stroke="#111" stroke-width="0.22" transform="translate(323.40 229.60) scale(1.07 1)" >Reference</text>
<text x="0" y="0" font-size="7.6" text-anchor="end" font-weight="bold" fill="#ff3fa0" stroke="#ff3fa0" stroke-width="0.22" transform="translate(321.80 307.60) scale(1.07 1)" >MACl</text>
</svg></body></html>
